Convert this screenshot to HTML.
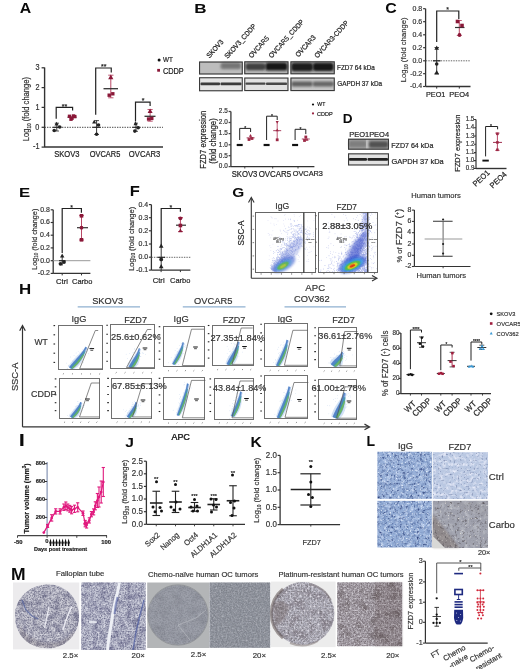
<!DOCTYPE html>
<html><head><meta charset="utf-8"><title>Figure</title>
<style>html,body{margin:0;padding:0;background:#fff;width:520px;height:669px;overflow:hidden}
svg{display:block;font-family:'Liberation Sans', Arial, sans-serif;filter:blur(0.3px)}</style></head>
<body><svg width="520" height="669" viewBox="0 0 520 669">
<defs><filter id="bl03" x="-50%" y="-50%" width="200%" height="200%"><feGaussianBlur stdDeviation="0.3"/></filter><filter id="bl05" x="-50%" y="-50%" width="200%" height="200%"><feGaussianBlur stdDeviation="0.5"/></filter><filter id="bl1" x="-50%" y="-50%" width="200%" height="200%"><feGaussianBlur stdDeviation="1"/></filter><clipPath id="cg1"><rect x="255.1" y="212.1" width="60.9" height="61.1"/></clipPath><clipPath id="cg2"><rect x="317.9" y="211.7" width="60.6" height="61"/></clipPath><clipPath id="ch0"><rect x="58" y="325.2" width="44.3" height="44.8"/></clipPath><clipPath id="ch1"><rect x="110.8" y="324.8" width="43.5" height="44"/></clipPath><clipPath id="ch2"><rect x="163.2" y="326.3" width="41.7" height="40.5"/></clipPath><clipPath id="ch3"><rect x="212.3" y="325.1" width="41.1" height="40.6"/></clipPath><clipPath id="ch4"><rect x="264.8" y="323.8" width="42.4" height="42.8"/></clipPath><clipPath id="ch5"><rect x="318.8" y="327.4" width="38.1" height="39.8"/></clipPath><clipPath id="ch6"><rect x="59.25" y="378.5" width="40.25" height="39.75"/></clipPath><clipPath id="ch7"><rect x="111.75" y="378" width="40.25" height="40.25"/></clipPath><clipPath id="ch8"><rect x="163.2" y="377.9" width="41.7" height="41.2"/></clipPath><clipPath id="ch9"><rect x="214" y="378.5" width="39.4" height="40.6"/></clipPath><clipPath id="ch10"><rect x="264.8" y="375.6" width="43" height="43"/></clipPath><clipPath id="ch11"><rect x="318.8" y="379.8" width="38.1" height="39.7"/></clipPath><filter id="lMot" x="0" y="0" width="100%" height="100%" color-interpolation-filters="sRGB"><feTurbulence type="fractalNoise" baseFrequency="0.25" numOctaves="2" seed="3" result="t"/><feColorMatrix in="t" type="matrix" values="0 0 0 0 0.8 0 0 0 0 0.86 0 0 0 0 0.96 2.2 0 0 0 -1" result="c"/><feComposite in="c" in2="SourceGraphic" operator="in"/></filter><filter id="lDot" x="0" y="0" width="100%" height="100%" color-interpolation-filters="sRGB"><feTurbulence type="fractalNoise" baseFrequency="0.5" numOctaves="2" seed="5" result="t"/><feColorMatrix in="t" type="matrix" values="0 0 0 0 0.22 0 0 0 0 0.31 0 0 0 0 0.53 4.5 0 0 0 -2.9" result="c"/><feComposite in="c" in2="SourceGraphic" operator="in"/></filter><filter id="lDot2" x="0" y="0" width="100%" height="100%" color-interpolation-filters="sRGB"><feTurbulence type="fractalNoise" baseFrequency="0.3" numOctaves="2" seed="9" result="t"/><feColorMatrix in="t" type="matrix" values="0 0 0 0 0.37 0 0 0 0 0.47 0 0 0 0 0.67 2 0 0 0 -0.95" result="c"/><feComposite in="c" in2="SourceGraphic" operator="in"/></filter><filter id="lMotB" x="0" y="0" width="100%" height="100%" color-interpolation-filters="sRGB"><feTurbulence type="fractalNoise" baseFrequency="0.25" numOctaves="2" seed="33" result="t"/><feColorMatrix in="t" type="matrix" values="0 0 0 0 0.8 0 0 0 0 0.86 0 0 0 0 0.96 2.2 0 0 0 -1" result="c"/><feComposite in="c" in2="SourceGraphic" operator="in"/></filter><filter id="lDotB" x="0" y="0" width="100%" height="100%" color-interpolation-filters="sRGB"><feTurbulence type="fractalNoise" baseFrequency="0.5" numOctaves="2" seed="35" result="t"/><feColorMatrix in="t" type="matrix" values="0 0 0 0 0.22 0 0 0 0 0.31 0 0 0 0 0.53 4.5 0 0 0 -2.9" result="c"/><feComposite in="c" in2="SourceGraphic" operator="in"/></filter><filter id="lDot2B" x="0" y="0" width="100%" height="100%" color-interpolation-filters="sRGB"><feTurbulence type="fractalNoise" baseFrequency="0.3" numOctaves="2" seed="39" result="t"/><feColorMatrix in="t" type="matrix" values="0 0 0 0 0.37 0 0 0 0 0.47 0 0 0 0 0.67 2 0 0 0 -0.95" result="c"/><feComposite in="c" in2="SourceGraphic" operator="in"/></filter><filter id="lWsp" x="0" y="0" width="100%" height="100%" color-interpolation-filters="sRGB"><feTurbulence type="fractalNoise" baseFrequency="0.6" numOctaves="2" seed="61" result="t"/><feColorMatrix in="t" type="matrix" values="0 0 0 0 0.92 0 0 0 0 0.95 0 0 0 0 0.99 3.2 0 0 0 -1.85" result="c"/><feComposite in="c" in2="SourceGraphic" operator="in"/></filter><filter id="lNav" x="0" y="0" width="100%" height="100%" color-interpolation-filters="sRGB"><feTurbulence type="fractalNoise" baseFrequency="0.35" numOctaves="2" seed="63" result="t"/><feColorMatrix in="t" type="matrix" values="0 0 0 0 0.16 0 0 0 0 0.24 0 0 0 0 0.47 3.4 0 0 0 -2.05" result="c"/><feComposite in="c" in2="SourceGraphic" operator="in"/></filter><filter id="lWspB" x="0" y="0" width="100%" height="100%" color-interpolation-filters="sRGB"><feTurbulence type="fractalNoise" baseFrequency="0.6" numOctaves="2" seed="65" result="t"/><feColorMatrix in="t" type="matrix" values="0 0 0 0 0.92 0 0 0 0 0.95 0 0 0 0 0.99 3.2 0 0 0 -1.85" result="c"/><feComposite in="c" in2="SourceGraphic" operator="in"/></filter><filter id="lNavB" x="0" y="0" width="100%" height="100%" color-interpolation-filters="sRGB"><feTurbulence type="fractalNoise" baseFrequency="0.35" numOctaves="2" seed="67" result="t"/><feColorMatrix in="t" type="matrix" values="0 0 0 0 0.16 0 0 0 0 0.24 0 0 0 0 0.47 3.4 0 0 0 -2.05" result="c"/><feComposite in="c" in2="SourceGraphic" operator="in"/></filter><filter id="lMot2" x="0" y="0" width="100%" height="100%" color-interpolation-filters="sRGB"><feTurbulence type="fractalNoise" baseFrequency="0.3" numOctaves="2" seed="11" result="t"/><feColorMatrix in="t" type="matrix" values="0 0 0 0 0.92 0 0 0 0 0.93 0 0 0 0 0.98 2.2 0 0 0 -0.95" result="c"/><feComposite in="c" in2="SourceGraphic" operator="in"/></filter><filter id="lDot3" x="0" y="0" width="100%" height="100%" color-interpolation-filters="sRGB"><feTurbulence type="fractalNoise" baseFrequency="0.5" numOctaves="2" seed="13" result="t"/><feColorMatrix in="t" type="matrix" values="0 0 0 0 0.41 0 0 0 0 0.47 0 0 0 0 0.63 3.2 0 0 0 -1.9" result="c"/><feComposite in="c" in2="SourceGraphic" operator="in"/></filter><filter id="lBrM" x="0" y="0" width="100%" height="100%" color-interpolation-filters="sRGB"><feTurbulence type="fractalNoise" baseFrequency="0.2" numOctaves="2" seed="17" result="t"/><feColorMatrix in="t" type="matrix" values="0 0 0 0 0.76 0 0 0 0 0.77 0 0 0 0 0.8 2 0 0 0 -0.9" result="c"/><feComposite in="c" in2="SourceGraphic" operator="in"/></filter><filter id="lBrD" x="0" y="0" width="100%" height="100%" color-interpolation-filters="sRGB"><feTurbulence type="fractalNoise" baseFrequency="0.4" numOctaves="2" seed="19" result="t"/><feColorMatrix in="t" type="matrix" values="0 0 0 0 0.31 0 0 0 0 0.29 0 0 0 0 0.31 2.8 0 0 0 -1.6" result="c"/><feComposite in="c" in2="SourceGraphic" operator="in"/></filter><filter id="lBrW" x="0" y="0" width="100%" height="100%" color-interpolation-filters="sRGB"><feTurbulence type="fractalNoise" baseFrequency="0.6" numOctaves="1" seed="23" result="t"/><feColorMatrix in="t" type="matrix" values="0 0 0 0 0.93 0 0 0 0 0.92 0 0 0 0 0.89 4 0 0 0 -2.6" result="c"/><feComposite in="c" in2="SourceGraphic" operator="in"/></filter><filter id="tx1" x="0" y="0" width="100%" height="100%" color-interpolation-filters="sRGB"><feTurbulence type="fractalNoise" baseFrequency="0.15" numOctaves="3" seed="3" result="t"/><feColorMatrix in="t" type="matrix" values="0 0 0 0 0.39 0 0 0 0 0.39 0 0 0 0 0.51 1.5 0 0 0 -0.6" result="c"/><feComposite in="c" in2="SourceGraphic" operator="in"/></filter><filter id="tx2" x="0" y="0" width="100%" height="100%" color-interpolation-filters="sRGB"><feTurbulence type="fractalNoise" baseFrequency="0.7" numOctaves="3" seed="5" result="t"/><feColorMatrix in="t" type="matrix" values="0 0 0 0 0.31 0 0 0 0 0.31 0 0 0 0 0.43 1.5 0 0 0 -0.55" result="c"/><feComposite in="c" in2="SourceGraphic" operator="in"/></filter><filter id="tx3" x="0" y="0" width="100%" height="100%" color-interpolation-filters="sRGB"><feTurbulence type="fractalNoise" baseFrequency="0.5" numOctaves="2" seed="7" result="t"/><feColorMatrix in="t" type="matrix" values="0 0 0 0 0.94 0 0 0 0 0.94 0 0 0 0 0.97 2.5 0 0 0 -1.4" result="c"/><feComposite in="c" in2="SourceGraphic" operator="in"/></filter><filter id="tx4" x="0" y="0" width="100%" height="100%" color-interpolation-filters="sRGB"><feTurbulence type="fractalNoise" baseFrequency="0.15" numOctaves="3" seed="13" result="t"/><feColorMatrix in="t" type="matrix" values="0 0 0 0 0.39 0 0 0 0 0.39 0 0 0 0 0.53 1.5 0 0 0 -0.6" result="c"/><feComposite in="c" in2="SourceGraphic" operator="in"/></filter><filter id="tx5" x="0" y="0" width="100%" height="100%" color-interpolation-filters="sRGB"><feTurbulence type="fractalNoise" baseFrequency="0.7" numOctaves="3" seed="15" result="t"/><feColorMatrix in="t" type="matrix" values="0 0 0 0 0.31 0 0 0 0 0.31 0 0 0 0 0.45 1.5 0 0 0 -0.55" result="c"/><feComposite in="c" in2="SourceGraphic" operator="in"/></filter><filter id="tx6" x="0" y="0" width="100%" height="100%" color-interpolation-filters="sRGB"><feTurbulence type="fractalNoise" baseFrequency="0.5" numOctaves="2" seed="17" result="t"/><feColorMatrix in="t" type="matrix" values="0 0 0 0 0.94 0 0 0 0 0.94 0 0 0 0 0.97 2.5 0 0 0 -1.4" result="c"/><feComposite in="c" in2="SourceGraphic" operator="in"/></filter><filter id="tx7" x="0" y="0" width="100%" height="100%" color-interpolation-filters="sRGB"><feTurbulence type="fractalNoise" baseFrequency="0.12" numOctaves="2" seed="23" result="t"/><feColorMatrix in="t" type="matrix" values="0 0 0 0 0.49 0 0 0 0 0.5 0 0 0 0 0.54 1.2 0 0 0 -0.5" result="c"/><feComposite in="c" in2="SourceGraphic" operator="in"/></filter><filter id="tx8" x="0" y="0" width="100%" height="100%" color-interpolation-filters="sRGB"><feTurbulence type="fractalNoise" baseFrequency="0.7" numOctaves="3" seed="25" result="t"/><feColorMatrix in="t" type="matrix" values="0 0 0 0 0.43 0 0 0 0 0.44 0 0 0 0 0.48 1 0 0 0 -0.38" result="c"/><feComposite in="c" in2="SourceGraphic" operator="in"/></filter><filter id="tx9" x="0" y="0" width="100%" height="100%" color-interpolation-filters="sRGB"><feTurbulence type="fractalNoise" baseFrequency="0.5" numOctaves="3" seed="33" result="t"/><feColorMatrix in="t" type="matrix" values="0 0 0 0 0.73 0 0 0 0 0.74 0 0 0 0 0.77 1.6 0 0 0 -0.6" result="c"/><feComposite in="c" in2="SourceGraphic" operator="in"/></filter><filter id="tx10" x="0" y="0" width="100%" height="100%" color-interpolation-filters="sRGB"><feTurbulence type="fractalNoise" baseFrequency="0.8" numOctaves="2" seed="35" result="t"/><feColorMatrix in="t" type="matrix" values="0 0 0 0 0.39 0 0 0 0 0.4 0 0 0 0 0.43 1.1 0 0 0 -0.4" result="c"/><feComposite in="c" in2="SourceGraphic" operator="in"/></filter><filter id="tx11" x="0" y="0" width="100%" height="100%" color-interpolation-filters="sRGB"><feTurbulence type="fractalNoise" baseFrequency="0.1" numOctaves="2" seed="43" result="t"/><feColorMatrix in="t" type="matrix" values="0 0 0 0 0.43 0 0 0 0 0.39 0 0 0 0 0.43 1.6 0 0 0 -0.75" result="c"/><feComposite in="c" in2="SourceGraphic" operator="in"/></filter><filter id="tx12" x="0" y="0" width="100%" height="100%" color-interpolation-filters="sRGB"><feTurbulence type="fractalNoise" baseFrequency="0.7" numOctaves="3" seed="45" result="t"/><feColorMatrix in="t" type="matrix" values="0 0 0 0 0.37 0 0 0 0 0.35 0 0 0 0 0.37 1.4 0 0 0 -0.52" result="c"/><feComposite in="c" in2="SourceGraphic" operator="in"/></filter><filter id="tx13" x="0" y="0" width="100%" height="100%" color-interpolation-filters="sRGB"><feTurbulence type="fractalNoise" baseFrequency="0.5" numOctaves="2" seed="47" result="t"/><feColorMatrix in="t" type="matrix" values="0 0 0 0 0.92 0 0 0 0 0.91 0 0 0 0 0.94 2.4 0 0 0 -1.15" result="c"/><feComposite in="c" in2="SourceGraphic" operator="in"/></filter><filter id="tx14" x="0" y="0" width="100%" height="100%" color-interpolation-filters="sRGB"><feTurbulence type="fractalNoise" baseFrequency="0.1" numOctaves="2" seed="53" result="t"/><feColorMatrix in="t" type="matrix" values="0 0 0 0 0.39 0 0 0 0 0.35 0 0 0 0 0.36 1.8 0 0 0 -0.85" result="c"/><feComposite in="c" in2="SourceGraphic" operator="in"/></filter><filter id="tx15" x="0" y="0" width="100%" height="100%" color-interpolation-filters="sRGB"><feTurbulence type="fractalNoise" baseFrequency="0.7" numOctaves="3" seed="55" result="t"/><feColorMatrix in="t" type="matrix" values="0 0 0 0 0.33 0 0 0 0 0.29 0 0 0 0 0.31 1.4 0 0 0 -0.5" result="c"/><feComposite in="c" in2="SourceGraphic" operator="in"/></filter><filter id="tx16" x="0" y="0" width="100%" height="100%" color-interpolation-filters="sRGB"><feTurbulence type="fractalNoise" baseFrequency="0.5" numOctaves="2" seed="57" result="t"/><feColorMatrix in="t" type="matrix" values="0 0 0 0 0.9 0 0 0 0 0.89 0 0 0 0 0.91 2.4 0 0 0 -1.2" result="c"/><feComposite in="c" in2="SourceGraphic" operator="in"/></filter></defs>
<text transform="translate(19.63 13.45) scale(1.14 1)" font-size="13.91" font-weight="bold" fill="#0a0a0a">A</text>
<line x1="44.6" y1="67.5" x2="44.6" y2="147.3" stroke="#333" stroke-width="1.4"/>
<line x1="41.6" y1="67.8" x2="44.6" y2="67.8" stroke="#333" stroke-width="1.26"/>
<text transform="translate(35.38 70.1) scale(0.87 1)" font-size="8.39" fill="#333" stroke="#333" stroke-width="0.21">3</text>
<line x1="41.6" y1="87.6" x2="44.6" y2="87.6" stroke="#333" stroke-width="1.26"/>
<text transform="translate(35.38 89.94) scale(0.87 1)" font-size="8.39" fill="#333" stroke="#333" stroke-width="0.21">2</text>
<line x1="41.6" y1="107.4" x2="44.6" y2="107.4" stroke="#333" stroke-width="1.26"/>
<text transform="translate(35.38 109.7) scale(0.87 1)" font-size="8.39" fill="#333" stroke="#333" stroke-width="0.21">1</text>
<line x1="41.6" y1="127.3" x2="44.6" y2="127.3" stroke="#333" stroke-width="1.26"/>
<text transform="translate(35.3 129.6) scale(0.87 1)" font-size="8.39" fill="#333" stroke="#333" stroke-width="0.21">0</text>
<line x1="41.6" y1="147.1" x2="44.6" y2="147.1" stroke="#333" stroke-width="1.26"/>
<text transform="translate(32.97 149.4) scale(0.87 1)" font-size="8.39" fill="#333" stroke="#333" stroke-width="0.21">-1</text>
<line x1="44.5" y1="146.9" x2="163" y2="146.9" stroke="#333" stroke-width="1.5"/>
<line x1="44.5" y1="127.3" x2="163" y2="127.3" stroke="#333" stroke-width="0.9" stroke-dasharray="1.4,1.1"/>
<text transform="translate(29.33 141.26) rotate(-90) scale(0.87 1)" font-size="8.73" fill="#333" stroke="#333" stroke-width="0.21">Log<tspan font-size="5.42" dy="1.84">10</tspan><tspan dy="-1.84"> (fold change)</tspan></text>
<text transform="translate(54.17 157.21) scale(0.87 1)" font-size="8.73" fill="#222" stroke="#222" stroke-width="0.21">SKOV3</text>
<text transform="translate(89.68 157.15) scale(0.87 1)" font-size="8.56" fill="#222" stroke="#222" stroke-width="0.21">OVCAR5</text>
<text transform="translate(128.87 157.23) scale(0.87 1)" font-size="8.78" fill="#222" stroke="#222" stroke-width="0.21">OVCAR3</text>
<polyline points="56.2,118.8 56.2,107.3 72.6,107.3 72.6,110.4" stroke="#222" stroke-width="1.2" fill="none"/>
<text transform="translate(61.87 108.95) scale(0.87 1)" font-size="8.05" fill="#222" stroke="#222" stroke-width="0.21">**</text>
<line x1="56.8" y1="123.2" x2="56.8" y2="131" stroke="#222" stroke-width="0.9"/>
<line x1="53" y1="127.3" x2="61.5" y2="127.3" stroke="#222" stroke-width="1.1"/>
<line x1="54.8" y1="123.2" x2="59" y2="123.2" stroke="#222" stroke-width="0.8"/>
<line x1="54.8" y1="131" x2="59" y2="131" stroke="#222" stroke-width="0.8"/>
<polygon points="54.5,125.48 58.7,125.48 56.6,121.7" fill="#222"/>
<circle cx="59.7" cy="127" r="1.8" fill="#222"/>
<circle cx="54.2" cy="130.5" r="1.8" fill="#222"/>
<line x1="67.5" y1="117.2" x2="76.5" y2="117.2" stroke="#333" stroke-width="1.1"/>
<rect x="67.8" y="114.6" width="3.4" height="3.4" fill="#8a1838"/>
<rect x="70.3" y="116.5" width="3.4" height="3.4" fill="#8a1838"/>
<rect x="73.1" y="114.9" width="3.4" height="3.4" fill="#8a1838"/>
<rect x="69.3" y="117.5" width="3.4" height="3.4" fill="#8a1838"/>
<rect x="71.8" y="114.3" width="3.4" height="3.4" fill="#8a1838"/>
<polyline points="95.7,114.7 95.7,68 111.25,68 111.25,72.5" stroke="#222" stroke-width="1.2" fill="none"/>
<text transform="translate(100.97 68.95) scale(0.87 1)" font-size="8.05" fill="#222" stroke="#222" stroke-width="0.21">**</text>
<line x1="96.6" y1="120.4" x2="96.6" y2="134.5" stroke="#222" stroke-width="0.9"/>
<line x1="92.5" y1="127.3" x2="100.5" y2="127.3" stroke="#222" stroke-width="1.1"/>
<line x1="94.3" y1="120.6" x2="99" y2="120.6" stroke="#222" stroke-width="0.8"/>
<line x1="94.3" y1="134.5" x2="99" y2="134.5" stroke="#222" stroke-width="0.8"/>
<polygon points="92.1,123.58 96.3,123.58 94.2,119.8" fill="#222"/>
<circle cx="98.5" cy="125" r="1.8" fill="#222"/>
<circle cx="96.6" cy="134.2" r="1.8" fill="#222"/>
<line x1="110.8" y1="75" x2="110.8" y2="97.8" stroke="#b84866" stroke-width="1"/>
<line x1="103.5" y1="88.7" x2="118" y2="88.7" stroke="#333" stroke-width="1.3"/>
<line x1="108.2" y1="75.2" x2="113.5" y2="75.2" stroke="#b84866" stroke-width="0.9"/>
<line x1="108.2" y1="97.8" x2="113.5" y2="97.8" stroke="#b84866" stroke-width="0.9"/>
<polygon points="108.2,79.28 113.4,79.28 110.8,74.6" fill="#8a1838"/>
<rect x="107.5" y="93.5" width="3.4" height="3.4" fill="#8a1838"/>
<rect x="111.1" y="92.1" width="3.4" height="3.4" fill="#8a1838"/>
<polyline points="135.5,121.6 135.5,102.1 150.1,102.1 150.1,106" stroke="#222" stroke-width="1.2" fill="none"/>
<text transform="translate(141.73 103.35) scale(0.87 1)" font-size="8.05" fill="#222" stroke="#222" stroke-width="0.21">*</text>
<line x1="136" y1="123" x2="136" y2="131.5" stroke="#222" stroke-width="0.9"/>
<line x1="132.5" y1="127.3" x2="139.5" y2="127.3" stroke="#222" stroke-width="1.1"/>
<line x1="134" y1="123.2" x2="138" y2="123.2" stroke="#222" stroke-width="0.8"/>
<line x1="134" y1="131.3" x2="138" y2="131.3" stroke="#222" stroke-width="0.8"/>
<polygon points="133.5,125.28 137.7,125.28 135.6,121.5" fill="#222"/>
<circle cx="138.2" cy="127.8" r="1.8" fill="#222"/>
<circle cx="134.8" cy="131.1" r="1.8" fill="#222"/>
<line x1="150.1" y1="109.5" x2="150.1" y2="121.2" stroke="#b84866" stroke-width="1"/>
<line x1="144.5" y1="116.3" x2="155.5" y2="116.3" stroke="#333" stroke-width="1.3"/>
<line x1="147.5" y1="109.5" x2="152.7" y2="109.5" stroke="#b84866" stroke-width="0.9"/>
<line x1="147.5" y1="121.2" x2="152.7" y2="121.2" stroke="#b84866" stroke-width="0.9"/>
<polygon points="147.6,113 152.6,113 150.1,108.5" fill="#8a1838"/>
<rect x="146.9" y="117.3" width="3.4" height="3.4" fill="#8a1838"/>
<rect x="150.1" y="116.7" width="3.4" height="3.4" fill="#8a1838"/>
<circle cx="159.1" cy="60.1" r="1.5" fill="#111"/>
<text transform="translate(163.05 62.42) scale(0.87 1)" font-size="7.29" fill="#222" stroke="#222" stroke-width="0.21">WT</text>
<rect x="157.2" y="68.9" width="2.8" height="2.8" fill="#8a1838"/>
<text transform="translate(162.88 73.62) scale(0.87 1)" font-size="8.48" fill="#222" stroke="#222" stroke-width="0.21">CDDP</text>
<text transform="translate(385.27 12.81) scale(1.13 1)" font-size="14.08" font-weight="bold" fill="#0a0a0a">C</text>
<line x1="425.6" y1="8.7" x2="425.6" y2="86.5" stroke="#333" stroke-width="1.3"/>
<line x1="423.1" y1="8.7" x2="425.6" y2="8.7" stroke="#333" stroke-width="1.17"/>
<text transform="translate(412.52 10.52)" font-size="7" fill="#333" stroke="#333" stroke-width="0.18">0.8</text>
<line x1="423.1" y1="21.7" x2="425.6" y2="21.7" stroke="#333" stroke-width="1.17"/>
<text transform="translate(412.52 23.51)" font-size="7" fill="#333" stroke="#333" stroke-width="0.18">0.6</text>
<line x1="423.1" y1="34.8" x2="425.6" y2="34.8" stroke="#333" stroke-width="1.17"/>
<text transform="translate(412.38 36.61)" font-size="7" fill="#333" stroke="#333" stroke-width="0.18">0.4</text>
<line x1="423.1" y1="47.7" x2="425.6" y2="47.7" stroke="#333" stroke-width="1.17"/>
<text transform="translate(412.52 49.52)" font-size="7" fill="#333" stroke="#333" stroke-width="0.18">0.2</text>
<line x1="423.1" y1="60.8" x2="425.6" y2="60.8" stroke="#333" stroke-width="1.17"/>
<text transform="translate(412.45 62.61)" font-size="7" fill="#333" stroke="#333" stroke-width="0.18">0.0</text>
<line x1="423.1" y1="73.7" x2="425.6" y2="73.7" stroke="#333" stroke-width="1.17"/>
<text transform="translate(410.14 75.52)" font-size="7" fill="#333" stroke="#333" stroke-width="0.18">-0.2</text>
<line x1="423.1" y1="86.5" x2="425.6" y2="86.5" stroke="#333" stroke-width="1.17"/>
<text transform="translate(410 88.32)" font-size="7" fill="#333" stroke="#333" stroke-width="0.18">-0.4</text>
<line x1="425.8" y1="86.5" x2="470.5" y2="86.5" stroke="#333" stroke-width="1.4"/>
<line x1="436.7" y1="86.5" x2="436.7" y2="88.6" stroke="#333" stroke-width="1"/>
<line x1="459.3" y1="86.5" x2="459.3" y2="88.6" stroke="#333" stroke-width="1"/>
<line x1="425.8" y1="60.8" x2="470.5" y2="60.8" stroke="#555" stroke-width="0.9" stroke-dasharray="1.4,1.1"/>
<text transform="translate(406.16 82.36) rotate(-90)" font-size="7.67" fill="#333" stroke="#333" stroke-width="0.18">Log<tspan font-size="4.76" dy="1.6">10</tspan><tspan dy="-1.6"> (fold change)</tspan></text>
<text transform="translate(425.97 96.71)" font-size="7.28" fill="#222" stroke="#222" stroke-width="0.18">PEO1</text>
<text transform="translate(449.35 96.77)" font-size="7.46" fill="#222" stroke="#222" stroke-width="0.18">PEO4</text>
<polyline points="436.7,42 436.7,11 458.8,11 458.8,19" stroke="#222" stroke-width="1.2" fill="none"/>
<text transform="translate(446.33 11.91)" font-size="7" fill="#222" stroke="#222" stroke-width="0.18">*</text>
<line x1="436.7" y1="47.5" x2="436.7" y2="74" stroke="#222" stroke-width="0.9"/>
<line x1="433" y1="60.8" x2="440.5" y2="60.8" stroke="#222" stroke-width="1.2"/>
<line x1="434.5" y1="47.5" x2="439" y2="47.5" stroke="#222" stroke-width="0.8"/>
<line x1="434.5" y1="74" x2="439" y2="74" stroke="#222" stroke-width="0.8"/>
<polygon points="434.4,49.64 439,49.64 436.7,45.5" fill="#222"/>
<circle cx="436.7" cy="64" r="1.8" fill="#222"/>
<polygon points="434.4,74.14 439,74.14 436.7,70" fill="#222"/>
<line x1="459.3" y1="20.5" x2="459.3" y2="35.5" stroke="#b84866" stroke-width="1"/>
<line x1="455" y1="27.5" x2="464.5" y2="27.5" stroke="#333" stroke-width="1.2"/>
<line x1="456.8" y1="20.5" x2="461.8" y2="20.5" stroke="#b84866" stroke-width="0.9"/>
<line x1="456.8" y1="35.5" x2="461.8" y2="35.5" stroke="#b84866" stroke-width="0.9"/>
<rect x="455.7" y="19.7" width="3.6" height="3.6" fill="#8a1838"/>
<rect x="460.2" y="23.7" width="3.6" height="3.6" fill="#8a1838"/>
<circle cx="459.5" cy="35" r="1.9" fill="#8a1838"/>
<text transform="translate(19.12 196.85) scale(1.27 1)" font-size="13.19" font-weight="bold" fill="#0a0a0a">E</text>
<line x1="53.2" y1="209.8" x2="53.2" y2="273.4" stroke="#333" stroke-width="1.3"/>
<line x1="50.7" y1="209.8" x2="53.2" y2="209.8" stroke="#333" stroke-width="1.17"/>
<text transform="translate(40.22 211.74) scale(0.95 1)" font-size="7.35" fill="#333" stroke="#333" stroke-width="0.19">0.8</text>
<line x1="50.7" y1="222.5" x2="53.2" y2="222.5" stroke="#333" stroke-width="1.17"/>
<text transform="translate(40.22 224.44) scale(0.95 1)" font-size="7.35" fill="#333" stroke="#333" stroke-width="0.19">0.6</text>
<line x1="50.7" y1="235.2" x2="53.2" y2="235.2" stroke="#333" stroke-width="1.17"/>
<text transform="translate(40.08 237.14) scale(0.95 1)" font-size="7.35" fill="#333" stroke="#333" stroke-width="0.19">0.4</text>
<line x1="50.7" y1="247.9" x2="53.2" y2="247.9" stroke="#333" stroke-width="1.17"/>
<text transform="translate(40.22 249.84) scale(0.95 1)" font-size="7.35" fill="#333" stroke="#333" stroke-width="0.19">0.2</text>
<line x1="50.7" y1="260.7" x2="53.2" y2="260.7" stroke="#333" stroke-width="1.17"/>
<text transform="translate(40.15 262.64) scale(0.95 1)" font-size="7.35" fill="#333" stroke="#333" stroke-width="0.19">0.0</text>
<line x1="50.7" y1="273.4" x2="53.2" y2="273.4" stroke="#333" stroke-width="1.17"/>
<text transform="translate(37.84 275.34) scale(0.95 1)" font-size="7.35" fill="#333" stroke="#333" stroke-width="0.19">-0.2</text>
<line x1="53.2" y1="273.4" x2="90.4" y2="273.4" stroke="#333" stroke-width="1.4"/>
<line x1="62.2" y1="273.4" x2="62.2" y2="275.4" stroke="#333" stroke-width="1"/>
<line x1="81.5" y1="273.4" x2="81.5" y2="275.4" stroke="#333" stroke-width="1"/>
<line x1="53.2" y1="260.7" x2="90.4" y2="260.7" stroke="#999" stroke-width="1"/>
<text transform="translate(36.54 269.83) rotate(-90) scale(0.95 1)" font-size="7.6" fill="#333" stroke="#333" stroke-width="0.19">Log<tspan font-size="4.71" dy="1.68">10</tspan><tspan dy="-1.68"> (fold change)</tspan></text>
<text transform="translate(55.97 284.27) scale(0.95 1)" font-size="8.09" fill="#222" stroke="#222" stroke-width="0.19">Ctrl</text>
<text transform="translate(72.03 284.2) scale(0.95 1)" font-size="7.88" fill="#222" stroke="#222" stroke-width="0.19">Carbo</text>
<polyline points="62.2,253 62.2,208.5 81.4,208.5 81.4,212.7" stroke="#222" stroke-width="1.2" fill="none"/>
<text transform="translate(70.14 210.09) scale(0.95 1)" font-size="7.35" fill="#222" stroke="#222" stroke-width="0.19">*</text>
<line x1="62.2" y1="255.5" x2="62.2" y2="265.5" stroke="#222" stroke-width="0.9"/>
<line x1="59" y1="260.7" x2="65.5" y2="260.7" stroke="#222" stroke-width="1.1"/>
<polygon points="60,257.56 64.4,257.56 62.2,253.6" fill="#222"/>
<circle cx="64" cy="262.1" r="1.9" fill="#222"/>
<circle cx="60.5" cy="263.8" r="1.9" fill="#222"/>
<line x1="81.5" y1="215.6" x2="81.5" y2="240" stroke="#b84866" stroke-width="1"/>
<line x1="77" y1="227.7" x2="88" y2="227.7" stroke="#333" stroke-width="1.2"/>
<line x1="79" y1="215.6" x2="84" y2="215.6" stroke="#b84866" stroke-width="0.9"/>
<line x1="79" y1="240" x2="84" y2="240" stroke="#b84866" stroke-width="0.9"/>
<rect x="79.7" y="214" width="3.6" height="3.6" fill="#8a1838"/>
<circle cx="81.5" cy="227.7" r="1.9" fill="#8a1838"/>
<rect x="79.7" y="238" width="3.6" height="3.6" fill="#8a1838"/>
<text transform="translate(129.75 196.25) scale(1.14 1)" font-size="14.49" font-weight="bold" fill="#0a0a0a">F</text>
<line x1="151.4" y1="204.6" x2="151.4" y2="270.1" stroke="#333" stroke-width="1.3"/>
<line x1="148.9" y1="204.6" x2="151.4" y2="204.6" stroke="#333" stroke-width="1.17"/>
<text transform="translate(138.38 206.54) scale(0.95 1)" font-size="7.35" fill="#333" stroke="#333" stroke-width="0.19">0.4</text>
<line x1="148.9" y1="217.7" x2="151.4" y2="217.7" stroke="#333" stroke-width="1.17"/>
<text transform="translate(138.52 219.64) scale(0.95 1)" font-size="7.35" fill="#333" stroke="#333" stroke-width="0.19">0.3</text>
<line x1="148.9" y1="230.8" x2="151.4" y2="230.8" stroke="#333" stroke-width="1.17"/>
<text transform="translate(138.52 232.74) scale(0.95 1)" font-size="7.35" fill="#333" stroke="#333" stroke-width="0.19">0.2</text>
<line x1="148.9" y1="244" x2="151.4" y2="244" stroke="#333" stroke-width="1.17"/>
<text transform="translate(138.52 245.94) scale(0.95 1)" font-size="7.35" fill="#333" stroke="#333" stroke-width="0.19">0.1</text>
<line x1="148.9" y1="257.2" x2="151.4" y2="257.2" stroke="#333" stroke-width="1.17"/>
<text transform="translate(138.45 259.14) scale(0.95 1)" font-size="7.35" fill="#333" stroke="#333" stroke-width="0.19">0.0</text>
<line x1="148.9" y1="270.1" x2="151.4" y2="270.1" stroke="#333" stroke-width="1.17"/>
<text transform="translate(136.14 272.04) scale(0.95 1)" font-size="7.35" fill="#333" stroke="#333" stroke-width="0.19">-0.1</text>
<line x1="151.4" y1="270.1" x2="190.4" y2="270.1" stroke="#333" stroke-width="1.4"/>
<line x1="161.1" y1="270.1" x2="161.1" y2="272.1" stroke="#333" stroke-width="1"/>
<line x1="180.4" y1="270.1" x2="180.4" y2="272.1" stroke="#333" stroke-width="1"/>
<line x1="151.4" y1="257.3" x2="190.4" y2="257.3" stroke="#555" stroke-width="0.9" stroke-dasharray="1.4,1.1"/>
<text transform="translate(133.73 270.86) rotate(-90) scale(0.95 1)" font-size="7.97" fill="#333" stroke="#333" stroke-width="0.19">Log<tspan font-size="4.95" dy="1.68">10</tspan><tspan dy="-1.68"> (fold change)</tspan></text>
<text transform="translate(152.67 282.87) scale(0.95 1)" font-size="8.09" fill="#222" stroke="#222" stroke-width="0.19">Ctrl</text>
<text transform="translate(170.03 282.8) scale(0.95 1)" font-size="7.88" fill="#222" stroke="#222" stroke-width="0.19">Carbo</text>
<polyline points="161.2,245 161.2,208.5 180.4,208.5 180.4,211.7" stroke="#222" stroke-width="1.2" fill="none"/>
<text transform="translate(169.44 210.09) scale(0.95 1)" font-size="7.35" fill="#222" stroke="#222" stroke-width="0.19">*</text>
<line x1="161.2" y1="245.5" x2="161.2" y2="270" stroke="#222" stroke-width="0.9"/>
<line x1="157.5" y1="257.3" x2="165" y2="257.3" stroke="#222" stroke-width="1.1"/>
<polygon points="158.9,247.64 163.5,247.64 161.2,243.5" fill="#222"/>
<circle cx="161.2" cy="259.4" r="1.9" fill="#222"/>
<polygon points="158.9,268.14 163.5,268.14 161.2,264" fill="#222"/>
<line x1="180.4" y1="217.5" x2="180.4" y2="231.5" stroke="#b84866" stroke-width="1"/>
<line x1="176" y1="225.2" x2="186" y2="225.2" stroke="#333" stroke-width="1.2"/>
<line x1="178" y1="217.5" x2="183" y2="217.5" stroke="#b84866" stroke-width="0.9"/>
<line x1="178" y1="231.5" x2="183" y2="231.5" stroke="#b84866" stroke-width="0.9"/>
<circle cx="180.4" cy="218.3" r="1.9" fill="#8a1838"/>
<rect x="178.6" y="223.7" width="3.6" height="3.6" fill="#8a1838"/>
<polygon points="178.3,232.18 182.5,232.18 180.4,228.4" fill="#8a1838"/>
<text transform="translate(194.21 13.05) scale(1.28 1)" font-size="13.33" font-weight="bold" fill="#0a0a0a">B</text>
<rect x="199" y="61.5" width="43.8" height="13" fill="#bdbdbd"/>
<rect x="220.5" y="62.8" width="20.5" height="6.5" rx="2.17" fill="#7a7a7a" opacity="0.85" filter="url(#bl1)"/>
<rect x="222" y="63.5" width="18" height="4" rx="1.33" fill="#6a6a6a" opacity="0.6" filter="url(#bl1)"/>
<rect x="199.55" y="62.05" width="42.7" height="11.9" fill="none" stroke="#3a3a3a" stroke-width="1.1"/>
<rect x="244.2" y="61.3" width="44.3" height="13" fill="#b8b8b8"/>
<rect x="245.5" y="63.2" width="20" height="7" rx="2.33" fill="#3a3a3a" opacity="0.95" filter="url(#bl1)"/>
<rect x="265.5" y="62.6" width="22" height="8" rx="2.67" fill="#151515" opacity="1" filter="url(#bl1)"/>
<rect x="244.75" y="61.85" width="43.2" height="11.9" fill="none" stroke="#3a3a3a" stroke-width="1.1"/>
<rect x="290.4" y="61.3" width="44.4" height="13" fill="#b0b0b0"/>
<rect x="291.3" y="62.8" width="21.5" height="8.5" rx="2.83" fill="#1a1a1a" opacity="1" filter="url(#bl1)"/>
<rect x="312.7" y="62.8" width="21" height="8.2" rx="2.73" fill="#161616" opacity="1" filter="url(#bl1)"/>
<rect x="290.95" y="61.85" width="43.3" height="11.9" fill="none" stroke="#3a3a3a" stroke-width="1.1"/>
<rect x="199" y="77.2" width="43.8" height="14.1" fill="#e4e4e4"/>
<rect x="200.5" y="82.6" width="19.5" height="2.6" rx="0.87" fill="#3a3a3a" opacity="1" filter="url(#bl05)"/>
<rect x="220.5" y="82.6" width="21" height="2.6" rx="0.87" fill="#3a3a3a" opacity="1" filter="url(#bl05)"/>
<rect x="199.55" y="77.75" width="42.7" height="13" fill="none" stroke="#3a3a3a" stroke-width="1.1"/>
<rect x="244.2" y="77.5" width="44.3" height="13.6" fill="#e2e2e2"/>
<rect x="245.5" y="82.4" width="20" height="2.4" rx="0.8" fill="#404040" opacity="0.95" filter="url(#bl05)"/>
<rect x="266" y="82.6" width="21" height="2.4" rx="0.8" fill="#404040" opacity="0.95" filter="url(#bl05)"/>
<rect x="244.75" y="78.05" width="43.2" height="12.5" fill="none" stroke="#3a3a3a" stroke-width="1.1"/>
<rect x="290.4" y="77.5" width="44.4" height="13.6" fill="#c6c6c6"/>
<rect x="291.5" y="81.4" width="21" height="5" rx="1.67" fill="#5a5a5a" opacity="0.95" filter="url(#bl1)"/>
<rect x="312.8" y="81.4" width="21" height="5" rx="1.67" fill="#606060" opacity="0.95" filter="url(#bl1)"/>
<rect x="290.95" y="78.05" width="43.3" height="12.5" fill="none" stroke="#3a3a3a" stroke-width="1.1"/>
<text transform="translate(337.04 70.48) scale(0.91 1)" font-size="6.99" fill="#222" stroke="#222" stroke-width="0.2">FZD7 64 kDa</text>
<text transform="translate(337.23 86.2) scale(0.91 1)" font-size="7.05" fill="#222" stroke="#222" stroke-width="0.2">GAPDH 37 kDa</text>
<text transform="translate(209.4 58.4) rotate(-48) scale(0.91 1)" font-size="7.15" fill="#222" stroke="#222" stroke-width="0.2">SKOV3</text>
<text transform="translate(227.4 59.1) rotate(-48) scale(0.91 1)" font-size="7.15" fill="#222" stroke="#222" stroke-width="0.2">SKOV3_CDDP</text>
<text transform="translate(251.7 58.4) rotate(-48) scale(0.91 1)" font-size="7.15" fill="#222" stroke="#222" stroke-width="0.2">OVCAR5</text>
<text transform="translate(271.8 58.4) rotate(-48) scale(0.91 1)" font-size="7.15" fill="#222" stroke="#222" stroke-width="0.2">OVCAR5_CDDP</text>
<text transform="translate(298.4 57.6) rotate(-48) scale(0.91 1)" font-size="7.15" fill="#222" stroke="#222" stroke-width="0.2">OVCAR3</text>
<text transform="translate(317.4 58.4) rotate(-48) scale(0.91 1)" font-size="7.15" fill="#222" stroke="#222" stroke-width="0.2">OVCAR3-CDDP</text>
<line x1="230.9" y1="111.5" x2="230.9" y2="166.6" stroke="#444" stroke-width="1.4"/>
<line x1="228.6" y1="111.5" x2="230.9" y2="111.5" stroke="#444" stroke-width="1.26"/>
<text transform="translate(218.86 113.33) scale(0.91 1)" font-size="7.04" fill="#333" stroke="#333" stroke-width="0.2">2.5</text>
<line x1="228.6" y1="122.5" x2="230.9" y2="122.5" stroke="#444" stroke-width="1.26"/>
<text transform="translate(218.86 124.33) scale(0.91 1)" font-size="7.04" fill="#333" stroke="#333" stroke-width="0.2">2.0</text>
<line x1="228.6" y1="133.6" x2="230.9" y2="133.6" stroke="#444" stroke-width="1.26"/>
<text transform="translate(218.86 135.39) scale(0.91 1)" font-size="7.04" fill="#333" stroke="#333" stroke-width="0.2">1.5</text>
<line x1="228.6" y1="144.8" x2="230.9" y2="144.8" stroke="#444" stroke-width="1.26"/>
<text transform="translate(218.86 146.63) scale(0.91 1)" font-size="7.04" fill="#333" stroke="#333" stroke-width="0.2">1.0</text>
<line x1="228.6" y1="155.7" x2="230.9" y2="155.7" stroke="#444" stroke-width="1.26"/>
<text transform="translate(218.86 157.53) scale(0.91 1)" font-size="7.04" fill="#333" stroke="#333" stroke-width="0.2">0.5</text>
<line x1="228.6" y1="166.6" x2="230.9" y2="166.6" stroke="#444" stroke-width="1.26"/>
<text transform="translate(218.86 168.43) scale(0.91 1)" font-size="7.04" fill="#333" stroke="#333" stroke-width="0.2">0.0</text>
<line x1="230.9" y1="166.6" x2="314.4" y2="166.6" stroke="#333" stroke-width="1.4"/>
<line x1="244.8" y1="166.5" x2="244.8" y2="168.5" stroke="#333" stroke-width="0.9"/>
<line x1="272.7" y1="166.5" x2="272.7" y2="168.5" stroke="#333" stroke-width="0.9"/>
<line x1="298" y1="166.5" x2="298" y2="168.5" stroke="#333" stroke-width="0.9"/>
<text transform="translate(205.73 168.66) rotate(-90) scale(0.91 1)" font-size="8.36" fill="#222" stroke="#222" stroke-width="0.2">FZD7 expression</text>
<text transform="translate(215.99 163.72) rotate(-90) scale(0.91 1)" font-size="8.58" fill="#222" stroke="#222" stroke-width="0.2">(fold change)</text>
<text transform="translate(231.67 176.62) scale(0.91 1)" font-size="8.45" fill="#222" stroke="#222" stroke-width="0.2">SKOV3</text>
<text transform="translate(258.65 176.7) scale(0.91 1)" font-size="8.71" fill="#222" stroke="#222" stroke-width="0.2">OVCAR5</text>
<text transform="translate(292.68 176.49) scale(0.91 1)" font-size="8.1" fill="#222" stroke="#222" stroke-width="0.2">OVCAR3</text>
<line x1="236.7" y1="145" x2="242.7" y2="145" stroke="#111" stroke-width="2.2"/>
<polyline points="239.7,140 239.7,128.4 250.6,128.4 250.6,132" stroke="#222" stroke-width="1" fill="none"/>
<text transform="translate(244.17 130.03) scale(0.91 1)" font-size="5.5" fill="#222" stroke="#222" stroke-width="0.2">*</text>
<line x1="250.6" y1="135.5" x2="250.6" y2="139.5" stroke="#b84866" stroke-width="0.9"/>
<line x1="246.6" y1="137.83" x2="254.6" y2="137.83" stroke="#a03050" stroke-width="0.9"/>
<polygon points="248.9,136.78 252.1,136.78 250.5,133.9" fill="#9c2845"/>
<rect x="247.6" y="138.1" width="2.8" height="2.8" fill="#9c2845"/>
<rect x="250.6" y="137.1" width="2.8" height="2.8" fill="#9c2845"/>
<line x1="263.6" y1="145" x2="269.6" y2="145" stroke="#111" stroke-width="2.2"/>
<polyline points="266.6,140 266.6,116.2 277.2,116.2 277.2,120" stroke="#222" stroke-width="1" fill="none"/>
<text transform="translate(270.92 117.83) scale(0.91 1)" font-size="5.5" fill="#222" stroke="#222" stroke-width="0.2">*</text>
<line x1="277.2" y1="122.2" x2="277.2" y2="139.8" stroke="#b84866" stroke-width="0.9"/>
<line x1="273.2" y1="130.67" x2="281.2" y2="130.67" stroke="#a03050" stroke-width="0.9"/>
<polygon points="275.6,120.92 278.8,120.92 277.2,123.8" fill="#9c2845"/>
<polygon points="275.6,131.28 278.8,131.28 277.2,128.4" fill="#9c2845"/>
<rect x="275.8" y="138.4" width="2.8" height="2.8" fill="#9c2845"/>
<line x1="292.1" y1="145" x2="298.1" y2="145" stroke="#111" stroke-width="2.2"/>
<polyline points="295.1,140 295.1,129.3 305.8,129.3 305.8,134.1" stroke="#222" stroke-width="1" fill="none"/>
<text transform="translate(299.48 130.93) scale(0.91 1)" font-size="5.5" fill="#222" stroke="#222" stroke-width="0.2">*</text>
<line x1="305.8" y1="137" x2="305.8" y2="140.5" stroke="#b84866" stroke-width="0.9"/>
<line x1="301.8" y1="139" x2="309.8" y2="139" stroke="#a03050" stroke-width="0.9"/>
<rect x="304.4" y="135.6" width="2.8" height="2.8" fill="#9c2845"/>
<rect x="303.1" y="139.1" width="2.8" height="2.8" fill="#9c2845"/>
<polygon points="305.4,140.78 308.6,140.78 307,137.9" fill="#9c2845"/>
<circle cx="313" cy="104.5" r="1.1" fill="#111"/>
<text transform="translate(317.35 106.43) scale(0.91 1)" font-size="5.61" fill="#222" stroke="#222" stroke-width="0.2">WT</text>
<circle cx="313" cy="113.4" r="1.1" fill="#9c2845"/>
<text transform="translate(317.07 115.51) scale(0.91 1)" font-size="6.1" fill="#222" stroke="#222" stroke-width="0.2">CDDP</text>
<text transform="translate(342.65 123.45) scale(1.09 1)" font-size="12.46" font-weight="bold" fill="#0a0a0a">D</text>
<text transform="translate(349.15 137.12) scale(0.95 1)" font-size="7.89" fill="#222" stroke="#222" stroke-width="0.19">PEO1PEO4</text>
<rect x="348" y="138.7" width="41" height="11" fill="#a4a4a4"/>
<rect x="349" y="140.8" width="17.5" height="6.5" rx="2.17" fill="#7a7a7a" opacity="0.9" filter="url(#bl1)"/>
<rect x="366" y="139" width="2.5" height="10.5" fill="#bcbcbc" filter="url(#bl05)"/>
<rect x="369" y="141.2" width="19" height="6.5" rx="2.17" fill="#4a4a4a" opacity="0.9" filter="url(#bl1)"/>
<rect x="348.55" y="139.25" width="39.9" height="9.9" fill="none" stroke="#3a3a3a" stroke-width="1.1"/>
<rect x="348" y="153.3" width="41" height="12.2" fill="#e2e2e2"/>
<rect x="349" y="158" width="18" height="2.8" rx="0.93" fill="#222" opacity="1" filter="url(#bl05)"/>
<rect x="367.5" y="158" width="20.5" height="2.8" rx="0.93" fill="#222" opacity="1" filter="url(#bl05)"/>
<rect x="348.55" y="153.85" width="39.9" height="11.1" fill="none" stroke="#3a3a3a" stroke-width="1.1"/>
<text transform="translate(391.28 148.25) scale(0.95 1)" font-size="7.46" fill="#222" stroke="#222" stroke-width="0.19">FZD7 64 kDa</text>
<text transform="translate(391.48 164.2) scale(0.95 1)" font-size="7.87" fill="#222" stroke="#222" stroke-width="0.19">GAPDH 37 kDa</text>
<line x1="476" y1="119.5" x2="476" y2="168.5" stroke="#333" stroke-width="1.2"/>
<line x1="474" y1="119.5" x2="476" y2="119.5" stroke="#333" stroke-width="1.08"/>
<text transform="translate(465.73 121.11) scale(0.95 1)" font-size="6.51" fill="#333" stroke="#333" stroke-width="0.19">1.5</text>
<line x1="474" y1="127.8" x2="476" y2="127.8" stroke="#333" stroke-width="1.08"/>
<text transform="translate(465.67 129.45) scale(0.95 1)" font-size="6.51" fill="#333" stroke="#333" stroke-width="0.19">1.4</text>
<line x1="474" y1="136" x2="476" y2="136" stroke="#333" stroke-width="1.08"/>
<text transform="translate(465.79 137.65) scale(0.95 1)" font-size="6.51" fill="#333" stroke="#333" stroke-width="0.19">1.3</text>
<line x1="474" y1="144.3" x2="476" y2="144.3" stroke="#333" stroke-width="1.08"/>
<text transform="translate(465.79 145.98) scale(0.95 1)" font-size="6.51" fill="#333" stroke="#333" stroke-width="0.19">1.2</text>
<line x1="474" y1="152.6" x2="476" y2="152.6" stroke="#333" stroke-width="1.08"/>
<text transform="translate(465.79 154.25) scale(0.95 1)" font-size="6.51" fill="#333" stroke="#333" stroke-width="0.19">1.1</text>
<line x1="474" y1="160.6" x2="476" y2="160.6" stroke="#333" stroke-width="1.08"/>
<text transform="translate(465.73 162.25) scale(0.95 1)" font-size="6.51" fill="#333" stroke="#333" stroke-width="0.19">1.0</text>
<line x1="474" y1="168.5" x2="476" y2="168.5" stroke="#333" stroke-width="1.08"/>
<text transform="translate(465.79 170.15) scale(0.95 1)" font-size="6.51" fill="#333" stroke="#333" stroke-width="0.19">0.9</text>
<line x1="476" y1="168.5" x2="506.5" y2="168.5" stroke="#333" stroke-width="1.4"/>
<text transform="translate(459.63 171.86) rotate(-90) scale(0.95 1)" font-size="7.94" fill="#222" stroke="#222" stroke-width="0.19">FZD7 expression</text>
<line x1="482.4" y1="160.6" x2="488.8" y2="160.6" stroke="#111" stroke-width="1.9"/>
<polyline points="485.6,156.4 485.6,126.5 497.6,126.5 497.6,129.3" stroke="#222" stroke-width="1" fill="none"/>
<text transform="translate(489.92 128.2) scale(0.95 1)" font-size="5.25" fill="#222" stroke="#222" stroke-width="0.19">*</text>
<line x1="497.4" y1="133.1" x2="497.4" y2="150.4" stroke="#b84866" stroke-width="1"/>
<line x1="493" y1="142.4" x2="502" y2="142.4" stroke="#a03050" stroke-width="1"/>
<line x1="495.2" y1="133.1" x2="499.6" y2="133.1" stroke="#b84866" stroke-width="0.9"/>
<line x1="495.2" y1="150.4" x2="499.6" y2="150.4" stroke="#b84866" stroke-width="0.9"/>
<rect x="496.1" y="132.5" width="2.6" height="2.6" fill="#9c2845"/>
<rect x="496.1" y="141.1" width="2.6" height="2.6" fill="#9c2845"/>
<rect x="496.1" y="148.5" width="2.6" height="2.6" fill="#9c2845"/>
<text transform="translate(475.75 187.09) rotate(-43) scale(0.95 1)" font-size="7.88" fill="#222" stroke="#222" stroke-width="0.19">PEO1</text>
<text transform="translate(492.79 188.64) rotate(-43) scale(0.95 1)" font-size="7.88" fill="#222" stroke="#222" stroke-width="0.19">PEO4</text>
<text transform="translate(232.18 196.82) scale(1.23 1)" font-size="12.54" font-weight="bold" fill="#0a0a0a">G</text>
<line x1="251.3" y1="278.3" x2="251.3" y2="198.5" stroke="#333" stroke-width="1.1"/>
<polyline points="248.5,202.5 251.3,197.5 254.1,202.5" stroke="#333" stroke-width="1.1" fill="none"/>
<line x1="251.3" y1="278.3" x2="376" y2="278.3" stroke="#333" stroke-width="1.1"/>
<polyline points="372,275.5 377,278.3 372,281.1" stroke="#333" stroke-width="1.1" fill="none"/>
<text transform="translate(244.41 245.46) rotate(-90)" font-size="8.13" fill="#222" stroke="#222" stroke-width="0.18">SSC-A</text>
<text transform="translate(275.37 208.88)" font-size="8.68" fill="#333" stroke="#333" stroke-width="0.18">IgG</text>
<text transform="translate(336.39 209.84)" font-size="8.23" fill="#333" stroke="#333" stroke-width="0.18">FZD7</text>
<text transform="translate(305.35 291.01)" font-size="9.6" fill="#333" stroke="#333" stroke-width="0.18">APC</text>
<text transform="translate(294.09 301.7)" font-size="9.28" fill="#333" stroke="#333" stroke-width="0.18">COV362</text>
<rect x="255.1" y="212.1" width="60.9" height="61.1" fill="#fff"/>
<g fill="#a0a6e2" opacity="0.55" clip-path="url(#cg1)"><circle cx="283.54" cy="220.39" r="0.42"/><circle cx="299.24" cy="216.55" r="0.42"/><circle cx="293.72" cy="230.92" r="0.42"/><circle cx="270.78" cy="237.86" r="0.42"/><circle cx="269.8" cy="234.25" r="0.42"/><circle cx="271.35" cy="217.44" r="0.42"/><circle cx="288.38" cy="253.52" r="0.42"/><circle cx="273.94" cy="223.94" r="0.42"/><circle cx="298.12" cy="259.44" r="0.42"/><circle cx="295.7" cy="232.44" r="0.42"/><circle cx="314.86" cy="215.28" r="0.42"/><circle cx="309.21" cy="227.19" r="0.42"/><circle cx="274.92" cy="218.77" r="0.42"/><circle cx="282.81" cy="252.99" r="0.42"/><circle cx="276.67" cy="241.5" r="0.42"/><circle cx="298.67" cy="231.25" r="0.42"/><circle cx="294.29" cy="216.08" r="0.42"/><circle cx="270.86" cy="223.09" r="0.42"/><circle cx="300.66" cy="233.95" r="0.42"/><circle cx="283.08" cy="241.69" r="0.42"/><circle cx="289.75" cy="227.69" r="0.42"/><circle cx="306.13" cy="247.25" r="0.42"/><circle cx="279.72" cy="241.15" r="0.42"/><circle cx="293.21" cy="255.88" r="0.42"/><circle cx="303.01" cy="227.11" r="0.42"/><circle cx="315.05" cy="218.79" r="0.42"/><circle cx="288.07" cy="250.1" r="0.42"/><circle cx="275.3" cy="236.96" r="0.42"/><circle cx="269.88" cy="245.74" r="0.42"/><circle cx="304.7" cy="241.08" r="0.42"/><circle cx="310.02" cy="228.37" r="0.42"/><circle cx="301.37" cy="242.12" r="0.42"/><circle cx="295.83" cy="235.35" r="0.42"/><circle cx="308.32" cy="259.29" r="0.42"/><circle cx="290.76" cy="245.54" r="0.42"/><circle cx="270.91" cy="247.37" r="0.42"/><circle cx="299.06" cy="261.66" r="0.42"/><circle cx="307.45" cy="226.95" r="0.42"/><circle cx="286.52" cy="245.76" r="0.42"/><circle cx="269.08" cy="235.62" r="0.42"/><circle cx="276.07" cy="218.74" r="0.42"/><circle cx="270.83" cy="250.64" r="0.42"/><circle cx="274.21" cy="225.13" r="0.42"/><circle cx="286.77" cy="255.7" r="0.42"/><circle cx="271.87" cy="235.01" r="0.42"/><circle cx="294.37" cy="256.29" r="0.42"/><circle cx="307.33" cy="255.34" r="0.42"/><circle cx="281.36" cy="233.35" r="0.42"/><circle cx="285.22" cy="256.33" r="0.42"/><circle cx="313.97" cy="220.4" r="0.42"/><circle cx="276.46" cy="224.37" r="0.42"/><circle cx="279.2" cy="236.76" r="0.42"/><circle cx="296.28" cy="225.87" r="0.42"/><circle cx="268.2" cy="233.53" r="0.42"/><circle cx="285.72" cy="240.75" r="0.42"/><circle cx="313.75" cy="246.83" r="0.42"/><circle cx="292.74" cy="243.26" r="0.42"/><circle cx="300.46" cy="215.65" r="0.42"/><circle cx="311.18" cy="251.22" r="0.42"/><circle cx="309.98" cy="252.1" r="0.42"/><circle cx="286.83" cy="232.55" r="0.42"/><circle cx="272.97" cy="244.08" r="0.42"/><circle cx="270.99" cy="216.3" r="0.42"/><circle cx="278.02" cy="220.95" r="0.42"/><circle cx="284.32" cy="215.58" r="0.42"/><circle cx="268.01" cy="220.41" r="0.42"/><circle cx="272.87" cy="230.82" r="0.42"/><circle cx="269.22" cy="255.84" r="0.42"/><circle cx="297.48" cy="220.28" r="0.42"/><circle cx="280.11" cy="230.02" r="0.42"/><circle cx="285.48" cy="219.02" r="0.42"/><circle cx="308.75" cy="261.66" r="0.42"/><circle cx="290.37" cy="236.71" r="0.42"/><circle cx="272.12" cy="218.01" r="0.42"/><circle cx="284.45" cy="225.97" r="0.42"/><circle cx="307.79" cy="220.91" r="0.42"/><circle cx="269.11" cy="259.6" r="0.42"/><circle cx="293.36" cy="220.18" r="0.42"/><circle cx="294.07" cy="214.33" r="0.42"/><circle cx="293.35" cy="260.95" r="0.42"/><circle cx="309.44" cy="247.11" r="0.42"/><circle cx="280.53" cy="230.97" r="0.42"/><circle cx="276.02" cy="250.82" r="0.42"/><circle cx="293.56" cy="251.17" r="0.42"/><circle cx="283.82" cy="223.93" r="0.42"/><circle cx="306.95" cy="261.26" r="0.42"/><circle cx="308.93" cy="252.5" r="0.42"/><circle cx="307.28" cy="249.25" r="0.42"/><circle cx="278.88" cy="238.36" r="0.42"/><circle cx="285.07" cy="214.42" r="0.42"/></g>
<g fill="#4a62cc" opacity="0.45" clip-path="url(#cg1)"><circle cx="273.06" cy="269.52" r="0.45"/><circle cx="295.26" cy="245.53" r="0.45"/><circle cx="288.46" cy="219.12" r="0.45"/><circle cx="308.4" cy="230.08" r="0.45"/><circle cx="299.26" cy="226.68" r="0.45"/><circle cx="278.24" cy="264.78" r="0.45"/><circle cx="277.19" cy="265.61" r="0.45"/><circle cx="307.67" cy="237.16" r="0.45"/><circle cx="289.74" cy="229.85" r="0.45"/><circle cx="296.88" cy="238.12" r="0.45"/><circle cx="272.4" cy="267.25" r="0.45"/><circle cx="285.95" cy="232.02" r="0.45"/><circle cx="291.04" cy="238.1" r="0.45"/><circle cx="295.95" cy="238.34" r="0.45"/><circle cx="282.07" cy="261.46" r="0.45"/><circle cx="274.86" cy="252.58" r="0.45"/><circle cx="286.28" cy="260.09" r="0.45"/><circle cx="274.91" cy="265.34" r="0.45"/><circle cx="276.93" cy="268.67" r="0.45"/><circle cx="305.31" cy="243.36" r="0.45"/><circle cx="277.47" cy="268.2" r="0.45"/><circle cx="280.08" cy="237.8" r="0.45"/><circle cx="279.24" cy="258.44" r="0.45"/><circle cx="272.89" cy="269.72" r="0.45"/><circle cx="298.26" cy="224.61" r="0.45"/><circle cx="295.31" cy="225.81" r="0.45"/><circle cx="286.88" cy="258.39" r="0.45"/><circle cx="274.21" cy="262.83" r="0.45"/><circle cx="277.4" cy="262.88" r="0.45"/><circle cx="290.81" cy="250.47" r="0.45"/><circle cx="277.03" cy="262.21" r="0.45"/><circle cx="301.81" cy="232.3" r="0.45"/><circle cx="277.35" cy="256.93" r="0.45"/><circle cx="302.06" cy="232.96" r="0.45"/><circle cx="285.6" cy="258.37" r="0.45"/><circle cx="284.18" cy="249.84" r="0.45"/><circle cx="289.63" cy="254.17" r="0.45"/><circle cx="276.36" cy="265.71" r="0.45"/><circle cx="273.26" cy="270.14" r="0.45"/><circle cx="282.44" cy="252.68" r="0.45"/><circle cx="289.22" cy="238.82" r="0.45"/><circle cx="284.71" cy="251.15" r="0.45"/><circle cx="287.38" cy="250.36" r="0.45"/><circle cx="285.49" cy="248.71" r="0.45"/><circle cx="277.13" cy="262.87" r="0.45"/><circle cx="291.12" cy="256.3" r="0.45"/><circle cx="287.74" cy="250.15" r="0.45"/><circle cx="276.7" cy="250.77" r="0.45"/><circle cx="284.25" cy="244.04" r="0.45"/><circle cx="291.7" cy="243.07" r="0.45"/><circle cx="280.21" cy="252.57" r="0.45"/><circle cx="300.14" cy="228.45" r="0.45"/><circle cx="299.77" cy="248.11" r="0.45"/><circle cx="274.47" cy="260.44" r="0.45"/><circle cx="293.71" cy="254.42" r="0.45"/><circle cx="274.03" cy="266.24" r="0.45"/><circle cx="274.23" cy="267.05" r="0.45"/><circle cx="277.81" cy="263.76" r="0.45"/><circle cx="272.69" cy="267.88" r="0.45"/><circle cx="290.93" cy="225.93" r="0.45"/><circle cx="274.96" cy="266.1" r="0.45"/><circle cx="272.86" cy="265.18" r="0.45"/><circle cx="303.11" cy="235.5" r="0.45"/><circle cx="301.15" cy="228.19" r="0.45"/><circle cx="273.55" cy="251.53" r="0.45"/><circle cx="298.5" cy="236.54" r="0.45"/><circle cx="273.76" cy="264.95" r="0.45"/><circle cx="281.45" cy="260.64" r="0.45"/><circle cx="275.19" cy="264.28" r="0.45"/><circle cx="275.05" cy="271.09" r="0.45"/><circle cx="286.32" cy="249.73" r="0.45"/><circle cx="280.15" cy="260.21" r="0.45"/><circle cx="287.93" cy="245.72" r="0.45"/><circle cx="303.2" cy="226.76" r="0.45"/><circle cx="297.83" cy="239.69" r="0.45"/><circle cx="278" cy="262.53" r="0.45"/><circle cx="273.59" cy="269.57" r="0.45"/><circle cx="273.71" cy="266.35" r="0.45"/><circle cx="287.24" cy="259.39" r="0.45"/><circle cx="275.93" cy="261.49" r="0.45"/><circle cx="277.29" cy="267.93" r="0.45"/><circle cx="289.33" cy="240.84" r="0.45"/><circle cx="276.3" cy="269.76" r="0.45"/><circle cx="284.35" cy="257.21" r="0.45"/><circle cx="275.77" cy="270.02" r="0.45"/><circle cx="293.25" cy="235.46" r="0.45"/><circle cx="274.43" cy="268.68" r="0.45"/><circle cx="296.78" cy="232.84" r="0.45"/><circle cx="281.6" cy="253.43" r="0.45"/><circle cx="307.39" cy="234.71" r="0.45"/><circle cx="280.05" cy="263.82" r="0.45"/><circle cx="279.28" cy="264.89" r="0.45"/><circle cx="274.83" cy="267.96" r="0.45"/><circle cx="277.09" cy="265.28" r="0.45"/><circle cx="278.08" cy="259.94" r="0.45"/><circle cx="282.41" cy="264.19" r="0.45"/><circle cx="286.51" cy="253.66" r="0.45"/><circle cx="274.22" cy="270.55" r="0.45"/><circle cx="281.15" cy="265.53" r="0.45"/><circle cx="287.43" cy="250.71" r="0.45"/><circle cx="272.06" cy="262.44" r="0.45"/><circle cx="275.07" cy="268.25" r="0.45"/><circle cx="291.08" cy="232.56" r="0.45"/><circle cx="299.87" cy="237.31" r="0.45"/><circle cx="277.59" cy="254.64" r="0.45"/><circle cx="302.86" cy="226.76" r="0.45"/><circle cx="282.24" cy="260.97" r="0.45"/><circle cx="284.24" cy="242.28" r="0.45"/><circle cx="281.6" cy="256.65" r="0.45"/><circle cx="275.41" cy="267.51" r="0.45"/><circle cx="273.8" cy="268.73" r="0.45"/><circle cx="274.36" cy="265.28" r="0.45"/><circle cx="275.71" cy="269.54" r="0.45"/><circle cx="283.75" cy="239.31" r="0.45"/><circle cx="278.7" cy="262.1" r="0.45"/><circle cx="286.43" cy="256.37" r="0.45"/><circle cx="274.3" cy="265.5" r="0.45"/><circle cx="304.03" cy="229.37" r="0.45"/><circle cx="298.36" cy="224.52" r="0.45"/><circle cx="301.21" cy="227.09" r="0.45"/><circle cx="279.3" cy="260.92" r="0.45"/><circle cx="281.54" cy="258.08" r="0.45"/><circle cx="282.21" cy="252.45" r="0.45"/><circle cx="285.28" cy="252.49" r="0.45"/><circle cx="272.97" cy="269.93" r="0.45"/><circle cx="283.19" cy="258.08" r="0.45"/><circle cx="274.56" cy="270.18" r="0.45"/><circle cx="277.57" cy="264.02" r="0.45"/><circle cx="281.82" cy="244.35" r="0.45"/><circle cx="289.32" cy="244.13" r="0.45"/><circle cx="296.05" cy="244.25" r="0.45"/><circle cx="278.17" cy="259.16" r="0.45"/><circle cx="309.4" cy="231.06" r="0.45"/><circle cx="295.46" cy="249.44" r="0.45"/><circle cx="274.91" cy="270.36" r="0.45"/><circle cx="282.17" cy="241.5" r="0.45"/><circle cx="294.4" cy="241.7" r="0.45"/><circle cx="284.2" cy="250.42" r="0.45"/><circle cx="288.38" cy="254.65" r="0.45"/><circle cx="288.72" cy="230.32" r="0.45"/><circle cx="292.5" cy="251.8" r="0.45"/><circle cx="287.7" cy="240.27" r="0.45"/><circle cx="278.31" cy="264.67" r="0.45"/><circle cx="281.1" cy="259.08" r="0.45"/><circle cx="275.48" cy="268.59" r="0.45"/><circle cx="285.09" cy="243.47" r="0.45"/><circle cx="287.5" cy="245.25" r="0.45"/><circle cx="271.67" cy="269.05" r="0.45"/><circle cx="295.78" cy="237.53" r="0.45"/><circle cx="282.17" cy="248.22" r="0.45"/><circle cx="297.01" cy="249.29" r="0.45"/><circle cx="279.2" cy="264.09" r="0.45"/><circle cx="273.7" cy="268.52" r="0.45"/><circle cx="279.7" cy="266.91" r="0.45"/><circle cx="299.11" cy="244.47" r="0.45"/><circle cx="280.99" cy="257.65" r="0.45"/><circle cx="282.26" cy="252.19" r="0.45"/><circle cx="282.93" cy="242.79" r="0.45"/><circle cx="292.14" cy="247.19" r="0.45"/><circle cx="278.43" cy="263.47" r="0.45"/><circle cx="291.7" cy="239.1" r="0.45"/><circle cx="274.66" cy="270.97" r="0.45"/><circle cx="273.46" cy="268.83" r="0.45"/><circle cx="298.46" cy="247.75" r="0.45"/><circle cx="289.93" cy="243.17" r="0.45"/><circle cx="287.66" cy="256.87" r="0.45"/><circle cx="288.95" cy="257.65" r="0.45"/><circle cx="279.19" cy="266.86" r="0.45"/><circle cx="304.18" cy="228.05" r="0.45"/><circle cx="283.61" cy="254.47" r="0.45"/><circle cx="302.34" cy="240.22" r="0.45"/><circle cx="277.79" cy="262.21" r="0.45"/><circle cx="278.01" cy="265.51" r="0.45"/><circle cx="287.04" cy="248.24" r="0.45"/><circle cx="271.18" cy="264.08" r="0.45"/><circle cx="274.42" cy="266.71" r="0.45"/><circle cx="285.76" cy="228.79" r="0.45"/><circle cx="291.76" cy="242.28" r="0.45"/><circle cx="279.15" cy="265.17" r="0.45"/><circle cx="272.3" cy="269.07" r="0.45"/><circle cx="271.61" cy="269.01" r="0.45"/><circle cx="279.29" cy="261.35" r="0.45"/><circle cx="274.4" cy="266.33" r="0.45"/><circle cx="301.41" cy="237.9" r="0.45"/><circle cx="273.02" cy="270" r="0.45"/><circle cx="271.76" cy="265.41" r="0.45"/><circle cx="298" cy="228.28" r="0.45"/><circle cx="274.1" cy="258.48" r="0.45"/><circle cx="273.57" cy="253.19" r="0.45"/><circle cx="296.92" cy="254.47" r="0.45"/><circle cx="278.95" cy="257.61" r="0.45"/><circle cx="274" cy="269.59" r="0.45"/><circle cx="275.05" cy="268.42" r="0.45"/><circle cx="297.07" cy="226.85" r="0.45"/><circle cx="277.51" cy="263.08" r="0.45"/><circle cx="278.47" cy="266.83" r="0.45"/><circle cx="286.5" cy="262.01" r="0.45"/><circle cx="293.46" cy="234.76" r="0.45"/><circle cx="297.93" cy="252.07" r="0.45"/><circle cx="282.38" cy="247.37" r="0.45"/><circle cx="300.01" cy="246.69" r="0.45"/><circle cx="285.09" cy="256.03" r="0.45"/><circle cx="291.69" cy="238.34" r="0.45"/><circle cx="272.64" cy="268.64" r="0.45"/><circle cx="305.68" cy="233.53" r="0.45"/><circle cx="282.37" cy="260.99" r="0.45"/><circle cx="278.61" cy="261.13" r="0.45"/><circle cx="272.24" cy="258.87" r="0.45"/><circle cx="288.85" cy="243.93" r="0.45"/><circle cx="285.17" cy="259.77" r="0.45"/><circle cx="276.4" cy="266.49" r="0.45"/><circle cx="303.51" cy="233.82" r="0.45"/><circle cx="286.41" cy="253.8" r="0.45"/><circle cx="284.82" cy="255.91" r="0.45"/><circle cx="274.96" cy="268.79" r="0.45"/><circle cx="281.84" cy="260.73" r="0.45"/><circle cx="278.83" cy="263.5" r="0.45"/><circle cx="292.19" cy="252.64" r="0.45"/><circle cx="279.3" cy="254.55" r="0.45"/><circle cx="279.67" cy="254.74" r="0.45"/><circle cx="279.81" cy="259.57" r="0.45"/><circle cx="273.1" cy="268.53" r="0.45"/><circle cx="279.01" cy="270.15" r="0.45"/><circle cx="280.71" cy="249.44" r="0.45"/><circle cx="274.11" cy="262.51" r="0.45"/><circle cx="278.34" cy="262.46" r="0.45"/><circle cx="286.48" cy="257.32" r="0.45"/><circle cx="309.36" cy="233.71" r="0.45"/><circle cx="271.01" cy="268.26" r="0.45"/><circle cx="272.59" cy="269.08" r="0.45"/><circle cx="277.76" cy="249.48" r="0.45"/><circle cx="291.91" cy="251.17" r="0.45"/><circle cx="300.98" cy="230.29" r="0.45"/><circle cx="305.65" cy="242.03" r="0.45"/><circle cx="273.35" cy="260.28" r="0.45"/><circle cx="275.62" cy="268.52" r="0.45"/><circle cx="295.89" cy="246.77" r="0.45"/><circle cx="300.03" cy="228.37" r="0.45"/><circle cx="287.62" cy="234.58" r="0.45"/><circle cx="282.95" cy="254.13" r="0.45"/><circle cx="294.8" cy="238.1" r="0.45"/><circle cx="279.86" cy="265.6" r="0.45"/><circle cx="277.59" cy="260.08" r="0.45"/><circle cx="274.91" cy="267.24" r="0.45"/><circle cx="298.48" cy="247.27" r="0.45"/><circle cx="276.33" cy="268.88" r="0.45"/><circle cx="289.94" cy="250.13" r="0.45"/><circle cx="282.25" cy="258.16" r="0.45"/><circle cx="274.79" cy="271.09" r="0.45"/><circle cx="273.48" cy="257.39" r="0.45"/><circle cx="292.7" cy="247.44" r="0.45"/><circle cx="295.13" cy="229.94" r="0.45"/><circle cx="277.93" cy="263.5" r="0.45"/><circle cx="300.87" cy="227.3" r="0.45"/><circle cx="272.1" cy="269.01" r="0.45"/><circle cx="283.53" cy="251.73" r="0.45"/><circle cx="276" cy="261.61" r="0.45"/><circle cx="293.7" cy="246.4" r="0.45"/><circle cx="272.89" cy="269.24" r="0.45"/><circle cx="276.87" cy="257.55" r="0.45"/><circle cx="277.84" cy="265.98" r="0.45"/><circle cx="295.41" cy="237.32" r="0.45"/><circle cx="274.42" cy="263.27" r="0.45"/><circle cx="298.35" cy="224.76" r="0.45"/><circle cx="280.71" cy="266.28" r="0.45"/><circle cx="277.16" cy="264.33" r="0.45"/><circle cx="296.88" cy="225.31" r="0.45"/><circle cx="285.92" cy="253.55" r="0.45"/><circle cx="284.41" cy="257.79" r="0.45"/><circle cx="293.17" cy="246.19" r="0.45"/><circle cx="281.31" cy="257.17" r="0.45"/><circle cx="277.89" cy="265.27" r="0.45"/><circle cx="273.45" cy="269.11" r="0.45"/><circle cx="271.36" cy="267.4" r="0.45"/><circle cx="306.77" cy="237.96" r="0.45"/><circle cx="304.25" cy="248.56" r="0.45"/><circle cx="279.83" cy="260.12" r="0.45"/><circle cx="278.95" cy="267.37" r="0.45"/><circle cx="272.43" cy="268.99" r="0.45"/><circle cx="287.86" cy="242.61" r="0.45"/><circle cx="281.63" cy="261.21" r="0.45"/><circle cx="277.24" cy="266.98" r="0.45"/><circle cx="280.59" cy="259.3" r="0.45"/><circle cx="313.51" cy="236.43" r="0.45"/><circle cx="280.15" cy="267.11" r="0.45"/><circle cx="282.78" cy="260.49" r="0.45"/><circle cx="278.05" cy="252.41" r="0.45"/><circle cx="272.23" cy="268.35" r="0.45"/><circle cx="301.63" cy="231.37" r="0.45"/><circle cx="273.78" cy="263.45" r="0.45"/><circle cx="275.41" cy="271.07" r="0.45"/><circle cx="284.17" cy="258.02" r="0.45"/><circle cx="271.28" cy="267.95" r="0.45"/><circle cx="276.11" cy="271.43" r="0.45"/><circle cx="279.77" cy="264.22" r="0.45"/><circle cx="297.42" cy="242.71" r="0.45"/><circle cx="277.17" cy="261.59" r="0.45"/><circle cx="298.66" cy="226.03" r="0.45"/><circle cx="290.37" cy="240.29" r="0.45"/><circle cx="279.53" cy="260.67" r="0.45"/><circle cx="294.65" cy="240.14" r="0.45"/><circle cx="291.14" cy="224.41" r="0.45"/><circle cx="270.86" cy="268.1" r="0.45"/><circle cx="272.38" cy="260.39" r="0.45"/><circle cx="304.48" cy="230.36" r="0.45"/><circle cx="281.57" cy="257.79" r="0.45"/><circle cx="288.43" cy="255.44" r="0.45"/><circle cx="305.44" cy="233.25" r="0.45"/><circle cx="301.37" cy="246.13" r="0.45"/><circle cx="297.85" cy="236.9" r="0.45"/><circle cx="276.58" cy="257.97" r="0.45"/><circle cx="276.94" cy="258.71" r="0.45"/><circle cx="275.94" cy="269.9" r="0.45"/><circle cx="276.49" cy="265.1" r="0.45"/><circle cx="272.71" cy="268.18" r="0.45"/><circle cx="272.2" cy="268.77" r="0.45"/><circle cx="301.35" cy="225.91" r="0.45"/><circle cx="303.67" cy="235.83" r="0.45"/><circle cx="274.01" cy="268.38" r="0.45"/><circle cx="271.96" cy="266.51" r="0.45"/><circle cx="283.5" cy="255.2" r="0.45"/><circle cx="274.94" cy="262.13" r="0.45"/><circle cx="294.21" cy="246.23" r="0.45"/><circle cx="298" cy="243.06" r="0.45"/><circle cx="272.88" cy="266.14" r="0.45"/><circle cx="295.64" cy="233.88" r="0.45"/><circle cx="284.49" cy="260.65" r="0.45"/><circle cx="294.69" cy="241.57" r="0.45"/><circle cx="279.13" cy="264.41" r="0.45"/><circle cx="277.13" cy="267.64" r="0.45"/><circle cx="277.71" cy="258.84" r="0.45"/><circle cx="285.17" cy="259.66" r="0.45"/><circle cx="277.18" cy="263.82" r="0.45"/><circle cx="287.19" cy="230.74" r="0.45"/><circle cx="270.6" cy="265.34" r="0.45"/><circle cx="286.91" cy="255.67" r="0.45"/><circle cx="290.24" cy="223.97" r="0.45"/><circle cx="273.22" cy="269.3" r="0.45"/><circle cx="277.17" cy="265.95" r="0.45"/><circle cx="290.3" cy="218.95" r="0.45"/><circle cx="278.11" cy="256.31" r="0.45"/><circle cx="294.44" cy="230.94" r="0.45"/><circle cx="296.3" cy="239.5" r="0.45"/><circle cx="308.22" cy="233.64" r="0.45"/><circle cx="292.59" cy="249.21" r="0.45"/><circle cx="276.23" cy="263.88" r="0.45"/><circle cx="277.39" cy="265.38" r="0.45"/><circle cx="275.42" cy="261.35" r="0.45"/><circle cx="275.01" cy="263.77" r="0.45"/><circle cx="272.17" cy="269.27" r="0.45"/><circle cx="278.6" cy="267.15" r="0.45"/><circle cx="280.65" cy="261.69" r="0.45"/><circle cx="292.88" cy="254.67" r="0.45"/><circle cx="274.88" cy="269.72" r="0.45"/><circle cx="288.98" cy="251.84" r="0.45"/><circle cx="292.01" cy="247.38" r="0.45"/><circle cx="293.43" cy="244.05" r="0.45"/><circle cx="281.79" cy="256.46" r="0.45"/><circle cx="307.22" cy="232.31" r="0.45"/><circle cx="277.42" cy="259.46" r="0.45"/><circle cx="281.4" cy="255.76" r="0.45"/><circle cx="303.74" cy="237.49" r="0.45"/><circle cx="276.43" cy="265.06" r="0.45"/><circle cx="293.34" cy="241.43" r="0.45"/><circle cx="300.56" cy="232.16" r="0.45"/><circle cx="284" cy="257.07" r="0.45"/><circle cx="293.96" cy="229.21" r="0.45"/><circle cx="284.18" cy="254.73" r="0.45"/><circle cx="287.42" cy="250.66" r="0.45"/><circle cx="291.5" cy="246.91" r="0.45"/><circle cx="288.4" cy="246.17" r="0.45"/><circle cx="279.64" cy="257.45" r="0.45"/><circle cx="278.61" cy="261.96" r="0.45"/><circle cx="287.33" cy="252.76" r="0.45"/><circle cx="284.14" cy="252.69" r="0.45"/><circle cx="299.47" cy="239.48" r="0.45"/><circle cx="274.69" cy="267.15" r="0.45"/><circle cx="308.55" cy="234.09" r="0.45"/><circle cx="273.35" cy="268.99" r="0.45"/><circle cx="291.1" cy="223.56" r="0.45"/><circle cx="294.89" cy="250.77" r="0.45"/><circle cx="301.85" cy="239.5" r="0.45"/><circle cx="279.98" cy="266.23" r="0.45"/><circle cx="285.14" cy="259.1" r="0.45"/><circle cx="273.34" cy="263.64" r="0.45"/><circle cx="275.07" cy="263.06" r="0.45"/><circle cx="283.43" cy="259.26" r="0.45"/><circle cx="274.88" cy="267.43" r="0.45"/><circle cx="309.05" cy="238.36" r="0.45"/><circle cx="271.32" cy="267.96" r="0.45"/><circle cx="272.51" cy="268.87" r="0.45"/><circle cx="302.8" cy="239.02" r="0.45"/><circle cx="290.12" cy="252.62" r="0.45"/><circle cx="288.05" cy="245.56" r="0.45"/><circle cx="291.66" cy="251.33" r="0.45"/><circle cx="281.07" cy="254.92" r="0.45"/><circle cx="280.45" cy="253.67" r="0.45"/><circle cx="272.08" cy="268.96" r="0.45"/><circle cx="275.81" cy="262.67" r="0.45"/><circle cx="295.55" cy="240.13" r="0.45"/><circle cx="274.1" cy="264.33" r="0.45"/><circle cx="285.59" cy="254.87" r="0.45"/><circle cx="283.9" cy="256.55" r="0.45"/><circle cx="272.57" cy="267.11" r="0.45"/><circle cx="273.99" cy="269.81" r="0.45"/><circle cx="295.65" cy="250.08" r="0.45"/><circle cx="299.08" cy="241.42" r="0.45"/><circle cx="289.32" cy="254.8" r="0.45"/><circle cx="282.39" cy="258.9" r="0.45"/><circle cx="309.9" cy="234.35" r="0.45"/><circle cx="313.45" cy="232.84" r="0.45"/><circle cx="294.57" cy="241.96" r="0.45"/><circle cx="299.41" cy="224.45" r="0.45"/><circle cx="291.92" cy="257.94" r="0.45"/><circle cx="274.68" cy="265.42" r="0.45"/><circle cx="297.17" cy="239.24" r="0.45"/><circle cx="280.14" cy="259.03" r="0.45"/><circle cx="299.86" cy="243.68" r="0.45"/><circle cx="282.34" cy="264.99" r="0.45"/><circle cx="300.37" cy="239.22" r="0.45"/><circle cx="306.19" cy="234.47" r="0.45"/><circle cx="276.55" cy="264.58" r="0.45"/><circle cx="282.46" cy="262.53" r="0.45"/><circle cx="273.69" cy="269.72" r="0.45"/><circle cx="304.63" cy="231.98" r="0.45"/><circle cx="293.51" cy="245.32" r="0.45"/><circle cx="293.49" cy="236.99" r="0.45"/><circle cx="272.5" cy="266.13" r="0.45"/><circle cx="280.09" cy="258.45" r="0.45"/><circle cx="291.86" cy="228.6" r="0.45"/><circle cx="296.65" cy="231.08" r="0.45"/><circle cx="276.62" cy="269.39" r="0.45"/><circle cx="281.65" cy="257.36" r="0.45"/><circle cx="294.4" cy="236.58" r="0.45"/><circle cx="299.18" cy="256.89" r="0.45"/><circle cx="281.07" cy="259.09" r="0.45"/><circle cx="274.07" cy="264.44" r="0.45"/><circle cx="302.2" cy="246.29" r="0.45"/><circle cx="279.02" cy="263.89" r="0.45"/><circle cx="295.39" cy="249.7" r="0.45"/><circle cx="290.26" cy="244.31" r="0.45"/><circle cx="280.07" cy="261.27" r="0.45"/><circle cx="275.39" cy="266.63" r="0.45"/><circle cx="284.77" cy="244.13" r="0.45"/><circle cx="302.56" cy="234.05" r="0.45"/><circle cx="275.35" cy="267.37" r="0.45"/><circle cx="275.07" cy="271.04" r="0.45"/><circle cx="272.64" cy="269.73" r="0.45"/><circle cx="281.69" cy="259.7" r="0.45"/><circle cx="274.85" cy="262.59" r="0.45"/><circle cx="275.37" cy="263.98" r="0.45"/><circle cx="287.26" cy="245.25" r="0.45"/><circle cx="301.89" cy="230.07" r="0.45"/><circle cx="278.15" cy="263.84" r="0.45"/><circle cx="291.4" cy="247.03" r="0.45"/><circle cx="299.88" cy="234.25" r="0.45"/><circle cx="276.01" cy="261.24" r="0.45"/><circle cx="272.06" cy="269.19" r="0.45"/><circle cx="277.94" cy="257.55" r="0.45"/><circle cx="280.99" cy="239.31" r="0.45"/><circle cx="297.23" cy="243.67" r="0.45"/><circle cx="278.24" cy="263.64" r="0.45"/><circle cx="285.61" cy="250.84" r="0.45"/><circle cx="282.26" cy="257.02" r="0.45"/><circle cx="296.85" cy="239.79" r="0.45"/><circle cx="270.16" cy="267.87" r="0.45"/><circle cx="273.99" cy="265.99" r="0.45"/><circle cx="274.79" cy="263.82" r="0.45"/><circle cx="286.94" cy="243.71" r="0.45"/><circle cx="298.5" cy="238.11" r="0.45"/><circle cx="280.87" cy="262.54" r="0.45"/><circle cx="275.36" cy="270.52" r="0.45"/><circle cx="287.59" cy="238.47" r="0.45"/><circle cx="274.22" cy="270.77" r="0.45"/><circle cx="279.74" cy="251.39" r="0.45"/><circle cx="290.46" cy="238.37" r="0.45"/><circle cx="274.81" cy="268.11" r="0.45"/><circle cx="279.08" cy="265.08" r="0.45"/><circle cx="295.06" cy="240.9" r="0.45"/><circle cx="295.94" cy="245.8" r="0.45"/><circle cx="275.39" cy="260.71" r="0.45"/><circle cx="281.08" cy="246.15" r="0.45"/><circle cx="288.31" cy="253.28" r="0.45"/><circle cx="274.68" cy="260.26" r="0.45"/><circle cx="273.03" cy="261.72" r="0.45"/><circle cx="303.46" cy="235.98" r="0.45"/><circle cx="277.57" cy="263.83" r="0.45"/><circle cx="301.21" cy="245.59" r="0.45"/><circle cx="278.48" cy="259.33" r="0.45"/><circle cx="297.11" cy="231.6" r="0.45"/><circle cx="304" cy="234.01" r="0.45"/><circle cx="287.52" cy="244.93" r="0.45"/><circle cx="294.35" cy="221.21" r="0.45"/><circle cx="286.78" cy="255.94" r="0.45"/><circle cx="290.99" cy="229.3" r="0.45"/><circle cx="282.53" cy="255.18" r="0.45"/><circle cx="276.31" cy="258.97" r="0.45"/><circle cx="276.26" cy="264.2" r="0.45"/><circle cx="298.68" cy="230.08" r="0.45"/><circle cx="276.06" cy="267.3" r="0.45"/><circle cx="301.54" cy="230.5" r="0.45"/><circle cx="280.75" cy="259.81" r="0.45"/><circle cx="273.68" cy="269.57" r="0.45"/><circle cx="287.3" cy="240.05" r="0.45"/><circle cx="288.08" cy="237.13" r="0.45"/><circle cx="272.66" cy="268.11" r="0.45"/><circle cx="293.94" cy="234.63" r="0.45"/><circle cx="298.2" cy="237.4" r="0.45"/><circle cx="297.3" cy="232.77" r="0.45"/><circle cx="303.11" cy="232.82" r="0.45"/><circle cx="276.36" cy="264.58" r="0.45"/><circle cx="277.55" cy="269.73" r="0.45"/><circle cx="298.57" cy="238.27" r="0.45"/><circle cx="292.39" cy="248.01" r="0.45"/><circle cx="275.93" cy="259.88" r="0.45"/><circle cx="276.46" cy="269.47" r="0.45"/><circle cx="278.49" cy="266.08" r="0.45"/><circle cx="279.2" cy="260.28" r="0.45"/><circle cx="278.14" cy="263.12" r="0.45"/><circle cx="278.17" cy="261.7" r="0.45"/><circle cx="277.43" cy="258.97" r="0.45"/><circle cx="290.34" cy="219.77" r="0.45"/><circle cx="289.01" cy="246.88" r="0.45"/><circle cx="272.07" cy="268.76" r="0.45"/><circle cx="297.66" cy="240.81" r="0.45"/><circle cx="279.54" cy="258.86" r="0.45"/><circle cx="274.62" cy="262.83" r="0.45"/><circle cx="307" cy="239.91" r="0.45"/><circle cx="277.6" cy="267.17" r="0.45"/><circle cx="273.65" cy="270.44" r="0.45"/><circle cx="313.31" cy="234.35" r="0.45"/><circle cx="271.53" cy="268.95" r="0.45"/><circle cx="296.15" cy="237.86" r="0.45"/><circle cx="274.49" cy="264.36" r="0.45"/><circle cx="297.35" cy="235.8" r="0.45"/><circle cx="279.68" cy="263.96" r="0.45"/><circle cx="276.34" cy="264.11" r="0.45"/><circle cx="289.97" cy="241.35" r="0.45"/><circle cx="289.87" cy="246.1" r="0.45"/><circle cx="274.57" cy="268.89" r="0.45"/><circle cx="287.86" cy="232.95" r="0.45"/><circle cx="287.01" cy="244.78" r="0.45"/><circle cx="284.04" cy="258.98" r="0.45"/><circle cx="309.78" cy="239.45" r="0.45"/><circle cx="274.64" cy="270.67" r="0.45"/><circle cx="276.34" cy="264.55" r="0.45"/><circle cx="292.33" cy="257.59" r="0.45"/><circle cx="282.84" cy="259.12" r="0.45"/><circle cx="282.39" cy="253.5" r="0.45"/><circle cx="286.37" cy="251.37" r="0.45"/><circle cx="283.23" cy="240.81" r="0.45"/><circle cx="279.79" cy="258.93" r="0.45"/><circle cx="300.41" cy="236.97" r="0.45"/><circle cx="290.64" cy="244.69" r="0.45"/><circle cx="281.38" cy="254.28" r="0.45"/><circle cx="292.65" cy="237.34" r="0.45"/><circle cx="283.16" cy="253.96" r="0.45"/><circle cx="299.57" cy="232.88" r="0.45"/><circle cx="280.65" cy="262.31" r="0.45"/><circle cx="293.72" cy="243.65" r="0.45"/><circle cx="274.7" cy="265.85" r="0.45"/><circle cx="276.54" cy="262.52" r="0.45"/><circle cx="277.49" cy="267.54" r="0.45"/><circle cx="282.35" cy="261.92" r="0.45"/><circle cx="305.01" cy="249.4" r="0.45"/><circle cx="275.1" cy="268.46" r="0.45"/><circle cx="281.23" cy="257.7" r="0.45"/><circle cx="306.21" cy="228.94" r="0.45"/><circle cx="278.44" cy="252.51" r="0.45"/><circle cx="275.87" cy="264.73" r="0.45"/><circle cx="276" cy="264.3" r="0.45"/><circle cx="284.34" cy="259.58" r="0.45"/><circle cx="296.67" cy="238.68" r="0.45"/><circle cx="285.61" cy="238.83" r="0.45"/><circle cx="283.96" cy="254.42" r="0.45"/><circle cx="273.88" cy="265.93" r="0.45"/><circle cx="290.75" cy="238.63" r="0.45"/><circle cx="293.3" cy="226.62" r="0.45"/><circle cx="296.66" cy="242.04" r="0.45"/><circle cx="283.27" cy="256.74" r="0.45"/><circle cx="308.06" cy="239.14" r="0.45"/><circle cx="291.94" cy="236.8" r="0.45"/><circle cx="283.28" cy="238.29" r="0.45"/><circle cx="286.59" cy="243.47" r="0.45"/><circle cx="290.56" cy="247.2" r="0.45"/><circle cx="272.04" cy="266.51" r="0.45"/><circle cx="296.51" cy="244.78" r="0.45"/><circle cx="289.6" cy="246.44" r="0.45"/><circle cx="286.94" cy="257.01" r="0.45"/><circle cx="284.24" cy="243.36" r="0.45"/><circle cx="305.96" cy="233.43" r="0.45"/><circle cx="274.36" cy="264.34" r="0.45"/><circle cx="277.74" cy="255.02" r="0.45"/><circle cx="285.73" cy="253.83" r="0.45"/><circle cx="286.45" cy="250.58" r="0.45"/><circle cx="276.44" cy="266.82" r="0.45"/><circle cx="277.82" cy="246.35" r="0.45"/><circle cx="272.72" cy="266.85" r="0.45"/><circle cx="290.2" cy="240.12" r="0.45"/><circle cx="281.48" cy="249.36" r="0.45"/><circle cx="280.92" cy="248.31" r="0.45"/><circle cx="284.16" cy="258.05" r="0.45"/><circle cx="290.61" cy="242.96" r="0.45"/><circle cx="281.88" cy="257.63" r="0.45"/><circle cx="300.11" cy="224.69" r="0.45"/><circle cx="282.6" cy="260.43" r="0.45"/><circle cx="282.77" cy="257.78" r="0.45"/><circle cx="271.91" cy="269.06" r="0.45"/><circle cx="294.38" cy="244.48" r="0.45"/><circle cx="280.4" cy="259.13" r="0.45"/><circle cx="297.07" cy="242.94" r="0.45"/><circle cx="297.31" cy="226.64" r="0.45"/><circle cx="295.38" cy="236.94" r="0.45"/><circle cx="282.1" cy="257.81" r="0.45"/><circle cx="297.58" cy="240.47" r="0.45"/><circle cx="292.43" cy="234.25" r="0.45"/><circle cx="284.16" cy="247.66" r="0.45"/><circle cx="278.96" cy="265.33" r="0.45"/><circle cx="289.06" cy="245.38" r="0.45"/><circle cx="299.05" cy="238.05" r="0.45"/><circle cx="276.61" cy="259.95" r="0.45"/><circle cx="291.58" cy="253.76" r="0.45"/><circle cx="284.09" cy="261.5" r="0.45"/><circle cx="297.34" cy="234.23" r="0.45"/><circle cx="279.89" cy="264.49" r="0.45"/><circle cx="282.88" cy="256.15" r="0.45"/><circle cx="293.28" cy="241.88" r="0.45"/><circle cx="278.65" cy="262.1" r="0.45"/><circle cx="287.21" cy="255.55" r="0.45"/><circle cx="280.07" cy="254.06" r="0.45"/><circle cx="277.98" cy="256.83" r="0.45"/><circle cx="302.31" cy="231.04" r="0.45"/><circle cx="295.58" cy="234.91" r="0.45"/><circle cx="300.8" cy="231.97" r="0.45"/><circle cx="294.29" cy="233.74" r="0.45"/><circle cx="290.34" cy="246.68" r="0.45"/><circle cx="302.09" cy="228.9" r="0.45"/><circle cx="290.54" cy="245.1" r="0.45"/><circle cx="276" cy="267.35" r="0.45"/><circle cx="277.66" cy="264.03" r="0.45"/><circle cx="273.91" cy="265.46" r="0.45"/><circle cx="300.97" cy="232.23" r="0.45"/><circle cx="296.18" cy="230.03" r="0.45"/><circle cx="289.99" cy="248.29" r="0.45"/><circle cx="291.27" cy="226.42" r="0.45"/><circle cx="297.25" cy="239.32" r="0.45"/><circle cx="289.39" cy="241.47" r="0.45"/><circle cx="285.99" cy="251.16" r="0.45"/><circle cx="293.11" cy="228.64" r="0.45"/><circle cx="286.76" cy="249.96" r="0.45"/><circle cx="276.36" cy="267.75" r="0.45"/><circle cx="288.37" cy="255.42" r="0.45"/><circle cx="275.94" cy="267.23" r="0.45"/><circle cx="280.8" cy="250.34" r="0.45"/><circle cx="298.48" cy="234" r="0.45"/><circle cx="273.82" cy="270.49" r="0.45"/><circle cx="283.79" cy="247.37" r="0.45"/><circle cx="293.12" cy="246.15" r="0.45"/><circle cx="280.22" cy="254.79" r="0.45"/><circle cx="310.22" cy="233.73" r="0.45"/><circle cx="292.5" cy="247.94" r="0.45"/><circle cx="271.71" cy="268.58" r="0.45"/><circle cx="295.38" cy="226.04" r="0.45"/><circle cx="282.86" cy="262.13" r="0.45"/><circle cx="284.22" cy="253.14" r="0.45"/><circle cx="308.77" cy="238.15" r="0.45"/><circle cx="290.8" cy="247.59" r="0.45"/><circle cx="281.72" cy="260.85" r="0.45"/><circle cx="282.01" cy="252.32" r="0.45"/><circle cx="286.31" cy="251.75" r="0.45"/><circle cx="281.06" cy="254.3" r="0.45"/><circle cx="277.56" cy="252.73" r="0.45"/><circle cx="277.49" cy="260.64" r="0.45"/><circle cx="291.85" cy="232.36" r="0.45"/><circle cx="279.8" cy="263.43" r="0.45"/><circle cx="290.2" cy="255.76" r="0.45"/><circle cx="294.47" cy="237.09" r="0.45"/><circle cx="279.12" cy="259.53" r="0.45"/><circle cx="291.01" cy="250.61" r="0.45"/><circle cx="290.04" cy="246.35" r="0.45"/><circle cx="291.7" cy="240.73" r="0.45"/><circle cx="297.57" cy="231.46" r="0.45"/><circle cx="278.91" cy="261.18" r="0.45"/><circle cx="274.1" cy="270.69" r="0.45"/><circle cx="297.12" cy="253.17" r="0.45"/><circle cx="292.87" cy="246.54" r="0.45"/><circle cx="280.54" cy="241.55" r="0.45"/><circle cx="284.84" cy="244.13" r="0.45"/><circle cx="284.16" cy="245.17" r="0.45"/><circle cx="292.97" cy="244.85" r="0.45"/><circle cx="288.26" cy="257.74" r="0.45"/><circle cx="296.99" cy="241.19" r="0.45"/><circle cx="273.87" cy="269.83" r="0.45"/><circle cx="301.17" cy="243.11" r="0.45"/><circle cx="279.09" cy="257.19" r="0.45"/><circle cx="298.36" cy="237.26" r="0.45"/><circle cx="275.33" cy="261.11" r="0.45"/><circle cx="277.37" cy="260.03" r="0.45"/><circle cx="284.16" cy="256.73" r="0.45"/><circle cx="291.3" cy="246.69" r="0.45"/><circle cx="286.93" cy="249.18" r="0.45"/><circle cx="275.19" cy="270.68" r="0.45"/><circle cx="292.34" cy="252.33" r="0.45"/><circle cx="299.7" cy="230.12" r="0.45"/><circle cx="281.76" cy="257.88" r="0.45"/><circle cx="298.26" cy="255.19" r="0.45"/><circle cx="280.95" cy="251.52" r="0.45"/><circle cx="285.67" cy="258.95" r="0.45"/><circle cx="278.48" cy="265.71" r="0.45"/><circle cx="275.6" cy="266.66" r="0.45"/><circle cx="291.6" cy="243.69" r="0.45"/><circle cx="275.47" cy="267.9" r="0.45"/><circle cx="298.17" cy="233.22" r="0.45"/><circle cx="277.5" cy="268.98" r="0.45"/><circle cx="277.94" cy="263.76" r="0.45"/><circle cx="293.98" cy="241.44" r="0.45"/><circle cx="296.41" cy="239.87" r="0.45"/><circle cx="297.21" cy="245.23" r="0.45"/><circle cx="272.23" cy="267.16" r="0.45"/><circle cx="288.42" cy="245.7" r="0.45"/><circle cx="294.74" cy="225.53" r="0.45"/><circle cx="281.13" cy="265.32" r="0.45"/><circle cx="272.62" cy="269.58" r="0.45"/><circle cx="271.71" cy="268.89" r="0.45"/><circle cx="271.85" cy="267.06" r="0.45"/><circle cx="279.22" cy="260.78" r="0.45"/><circle cx="295.02" cy="231.78" r="0.45"/><circle cx="287.6" cy="255.36" r="0.45"/><circle cx="289" cy="250.06" r="0.45"/><circle cx="282.45" cy="255.02" r="0.45"/><circle cx="293.27" cy="235.83" r="0.45"/><circle cx="278.65" cy="257.24" r="0.45"/><circle cx="279.34" cy="254.24" r="0.45"/><circle cx="283.04" cy="258.86" r="0.45"/><circle cx="283.55" cy="230.18" r="0.45"/><circle cx="287.06" cy="249.32" r="0.45"/><circle cx="305.06" cy="229.02" r="0.45"/><circle cx="294.17" cy="243.95" r="0.45"/><circle cx="285.64" cy="245.49" r="0.45"/><circle cx="307.25" cy="230.22" r="0.45"/><circle cx="276.57" cy="259.1" r="0.45"/><circle cx="285.05" cy="257.48" r="0.45"/><circle cx="288.83" cy="241.71" r="0.45"/><circle cx="294.24" cy="251.7" r="0.45"/><circle cx="276.19" cy="260.29" r="0.45"/><circle cx="272.9" cy="269.92" r="0.45"/><circle cx="292.07" cy="251.32" r="0.45"/><circle cx="297.73" cy="237.37" r="0.45"/><circle cx="296.21" cy="234.9" r="0.45"/><circle cx="300.95" cy="239.93" r="0.45"/><circle cx="276.29" cy="260.89" r="0.45"/><circle cx="300.85" cy="236.6" r="0.45"/><circle cx="292.07" cy="225.29" r="0.45"/><circle cx="283.18" cy="261.36" r="0.45"/><circle cx="299.14" cy="239.86" r="0.45"/><circle cx="276.55" cy="264.98" r="0.45"/><circle cx="272.7" cy="260.6" r="0.45"/><circle cx="286.87" cy="246.25" r="0.45"/><circle cx="274.78" cy="263.45" r="0.45"/><circle cx="277.92" cy="263.07" r="0.45"/><circle cx="278.36" cy="250.81" r="0.45"/><circle cx="275.04" cy="268.96" r="0.45"/><circle cx="274.1" cy="261.62" r="0.45"/><circle cx="294.1" cy="253.23" r="0.45"/><circle cx="281.57" cy="248.74" r="0.45"/><circle cx="282.65" cy="252.62" r="0.45"/><circle cx="275.71" cy="264.81" r="0.45"/><circle cx="275.56" cy="265.28" r="0.45"/><circle cx="283.99" cy="247.38" r="0.45"/><circle cx="280.49" cy="256.03" r="0.45"/><circle cx="273.38" cy="269.28" r="0.45"/><circle cx="301.73" cy="224.69" r="0.45"/><circle cx="291.09" cy="247.23" r="0.45"/><circle cx="299.23" cy="240.74" r="0.45"/><circle cx="283.19" cy="261.48" r="0.45"/><circle cx="286.69" cy="252.44" r="0.45"/><circle cx="303.82" cy="226.72" r="0.45"/><circle cx="291.36" cy="228.83" r="0.45"/><circle cx="278.31" cy="262.96" r="0.45"/><circle cx="284.34" cy="231.16" r="0.45"/><circle cx="300.02" cy="242.9" r="0.45"/><circle cx="300.58" cy="239.1" r="0.45"/><circle cx="273.14" cy="269.31" r="0.45"/><circle cx="276.88" cy="265.18" r="0.45"/><circle cx="274.08" cy="269.57" r="0.45"/><circle cx="289.85" cy="251.92" r="0.45"/><circle cx="296.9" cy="225.73" r="0.45"/><circle cx="307.57" cy="236.27" r="0.45"/><circle cx="283.39" cy="258.35" r="0.45"/><circle cx="275.95" cy="268.3" r="0.45"/><circle cx="286.61" cy="249.17" r="0.45"/><circle cx="295.91" cy="249.95" r="0.45"/><circle cx="280.68" cy="256.76" r="0.45"/><circle cx="287.74" cy="258.02" r="0.45"/><circle cx="278.52" cy="265.25" r="0.45"/><circle cx="281.04" cy="259.58" r="0.45"/><circle cx="309.14" cy="237.96" r="0.45"/><circle cx="272.03" cy="268.28" r="0.45"/><circle cx="293.59" cy="236.94" r="0.45"/><circle cx="294.49" cy="220.74" r="0.45"/><circle cx="275.06" cy="270.09" r="0.45"/><circle cx="309.51" cy="235.08" r="0.45"/><circle cx="289.55" cy="242.81" r="0.45"/><circle cx="300.52" cy="244" r="0.45"/><circle cx="273.96" cy="267.53" r="0.45"/><circle cx="275.95" cy="268.12" r="0.45"/><circle cx="285.71" cy="254.4" r="0.45"/><circle cx="276.31" cy="267.54" r="0.45"/><circle cx="298.23" cy="248.72" r="0.45"/><circle cx="276.65" cy="265.32" r="0.45"/><circle cx="274.2" cy="270.09" r="0.45"/><circle cx="299.4" cy="228.59" r="0.45"/><circle cx="300.9" cy="235.33" r="0.45"/><circle cx="282.39" cy="254.41" r="0.45"/><circle cx="276.93" cy="269.9" r="0.45"/><circle cx="286.18" cy="244.18" r="0.45"/><circle cx="280.58" cy="252.83" r="0.45"/><circle cx="289.46" cy="257.23" r="0.45"/><circle cx="291.34" cy="247.74" r="0.45"/><circle cx="274.41" cy="269.61" r="0.45"/><circle cx="290.24" cy="240.43" r="0.45"/><circle cx="297.69" cy="232.79" r="0.45"/><circle cx="277.13" cy="261.89" r="0.45"/><circle cx="278.99" cy="262.9" r="0.45"/><circle cx="295.83" cy="234.12" r="0.45"/><circle cx="286.58" cy="254.33" r="0.45"/><circle cx="280.57" cy="261.29" r="0.45"/><circle cx="301.33" cy="226.04" r="0.45"/><circle cx="275.28" cy="270.2" r="0.45"/><circle cx="275.05" cy="263.41" r="0.45"/><circle cx="283.87" cy="253.4" r="0.45"/><circle cx="277.98" cy="265.91" r="0.45"/><circle cx="290.15" cy="265.08" r="0.45"/><circle cx="299.72" cy="229.57" r="0.45"/><circle cx="273.55" cy="267.56" r="0.45"/><circle cx="276.52" cy="271.04" r="0.45"/><circle cx="289.65" cy="239.02" r="0.45"/><circle cx="276.59" cy="272.22" r="0.45"/><circle cx="294.67" cy="236" r="0.45"/><circle cx="273.6" cy="270.4" r="0.45"/><circle cx="293.82" cy="233.34" r="0.45"/><circle cx="282.77" cy="255.47" r="0.45"/><circle cx="301.89" cy="232.19" r="0.45"/><circle cx="277.23" cy="268.4" r="0.45"/><circle cx="276.43" cy="265.9" r="0.45"/><circle cx="273.54" cy="263.1" r="0.45"/><circle cx="275.71" cy="269.73" r="0.45"/><circle cx="287.37" cy="254.57" r="0.45"/><circle cx="279.22" cy="262.91" r="0.45"/><circle cx="298.46" cy="246.54" r="0.45"/><circle cx="293.35" cy="234.72" r="0.45"/><circle cx="273.31" cy="268.56" r="0.45"/><circle cx="287.08" cy="236.76" r="0.45"/><circle cx="274.83" cy="269.95" r="0.45"/><circle cx="291.26" cy="233.36" r="0.45"/><circle cx="307.64" cy="240.16" r="0.45"/><circle cx="292.1" cy="257.99" r="0.45"/><circle cx="285.08" cy="254.29" r="0.45"/><circle cx="298.4" cy="233.18" r="0.45"/><circle cx="300.57" cy="238.04" r="0.45"/><circle cx="282.32" cy="259.52" r="0.45"/><circle cx="291.56" cy="250.36" r="0.45"/><circle cx="271.64" cy="269.02" r="0.45"/><circle cx="285.22" cy="251.69" r="0.45"/><circle cx="274.14" cy="267.02" r="0.45"/><circle cx="288.52" cy="226.93" r="0.45"/><circle cx="279.12" cy="260.12" r="0.45"/><circle cx="289.49" cy="236.94" r="0.45"/><circle cx="276.14" cy="270.65" r="0.45"/><circle cx="279.14" cy="248.96" r="0.45"/><circle cx="281.46" cy="249.27" r="0.45"/><circle cx="272.86" cy="269.55" r="0.45"/><circle cx="303.3" cy="228.37" r="0.45"/><circle cx="275.39" cy="268.62" r="0.45"/><circle cx="277.99" cy="263.36" r="0.45"/><circle cx="273.98" cy="267.89" r="0.45"/><circle cx="292.4" cy="243.07" r="0.45"/><circle cx="289.22" cy="248.43" r="0.45"/><circle cx="281.95" cy="245.11" r="0.45"/><circle cx="274.1" cy="267.72" r="0.45"/><circle cx="298.32" cy="233.33" r="0.45"/><circle cx="274.36" cy="267.07" r="0.45"/><circle cx="282.29" cy="251.21" r="0.45"/><circle cx="274.81" cy="267.42" r="0.45"/><circle cx="284.63" cy="258.68" r="0.45"/><circle cx="303.94" cy="237.9" r="0.45"/><circle cx="272.85" cy="264.98" r="0.45"/><circle cx="274.44" cy="265.28" r="0.45"/><circle cx="301.81" cy="239.35" r="0.45"/><circle cx="281.53" cy="255.58" r="0.45"/><circle cx="292.15" cy="231.57" r="0.45"/><circle cx="300.59" cy="228.78" r="0.45"/><circle cx="293.1" cy="237.37" r="0.45"/><circle cx="281.64" cy="261.01" r="0.45"/><circle cx="288.43" cy="259.34" r="0.45"/><circle cx="299.16" cy="230.24" r="0.45"/><circle cx="297.52" cy="237.3" r="0.45"/><circle cx="284.81" cy="251.29" r="0.45"/><circle cx="306.54" cy="231.43" r="0.45"/><circle cx="281.8" cy="255.66" r="0.45"/><circle cx="286.4" cy="244.01" r="0.45"/><circle cx="275.16" cy="269.71" r="0.45"/><circle cx="282.41" cy="255.37" r="0.45"/><circle cx="275.16" cy="266.92" r="0.45"/><circle cx="305.19" cy="229.47" r="0.45"/><circle cx="280.26" cy="239.74" r="0.45"/><circle cx="304.36" cy="242.48" r="0.45"/><circle cx="271.48" cy="268.27" r="0.45"/><circle cx="289.41" cy="245.41" r="0.45"/><circle cx="281.66" cy="264.61" r="0.45"/><circle cx="290.98" cy="253.77" r="0.45"/><circle cx="276.46" cy="262.29" r="0.45"/><circle cx="278.13" cy="246.49" r="0.45"/><circle cx="280.99" cy="263.36" r="0.45"/><circle cx="278.54" cy="260.64" r="0.45"/><circle cx="286.79" cy="247.13" r="0.45"/><circle cx="297.31" cy="225.24" r="0.45"/><circle cx="283.86" cy="254.14" r="0.45"/><circle cx="287.36" cy="251.88" r="0.45"/><circle cx="275.67" cy="267.62" r="0.45"/><circle cx="277.37" cy="260.51" r="0.45"/><circle cx="278.54" cy="264.11" r="0.45"/><circle cx="271.46" cy="266.49" r="0.45"/><circle cx="286.74" cy="245.94" r="0.45"/><circle cx="286.06" cy="248.39" r="0.45"/><circle cx="290.06" cy="240.57" r="0.45"/><circle cx="279.81" cy="251.73" r="0.45"/><circle cx="282.86" cy="253.28" r="0.45"/><circle cx="279.47" cy="260.98" r="0.45"/><circle cx="287.97" cy="253.8" r="0.45"/><circle cx="281.13" cy="257.7" r="0.45"/><circle cx="280.39" cy="259.09" r="0.45"/><circle cx="298.87" cy="234.35" r="0.45"/><circle cx="289.04" cy="256" r="0.45"/><circle cx="280.55" cy="263.21" r="0.45"/><circle cx="294.54" cy="238.74" r="0.45"/><circle cx="278.75" cy="268.52" r="0.45"/><circle cx="285.71" cy="257.18" r="0.45"/><circle cx="272.58" cy="268.18" r="0.45"/><circle cx="296.76" cy="243.2" r="0.45"/><circle cx="275.17" cy="268.2" r="0.45"/><circle cx="305.43" cy="248.91" r="0.45"/><circle cx="274.67" cy="265.9" r="0.45"/><circle cx="294.71" cy="246.48" r="0.45"/><circle cx="293.47" cy="250.1" r="0.45"/><circle cx="280.62" cy="248.38" r="0.45"/><circle cx="293.26" cy="240.53" r="0.45"/><circle cx="278.98" cy="250.19" r="0.45"/><circle cx="292.48" cy="236.29" r="0.45"/><circle cx="271.48" cy="264.92" r="0.45"/></g>
<ellipse cx="292" cy="251" rx="17" ry="5.5" transform="rotate(-52 292 251)" fill="#4a62cc" opacity="0.3" filter="url(#bl1)" clip-path="url(#cg1)"/>
<ellipse cx="284" cy="264.5" rx="13" ry="6" transform="rotate(-32 284 264.5)" fill="#3e5ed0" opacity="0.55" filter="url(#bl1)" clip-path="url(#cg1)"/>
<ellipse cx="283.5" cy="265.3" rx="9" ry="3.8" transform="rotate(-30 283.5 265.3)" fill="#3aa0d0" opacity="0.6" filter="url(#bl1)" clip-path="url(#cg1)"/>
<ellipse cx="283" cy="265.8" rx="6.5" ry="2.8" transform="rotate(-30 283 265.8)" fill="#62b84e" opacity="0.85" filter="url(#bl05)" clip-path="url(#cg1)"/>
<ellipse cx="283" cy="266" rx="3.5" ry="1.5" transform="rotate(-30 283 266)" fill="#b4c83a" opacity="0.85" filter="url(#bl05)" clip-path="url(#cg1)"/>
<rect x="255.5" y="212.5" width="60" height="60" fill="none" stroke="#666" stroke-width="1"/>
<line x1="303.8" y1="212.6" x2="303.8" y2="272.7" stroke="#3a3a3a" stroke-width="1.3"/>
<line x1="252.6" y1="216.1" x2="254.1" y2="216.1" stroke="#444" stroke-width="0.7"/>
<line x1="252.6" y1="229.38" x2="254.1" y2="229.38" stroke="#444" stroke-width="0.7"/>
<line x1="252.6" y1="242.65" x2="254.1" y2="242.65" stroke="#444" stroke-width="0.7"/>
<line x1="252.6" y1="255.92" x2="254.1" y2="255.92" stroke="#444" stroke-width="0.7"/>
<line x1="252.6" y1="269.2" x2="254.1" y2="269.2" stroke="#444" stroke-width="0.7"/>
<line x1="261.1" y1="273.2" x2="261.1" y2="274.7" stroke="#555" stroke-width="0.7"/>
<line x1="271.28" y1="273.2" x2="271.28" y2="274.7" stroke="#555" stroke-width="0.7"/>
<line x1="281.46" y1="273.2" x2="281.46" y2="274.7" stroke="#555" stroke-width="0.7"/>
<line x1="291.64" y1="273.2" x2="291.64" y2="274.7" stroke="#555" stroke-width="0.7"/>
<line x1="301.82" y1="273.2" x2="301.82" y2="274.7" stroke="#555" stroke-width="0.7"/>
<line x1="312" y1="273.2" x2="312" y2="274.7" stroke="#555" stroke-width="0.7"/>
<text transform="translate(278.45 240.1)" font-size="2.6" text-anchor="middle" fill="#666" stroke="#666" stroke-width="0.18">APC neg</text>
<text transform="translate(278.45 243.1)" font-size="2.6" text-anchor="middle" fill="#666" stroke="#666" stroke-width="0.18">99.1</text>
<text transform="translate(309.9 240.1)" font-size="2.2" text-anchor="middle" fill="#666" stroke="#666" stroke-width="0.18">APC pos</text>
<text transform="translate(309.9 243.1)" font-size="2.2" text-anchor="middle" fill="#666" stroke="#666" stroke-width="0.18">0.9</text>
<rect x="317.9" y="211.7" width="60.6" height="61" fill="#fff"/>
<g fill="#7d88d8" opacity="0.55" clip-path="url(#cg2)"><circle cx="371.28" cy="213.25" r="0.42"/><circle cx="365.82" cy="246.98" r="0.42"/><circle cx="376.06" cy="246.17" r="0.42"/><circle cx="357.58" cy="235.01" r="0.42"/><circle cx="349.81" cy="254.94" r="0.42"/><circle cx="346.32" cy="245.21" r="0.42"/><circle cx="351.98" cy="238.75" r="0.42"/><circle cx="375.86" cy="224.85" r="0.42"/><circle cx="348.18" cy="265.81" r="0.42"/><circle cx="328.47" cy="245.77" r="0.42"/><circle cx="373.86" cy="257.86" r="0.42"/><circle cx="352.9" cy="252.74" r="0.42"/><circle cx="344.6" cy="247.49" r="0.42"/><circle cx="375.29" cy="252.24" r="0.42"/><circle cx="353.31" cy="218.74" r="0.42"/><circle cx="371.75" cy="268.94" r="0.42"/><circle cx="377.8" cy="232.91" r="0.42"/><circle cx="353.57" cy="260.32" r="0.42"/><circle cx="372.18" cy="237.41" r="0.42"/><circle cx="352.25" cy="223.91" r="0.42"/><circle cx="358.77" cy="247.98" r="0.42"/><circle cx="377.67" cy="249.92" r="0.42"/><circle cx="341.95" cy="253.06" r="0.42"/><circle cx="360.74" cy="224.41" r="0.42"/><circle cx="347.38" cy="220.05" r="0.42"/><circle cx="365.49" cy="219.19" r="0.42"/><circle cx="357.88" cy="259.78" r="0.42"/><circle cx="326.65" cy="257.69" r="0.42"/><circle cx="363.2" cy="233.52" r="0.42"/><circle cx="356.28" cy="233.24" r="0.42"/><circle cx="356.3" cy="268.66" r="0.42"/><circle cx="358.25" cy="227.46" r="0.42"/><circle cx="374.4" cy="262.57" r="0.42"/><circle cx="351.77" cy="268.08" r="0.42"/><circle cx="346.27" cy="254.67" r="0.42"/><circle cx="342.08" cy="263.77" r="0.42"/><circle cx="367.22" cy="227.12" r="0.42"/><circle cx="335.02" cy="233.79" r="0.42"/><circle cx="376.52" cy="229.86" r="0.42"/><circle cx="346.05" cy="236.39" r="0.42"/><circle cx="332.41" cy="260.9" r="0.42"/><circle cx="338.74" cy="224.09" r="0.42"/><circle cx="367.86" cy="222.23" r="0.42"/><circle cx="344.35" cy="254.9" r="0.42"/><circle cx="375.84" cy="225.07" r="0.42"/><circle cx="375.45" cy="242.28" r="0.42"/><circle cx="337.82" cy="239.26" r="0.42"/><circle cx="356.55" cy="234.34" r="0.42"/><circle cx="340.06" cy="257.76" r="0.42"/><circle cx="360.19" cy="245.93" r="0.42"/><circle cx="346.28" cy="217.99" r="0.42"/><circle cx="370.25" cy="231.62" r="0.42"/><circle cx="344.8" cy="242.02" r="0.42"/><circle cx="329.43" cy="231.05" r="0.42"/><circle cx="332.56" cy="254.57" r="0.42"/><circle cx="371.9" cy="262.95" r="0.42"/><circle cx="332.87" cy="229.04" r="0.42"/><circle cx="361.34" cy="251.49" r="0.42"/><circle cx="338.92" cy="262.11" r="0.42"/><circle cx="358.7" cy="223.54" r="0.42"/><circle cx="373.46" cy="255.58" r="0.42"/><circle cx="363.05" cy="215.35" r="0.42"/><circle cx="334.42" cy="224.49" r="0.42"/><circle cx="345.8" cy="215.28" r="0.42"/><circle cx="355.65" cy="254.56" r="0.42"/><circle cx="348.62" cy="252.69" r="0.42"/><circle cx="357.58" cy="215.75" r="0.42"/><circle cx="331.78" cy="258.9" r="0.42"/><circle cx="373.55" cy="256.47" r="0.42"/><circle cx="330.48" cy="253.29" r="0.42"/><circle cx="364.87" cy="261.07" r="0.42"/><circle cx="330.68" cy="267.89" r="0.42"/><circle cx="374.37" cy="253.11" r="0.42"/><circle cx="332.64" cy="257.19" r="0.42"/><circle cx="362.54" cy="259.73" r="0.42"/><circle cx="354.28" cy="227.48" r="0.42"/><circle cx="344.61" cy="236.88" r="0.42"/><circle cx="360.86" cy="226.8" r="0.42"/><circle cx="333.38" cy="245.67" r="0.42"/><circle cx="368.4" cy="244.8" r="0.42"/><circle cx="369.22" cy="219.64" r="0.42"/><circle cx="341.05" cy="233.91" r="0.42"/><circle cx="329.14" cy="229.29" r="0.42"/><circle cx="362.48" cy="238.99" r="0.42"/><circle cx="342.87" cy="240.18" r="0.42"/><circle cx="334.74" cy="217.17" r="0.42"/><circle cx="377.59" cy="256.53" r="0.42"/><circle cx="355.31" cy="219.31" r="0.42"/><circle cx="339.07" cy="227.27" r="0.42"/><circle cx="369.98" cy="266.75" r="0.42"/><circle cx="364.6" cy="231.95" r="0.42"/><circle cx="368.92" cy="231.57" r="0.42"/><circle cx="345.16" cy="244.97" r="0.42"/><circle cx="369.23" cy="226.88" r="0.42"/><circle cx="368.63" cy="253.92" r="0.42"/><circle cx="373.07" cy="267.81" r="0.42"/><circle cx="351.71" cy="241.97" r="0.42"/><circle cx="341.58" cy="246.7" r="0.42"/><circle cx="361.78" cy="222.49" r="0.42"/><circle cx="376.43" cy="218.2" r="0.42"/><circle cx="328.08" cy="238.49" r="0.42"/><circle cx="370.48" cy="258.64" r="0.42"/><circle cx="352.76" cy="237.43" r="0.42"/><circle cx="373.01" cy="222.54" r="0.42"/><circle cx="344.1" cy="224.33" r="0.42"/><circle cx="373.25" cy="263.19" r="0.42"/><circle cx="376.67" cy="268.79" r="0.42"/><circle cx="358.23" cy="260.05" r="0.42"/><circle cx="361.18" cy="248.33" r="0.42"/><circle cx="355.7" cy="268.26" r="0.42"/><circle cx="359.66" cy="230.36" r="0.42"/><circle cx="372.03" cy="214.61" r="0.42"/><circle cx="335.82" cy="252.36" r="0.42"/><circle cx="330.43" cy="251.31" r="0.42"/><circle cx="355.37" cy="235.99" r="0.42"/><circle cx="331.84" cy="263.01" r="0.42"/><circle cx="330.94" cy="243.79" r="0.42"/><circle cx="351.44" cy="245.13" r="0.42"/><circle cx="356.6" cy="217.65" r="0.42"/><circle cx="331.31" cy="261.15" r="0.42"/><circle cx="328.99" cy="226.74" r="0.42"/><circle cx="326.79" cy="247.47" r="0.42"/><circle cx="341.6" cy="254.03" r="0.42"/><circle cx="372.21" cy="249.03" r="0.42"/><circle cx="371.35" cy="245.65" r="0.42"/><circle cx="373.71" cy="263.5" r="0.42"/><circle cx="334.74" cy="256.24" r="0.42"/><circle cx="375.3" cy="254.86" r="0.42"/><circle cx="328.26" cy="248.02" r="0.42"/><circle cx="354.54" cy="259.58" r="0.42"/><circle cx="374.12" cy="252.16" r="0.42"/><circle cx="339.24" cy="224.2" r="0.42"/><circle cx="369.58" cy="246.72" r="0.42"/><circle cx="331.91" cy="214.22" r="0.42"/><circle cx="367.64" cy="223.75" r="0.42"/><circle cx="375.34" cy="213.8" r="0.42"/><circle cx="371.4" cy="259.43" r="0.42"/><circle cx="361.33" cy="235.77" r="0.42"/><circle cx="334.23" cy="262.02" r="0.42"/><circle cx="371.4" cy="248.43" r="0.42"/><circle cx="329.95" cy="232.1" r="0.42"/><circle cx="372.49" cy="247.17" r="0.42"/><circle cx="328.27" cy="222.84" r="0.42"/><circle cx="350.32" cy="246.47" r="0.42"/><circle cx="343.36" cy="214.19" r="0.42"/><circle cx="377.29" cy="215.63" r="0.42"/><circle cx="333.58" cy="251.92" r="0.42"/><circle cx="340.21" cy="242" r="0.42"/><circle cx="377.59" cy="214.98" r="0.42"/><circle cx="371.39" cy="267.44" r="0.42"/><circle cx="344.22" cy="244.94" r="0.42"/><circle cx="329.14" cy="232.56" r="0.42"/><circle cx="377.4" cy="240.93" r="0.42"/><circle cx="345.1" cy="227.12" r="0.42"/><circle cx="344.16" cy="220.87" r="0.42"/><circle cx="371.29" cy="239.28" r="0.42"/><circle cx="349.17" cy="245.99" r="0.42"/><circle cx="334.78" cy="216.85" r="0.42"/><circle cx="374.75" cy="232.75" r="0.42"/><circle cx="373.9" cy="246.83" r="0.42"/><circle cx="377.35" cy="233.7" r="0.42"/><circle cx="340.35" cy="227.94" r="0.42"/><circle cx="337.35" cy="236.18" r="0.42"/><circle cx="371.53" cy="232.79" r="0.42"/><circle cx="371.52" cy="250.11" r="0.42"/><circle cx="373.99" cy="225.31" r="0.42"/><circle cx="347.08" cy="252.38" r="0.42"/><circle cx="328.99" cy="237.03" r="0.42"/><circle cx="358.57" cy="232.4" r="0.42"/><circle cx="357.09" cy="227.91" r="0.42"/></g>
<g fill="#4257cc" opacity="0.5" clip-path="url(#cg2)"><circle cx="345.13" cy="271.61" r="0.45"/><circle cx="365.31" cy="213.8" r="0.45"/><circle cx="366.76" cy="235.34" r="0.45"/><circle cx="350.69" cy="268.06" r="0.45"/><circle cx="358.87" cy="270.11" r="0.45"/><circle cx="356.31" cy="248.37" r="0.45"/><circle cx="361.77" cy="240.25" r="0.45"/><circle cx="368.97" cy="234.06" r="0.45"/><circle cx="365.78" cy="232.35" r="0.45"/><circle cx="362.06" cy="231.63" r="0.45"/><circle cx="331.47" cy="263.04" r="0.45"/><circle cx="347.57" cy="268.87" r="0.45"/><circle cx="365.35" cy="240.4" r="0.45"/><circle cx="369.01" cy="213.62" r="0.45"/><circle cx="358" cy="270.11" r="0.45"/><circle cx="343.93" cy="270.83" r="0.45"/><circle cx="352.13" cy="267.13" r="0.45"/><circle cx="356.74" cy="268.3" r="0.45"/><circle cx="367.41" cy="219.51" r="0.45"/><circle cx="370.28" cy="231.2" r="0.45"/><circle cx="360.35" cy="250.91" r="0.45"/><circle cx="364.05" cy="229.44" r="0.45"/><circle cx="365.13" cy="221.03" r="0.45"/><circle cx="355.11" cy="270.71" r="0.45"/><circle cx="364.06" cy="224.31" r="0.45"/><circle cx="339.96" cy="256.21" r="0.45"/><circle cx="367.45" cy="242.4" r="0.45"/><circle cx="357.61" cy="263.77" r="0.45"/><circle cx="364.42" cy="266.3" r="0.45"/><circle cx="357.18" cy="262.08" r="0.45"/><circle cx="359.64" cy="246.34" r="0.45"/><circle cx="368.9" cy="223.88" r="0.45"/><circle cx="367.83" cy="227.66" r="0.45"/><circle cx="362.09" cy="251.74" r="0.45"/><circle cx="360.86" cy="238.41" r="0.45"/><circle cx="362.51" cy="245.69" r="0.45"/><circle cx="365.68" cy="222.7" r="0.45"/><circle cx="366.92" cy="224.37" r="0.45"/><circle cx="367.62" cy="213.16" r="0.45"/><circle cx="365.04" cy="269.5" r="0.45"/><circle cx="366.48" cy="220.35" r="0.45"/><circle cx="355.69" cy="269.9" r="0.45"/><circle cx="348.06" cy="270.1" r="0.45"/><circle cx="353.14" cy="235.93" r="0.45"/><circle cx="366.41" cy="271.35" r="0.45"/><circle cx="360.45" cy="237.92" r="0.45"/><circle cx="360.91" cy="265.12" r="0.45"/><circle cx="351.05" cy="271.53" r="0.45"/><circle cx="365.81" cy="223.11" r="0.45"/><circle cx="357.89" cy="268.75" r="0.45"/><circle cx="362.71" cy="238.22" r="0.45"/><circle cx="360.8" cy="250.79" r="0.45"/><circle cx="358.43" cy="251.07" r="0.45"/><circle cx="333.92" cy="265.81" r="0.45"/><circle cx="367.74" cy="234.8" r="0.45"/><circle cx="363.5" cy="263.67" r="0.45"/><circle cx="357.36" cy="250.29" r="0.45"/><circle cx="347.17" cy="258.82" r="0.45"/><circle cx="358.4" cy="240.56" r="0.45"/><circle cx="354.29" cy="237.86" r="0.45"/><circle cx="363.99" cy="235.82" r="0.45"/><circle cx="355.38" cy="255.69" r="0.45"/><circle cx="361.78" cy="257.58" r="0.45"/><circle cx="364.68" cy="212.85" r="0.45"/><circle cx="369.04" cy="219.1" r="0.45"/><circle cx="367.79" cy="258.04" r="0.45"/><circle cx="348.5" cy="269.36" r="0.45"/><circle cx="364" cy="220.61" r="0.45"/><circle cx="355.41" cy="260.8" r="0.45"/><circle cx="366.88" cy="261.24" r="0.45"/><circle cx="362.52" cy="233.67" r="0.45"/><circle cx="361.3" cy="244.81" r="0.45"/><circle cx="366.02" cy="242.23" r="0.45"/><circle cx="362.69" cy="236.24" r="0.45"/><circle cx="363.43" cy="243.4" r="0.45"/><circle cx="362.02" cy="242.27" r="0.45"/><circle cx="368.47" cy="243.42" r="0.45"/><circle cx="363.68" cy="252.49" r="0.45"/><circle cx="367.06" cy="252.29" r="0.45"/><circle cx="364.16" cy="219.01" r="0.45"/><circle cx="363.86" cy="249.1" r="0.45"/><circle cx="358.05" cy="267.48" r="0.45"/><circle cx="357.9" cy="241.45" r="0.45"/><circle cx="364.71" cy="224.01" r="0.45"/><circle cx="366.13" cy="226.92" r="0.45"/><circle cx="367.98" cy="268.14" r="0.45"/><circle cx="360.73" cy="259.13" r="0.45"/><circle cx="358.32" cy="253.72" r="0.45"/><circle cx="365.49" cy="212.97" r="0.45"/><circle cx="360.06" cy="252.18" r="0.45"/><circle cx="359.41" cy="268.28" r="0.45"/><circle cx="367.9" cy="249.53" r="0.45"/><circle cx="365.72" cy="260" r="0.45"/><circle cx="362.17" cy="266.39" r="0.45"/><circle cx="363.87" cy="267.25" r="0.45"/><circle cx="368.39" cy="260.82" r="0.45"/><circle cx="342.13" cy="270.07" r="0.45"/><circle cx="342.53" cy="266.36" r="0.45"/><circle cx="366.12" cy="243.05" r="0.45"/><circle cx="356.48" cy="254.33" r="0.45"/><circle cx="350.54" cy="262.23" r="0.45"/><circle cx="365.98" cy="228.62" r="0.45"/><circle cx="362.07" cy="245.73" r="0.45"/><circle cx="365.87" cy="215.21" r="0.45"/><circle cx="366.64" cy="239.66" r="0.45"/><circle cx="363.96" cy="232.91" r="0.45"/><circle cx="351.91" cy="251.05" r="0.45"/><circle cx="349.28" cy="271.46" r="0.45"/><circle cx="360.21" cy="253.16" r="0.45"/><circle cx="357.51" cy="252.47" r="0.45"/><circle cx="347.51" cy="251.38" r="0.45"/><circle cx="365.87" cy="239.32" r="0.45"/><circle cx="355.99" cy="271.22" r="0.45"/><circle cx="366.6" cy="231.9" r="0.45"/><circle cx="342.09" cy="265.58" r="0.45"/><circle cx="342.9" cy="269.79" r="0.45"/><circle cx="355.24" cy="246.68" r="0.45"/><circle cx="365.55" cy="236.32" r="0.45"/><circle cx="360.93" cy="237.81" r="0.45"/><circle cx="363.54" cy="212.87" r="0.45"/><circle cx="358.1" cy="268.42" r="0.45"/><circle cx="352.33" cy="271.67" r="0.45"/><circle cx="363.78" cy="263.77" r="0.45"/><circle cx="363.16" cy="224.74" r="0.45"/><circle cx="357.96" cy="255.63" r="0.45"/><circle cx="363.17" cy="224.09" r="0.45"/><circle cx="366.37" cy="264.01" r="0.45"/><circle cx="360.89" cy="248.49" r="0.45"/><circle cx="358.1" cy="251.53" r="0.45"/><circle cx="367.08" cy="229.37" r="0.45"/><circle cx="360.22" cy="247.23" r="0.45"/><circle cx="357.78" cy="248.74" r="0.45"/><circle cx="365.87" cy="260.84" r="0.45"/><circle cx="358.83" cy="262.41" r="0.45"/><circle cx="349.34" cy="244.82" r="0.45"/><circle cx="364.31" cy="254.19" r="0.45"/><circle cx="364.79" cy="254.85" r="0.45"/><circle cx="364.13" cy="224.43" r="0.45"/><circle cx="347.63" cy="267.19" r="0.45"/><circle cx="361.03" cy="229.43" r="0.45"/><circle cx="367.01" cy="238.98" r="0.45"/><circle cx="364.55" cy="226.42" r="0.45"/><circle cx="361.89" cy="266.15" r="0.45"/><circle cx="362.57" cy="230.72" r="0.45"/><circle cx="369.38" cy="240.15" r="0.45"/><circle cx="366.59" cy="238.18" r="0.45"/><circle cx="356.54" cy="237.46" r="0.45"/><circle cx="366.95" cy="262.31" r="0.45"/><circle cx="359.55" cy="261.08" r="0.45"/><circle cx="367.19" cy="220.32" r="0.45"/><circle cx="349.49" cy="268.21" r="0.45"/><circle cx="355.48" cy="257.25" r="0.45"/><circle cx="367.43" cy="241.44" r="0.45"/><circle cx="339.38" cy="270.01" r="0.45"/><circle cx="364.41" cy="255.07" r="0.45"/><circle cx="363.06" cy="227.21" r="0.45"/><circle cx="364.57" cy="213.04" r="0.45"/><circle cx="354.81" cy="262.45" r="0.45"/><circle cx="363.06" cy="251.06" r="0.45"/><circle cx="356.71" cy="251.79" r="0.45"/><circle cx="363.39" cy="248.24" r="0.45"/><circle cx="342.97" cy="263.37" r="0.45"/><circle cx="363.69" cy="265.31" r="0.45"/><circle cx="359.8" cy="244.36" r="0.45"/><circle cx="366.75" cy="217.55" r="0.45"/><circle cx="357.72" cy="260.36" r="0.45"/><circle cx="365.31" cy="233.96" r="0.45"/><circle cx="351.05" cy="262.09" r="0.45"/><circle cx="336.59" cy="269.95" r="0.45"/><circle cx="365.45" cy="244.58" r="0.45"/><circle cx="356.48" cy="250" r="0.45"/><circle cx="352.46" cy="268.87" r="0.45"/><circle cx="362.8" cy="258.17" r="0.45"/><circle cx="352.82" cy="267.58" r="0.45"/><circle cx="363.58" cy="226.09" r="0.45"/><circle cx="339.2" cy="268.31" r="0.45"/><circle cx="345.44" cy="269.34" r="0.45"/><circle cx="357.19" cy="269.32" r="0.45"/><circle cx="358.2" cy="248.58" r="0.45"/><circle cx="358.75" cy="266.51" r="0.45"/><circle cx="367.65" cy="269.03" r="0.45"/><circle cx="365.96" cy="250.73" r="0.45"/><circle cx="363.39" cy="217.65" r="0.45"/><circle cx="364.29" cy="246.28" r="0.45"/><circle cx="365.94" cy="233.38" r="0.45"/><circle cx="350.65" cy="271.38" r="0.45"/><circle cx="362.36" cy="262.39" r="0.45"/><circle cx="367.92" cy="245.74" r="0.45"/><circle cx="366.68" cy="230.74" r="0.45"/><circle cx="329.01" cy="264.51" r="0.45"/><circle cx="345.15" cy="271.21" r="0.45"/><circle cx="365.24" cy="228.32" r="0.45"/><circle cx="365.96" cy="253.19" r="0.45"/><circle cx="366.02" cy="217.9" r="0.45"/><circle cx="368.49" cy="270.16" r="0.45"/><circle cx="364.86" cy="238.7" r="0.45"/><circle cx="364.36" cy="268.6" r="0.45"/><circle cx="319.01" cy="260.46" r="0.45"/><circle cx="362.45" cy="230.15" r="0.45"/><circle cx="359.83" cy="231.11" r="0.45"/><circle cx="365.79" cy="241.75" r="0.45"/><circle cx="366.62" cy="225.81" r="0.45"/><circle cx="366.04" cy="235.85" r="0.45"/><circle cx="364.01" cy="215.71" r="0.45"/><circle cx="345.44" cy="268.78" r="0.45"/><circle cx="365.06" cy="220.92" r="0.45"/><circle cx="362.92" cy="229.31" r="0.45"/><circle cx="363.42" cy="227.47" r="0.45"/><circle cx="349.55" cy="262.06" r="0.45"/><circle cx="364.9" cy="217.42" r="0.45"/><circle cx="369.68" cy="230.47" r="0.45"/><circle cx="363.08" cy="265.1" r="0.45"/><circle cx="332.89" cy="264.91" r="0.45"/><circle cx="364.74" cy="238.23" r="0.45"/><circle cx="363.85" cy="230.76" r="0.45"/><circle cx="365.27" cy="217.78" r="0.45"/><circle cx="345.7" cy="270.18" r="0.45"/><circle cx="344.33" cy="260.02" r="0.45"/><circle cx="362.36" cy="230.04" r="0.45"/><circle cx="342.43" cy="271.58" r="0.45"/><circle cx="355.98" cy="255.72" r="0.45"/><circle cx="365.63" cy="260.24" r="0.45"/><circle cx="364.61" cy="225.91" r="0.45"/><circle cx="365.62" cy="270.16" r="0.45"/><circle cx="354.37" cy="254.36" r="0.45"/><circle cx="365.06" cy="269.23" r="0.45"/><circle cx="367.1" cy="227.65" r="0.45"/><circle cx="367.09" cy="216.4" r="0.45"/><circle cx="360.99" cy="222.17" r="0.45"/><circle cx="335.65" cy="257.09" r="0.45"/><circle cx="360.78" cy="250.42" r="0.45"/><circle cx="366.28" cy="227.04" r="0.45"/><circle cx="349.5" cy="271.7" r="0.45"/><circle cx="363.48" cy="253.62" r="0.45"/><circle cx="354.46" cy="259.36" r="0.45"/><circle cx="364.13" cy="224.46" r="0.45"/><circle cx="363.42" cy="218.9" r="0.45"/><circle cx="352.45" cy="270.47" r="0.45"/><circle cx="366.66" cy="216.39" r="0.45"/><circle cx="361.96" cy="242.06" r="0.45"/><circle cx="360.18" cy="238.87" r="0.45"/><circle cx="362.9" cy="258.76" r="0.45"/><circle cx="364.14" cy="226.7" r="0.45"/><circle cx="364.81" cy="254.02" r="0.45"/><circle cx="367.18" cy="234.99" r="0.45"/><circle cx="346.86" cy="260.76" r="0.45"/><circle cx="366.32" cy="222.04" r="0.45"/><circle cx="359.46" cy="245.86" r="0.45"/><circle cx="364.04" cy="233.58" r="0.45"/><circle cx="367.35" cy="232.42" r="0.45"/><circle cx="349.79" cy="255.6" r="0.45"/><circle cx="364.59" cy="229.09" r="0.45"/><circle cx="364.85" cy="215.94" r="0.45"/><circle cx="358.41" cy="263.08" r="0.45"/><circle cx="365.45" cy="227.42" r="0.45"/><circle cx="331.55" cy="268.61" r="0.45"/><circle cx="366" cy="267.85" r="0.45"/><circle cx="356.35" cy="261.42" r="0.45"/><circle cx="334.32" cy="257.72" r="0.45"/><circle cx="355.5" cy="266.92" r="0.45"/><circle cx="360.98" cy="266.53" r="0.45"/><circle cx="367.55" cy="269.59" r="0.45"/><circle cx="357.35" cy="257.58" r="0.45"/><circle cx="351.63" cy="266.26" r="0.45"/><circle cx="361.68" cy="226.51" r="0.45"/><circle cx="355.15" cy="261.28" r="0.45"/><circle cx="351.41" cy="252.68" r="0.45"/><circle cx="367.84" cy="233.18" r="0.45"/><circle cx="365.15" cy="219.85" r="0.45"/><circle cx="368.76" cy="242.18" r="0.45"/><circle cx="354.94" cy="271.2" r="0.45"/><circle cx="357.21" cy="259.29" r="0.45"/><circle cx="350.12" cy="264.62" r="0.45"/><circle cx="364.06" cy="233.09" r="0.45"/><circle cx="365.4" cy="228.87" r="0.45"/><circle cx="356.98" cy="241.15" r="0.45"/><circle cx="365.33" cy="237.74" r="0.45"/><circle cx="366.3" cy="217.9" r="0.45"/><circle cx="362.38" cy="257.19" r="0.45"/><circle cx="352.11" cy="266.98" r="0.45"/><circle cx="354.8" cy="249.5" r="0.45"/><circle cx="364.44" cy="268.82" r="0.45"/><circle cx="343.33" cy="256.03" r="0.45"/><circle cx="360.77" cy="239.5" r="0.45"/><circle cx="367.24" cy="246.06" r="0.45"/><circle cx="365.54" cy="230.39" r="0.45"/><circle cx="365.88" cy="239.23" r="0.45"/><circle cx="362.49" cy="221.46" r="0.45"/><circle cx="360.64" cy="227.81" r="0.45"/><circle cx="357.88" cy="268.89" r="0.45"/><circle cx="367.47" cy="243.43" r="0.45"/><circle cx="363.7" cy="244.05" r="0.45"/><circle cx="366.84" cy="265.9" r="0.45"/><circle cx="355.28" cy="238.91" r="0.45"/><circle cx="365.43" cy="258.97" r="0.45"/><circle cx="367.45" cy="226.39" r="0.45"/><circle cx="364.29" cy="242.25" r="0.45"/><circle cx="345.81" cy="270.85" r="0.45"/><circle cx="360.38" cy="228.9" r="0.45"/><circle cx="365.14" cy="269.53" r="0.45"/><circle cx="360.08" cy="260" r="0.45"/><circle cx="363.71" cy="265.7" r="0.45"/><circle cx="364.45" cy="226.33" r="0.45"/><circle cx="366.43" cy="271.39" r="0.45"/><circle cx="364.38" cy="250.55" r="0.45"/><circle cx="364.31" cy="242.2" r="0.45"/><circle cx="350.59" cy="256.77" r="0.45"/><circle cx="328.77" cy="265.35" r="0.45"/><circle cx="363.53" cy="229.15" r="0.45"/><circle cx="365.9" cy="213.91" r="0.45"/><circle cx="342.45" cy="268.81" r="0.45"/><circle cx="362.51" cy="236.52" r="0.45"/><circle cx="356.89" cy="266.82" r="0.45"/><circle cx="364.3" cy="266.65" r="0.45"/><circle cx="363.33" cy="254.56" r="0.45"/><circle cx="366.95" cy="266.55" r="0.45"/><circle cx="357.06" cy="237.06" r="0.45"/><circle cx="363.24" cy="217.22" r="0.45"/><circle cx="364.17" cy="235.69" r="0.45"/><circle cx="346.3" cy="271.61" r="0.45"/><circle cx="368" cy="242.18" r="0.45"/><circle cx="329.06" cy="267.79" r="0.45"/><circle cx="359" cy="261.73" r="0.45"/><circle cx="346.46" cy="259.21" r="0.45"/><circle cx="363.49" cy="253.59" r="0.45"/><circle cx="362.81" cy="268.14" r="0.45"/><circle cx="363.17" cy="213.53" r="0.45"/><circle cx="364.42" cy="252.31" r="0.45"/><circle cx="347.25" cy="269.58" r="0.45"/><circle cx="367.71" cy="266.05" r="0.45"/><circle cx="363.04" cy="220.58" r="0.45"/><circle cx="365.02" cy="214.41" r="0.45"/><circle cx="355.93" cy="257.65" r="0.45"/><circle cx="355.39" cy="268.81" r="0.45"/><circle cx="366.77" cy="245.28" r="0.45"/><circle cx="365.23" cy="227.06" r="0.45"/><circle cx="348.87" cy="271.17" r="0.45"/><circle cx="357.55" cy="270.58" r="0.45"/><circle cx="363.32" cy="222.55" r="0.45"/><circle cx="368.63" cy="266.19" r="0.45"/><circle cx="354.66" cy="257.74" r="0.45"/><circle cx="362.71" cy="269.05" r="0.45"/><circle cx="357.26" cy="245.26" r="0.45"/><circle cx="351.06" cy="254.5" r="0.45"/><circle cx="349.27" cy="270.96" r="0.45"/><circle cx="365.51" cy="239.13" r="0.45"/><circle cx="363.32" cy="240.81" r="0.45"/><circle cx="346.74" cy="268.55" r="0.45"/><circle cx="367.13" cy="270.77" r="0.45"/><circle cx="346.77" cy="265.25" r="0.45"/><circle cx="361.69" cy="227.58" r="0.45"/><circle cx="326.83" cy="271.26" r="0.45"/><circle cx="366.27" cy="229.27" r="0.45"/><circle cx="357.03" cy="264.74" r="0.45"/><circle cx="358.03" cy="239.21" r="0.45"/><circle cx="368.07" cy="219.7" r="0.45"/><circle cx="366.54" cy="271.55" r="0.45"/><circle cx="366.4" cy="215.06" r="0.45"/><circle cx="366.09" cy="228.92" r="0.45"/><circle cx="356.36" cy="269.67" r="0.45"/><circle cx="362.29" cy="219.95" r="0.45"/><circle cx="361.49" cy="247.25" r="0.45"/><circle cx="354.63" cy="242.91" r="0.45"/><circle cx="346.32" cy="270.42" r="0.45"/><circle cx="366.12" cy="262.44" r="0.45"/><circle cx="357.92" cy="233.76" r="0.45"/><circle cx="365.61" cy="228.57" r="0.45"/><circle cx="366.69" cy="240.78" r="0.45"/><circle cx="344.99" cy="269.54" r="0.45"/><circle cx="350.25" cy="259.35" r="0.45"/><circle cx="366.1" cy="225.49" r="0.45"/><circle cx="362.08" cy="258.55" r="0.45"/><circle cx="327.59" cy="268.35" r="0.45"/><circle cx="365.59" cy="231.93" r="0.45"/><circle cx="357.44" cy="269.44" r="0.45"/><circle cx="357.99" cy="249.57" r="0.45"/><circle cx="354.69" cy="243.52" r="0.45"/><circle cx="361.42" cy="234.7" r="0.45"/><circle cx="367.01" cy="226.51" r="0.45"/><circle cx="362.36" cy="238.55" r="0.45"/><circle cx="366.88" cy="223.15" r="0.45"/><circle cx="364.2" cy="254.38" r="0.45"/><circle cx="360.82" cy="261.98" r="0.45"/><circle cx="320.95" cy="269.98" r="0.45"/><circle cx="355.64" cy="240.49" r="0.45"/><circle cx="361.16" cy="226.53" r="0.45"/><circle cx="368.71" cy="263.23" r="0.45"/><circle cx="365.26" cy="271.52" r="0.45"/><circle cx="367.16" cy="219.56" r="0.45"/><circle cx="359.59" cy="231.45" r="0.45"/><circle cx="354.46" cy="248.81" r="0.45"/><circle cx="357.04" cy="261.34" r="0.45"/><circle cx="361.77" cy="248.46" r="0.45"/><circle cx="359.14" cy="248.88" r="0.45"/><circle cx="364.39" cy="218.11" r="0.45"/><circle cx="364.68" cy="237.9" r="0.45"/><circle cx="361.76" cy="265.93" r="0.45"/><circle cx="367.49" cy="271.61" r="0.45"/><circle cx="367.64" cy="213.61" r="0.45"/><circle cx="361.75" cy="238.11" r="0.45"/><circle cx="368.39" cy="233.14" r="0.45"/><circle cx="362.08" cy="271.43" r="0.45"/><circle cx="345.43" cy="263.9" r="0.45"/><circle cx="359.79" cy="244.89" r="0.45"/><circle cx="367.15" cy="237.52" r="0.45"/><circle cx="350.21" cy="270.68" r="0.45"/><circle cx="352.93" cy="268.54" r="0.45"/><circle cx="365.94" cy="215.37" r="0.45"/><circle cx="367.01" cy="231.88" r="0.45"/><circle cx="349.66" cy="261.85" r="0.45"/><circle cx="366.26" cy="254.19" r="0.45"/><circle cx="366.79" cy="218.59" r="0.45"/><circle cx="360.36" cy="271.38" r="0.45"/><circle cx="364.12" cy="225.05" r="0.45"/><circle cx="357.74" cy="263.07" r="0.45"/><circle cx="366.72" cy="220.91" r="0.45"/><circle cx="364" cy="245.17" r="0.45"/><circle cx="328.69" cy="268.49" r="0.45"/><circle cx="356.5" cy="257.71" r="0.45"/><circle cx="365.02" cy="265.48" r="0.45"/><circle cx="363.57" cy="225.26" r="0.45"/><circle cx="365.6" cy="258.76" r="0.45"/><circle cx="368.6" cy="230.43" r="0.45"/><circle cx="362.33" cy="249.38" r="0.45"/><circle cx="367.7" cy="229.8" r="0.45"/><circle cx="367.75" cy="232.24" r="0.45"/><circle cx="356.7" cy="265.65" r="0.45"/><circle cx="353.22" cy="241.39" r="0.45"/><circle cx="347.27" cy="271.03" r="0.45"/><circle cx="350.9" cy="264.99" r="0.45"/><circle cx="340.71" cy="269.37" r="0.45"/><circle cx="353.12" cy="270.01" r="0.45"/><circle cx="366.57" cy="267.42" r="0.45"/><circle cx="352.61" cy="269.3" r="0.45"/><circle cx="353.85" cy="252.74" r="0.45"/><circle cx="364.21" cy="270.57" r="0.45"/><circle cx="349.31" cy="246.78" r="0.45"/><circle cx="362.99" cy="224.82" r="0.45"/><circle cx="367.84" cy="249.27" r="0.45"/><circle cx="367.66" cy="224.26" r="0.45"/><circle cx="351.7" cy="263.64" r="0.45"/><circle cx="362.61" cy="234.8" r="0.45"/><circle cx="363.34" cy="261.13" r="0.45"/><circle cx="341.56" cy="258.89" r="0.45"/><circle cx="366.98" cy="251.98" r="0.45"/><circle cx="365.89" cy="240.57" r="0.45"/><circle cx="365.19" cy="252.67" r="0.45"/><circle cx="345.76" cy="265.02" r="0.45"/><circle cx="361.25" cy="240.7" r="0.45"/><circle cx="364.85" cy="217.45" r="0.45"/><circle cx="360.16" cy="258.54" r="0.45"/><circle cx="337.72" cy="265.32" r="0.45"/><circle cx="366.8" cy="270.32" r="0.45"/><circle cx="363.22" cy="254.54" r="0.45"/><circle cx="355.29" cy="233.46" r="0.45"/><circle cx="366.46" cy="256.66" r="0.45"/><circle cx="368.57" cy="217.21" r="0.45"/><circle cx="355.8" cy="250.11" r="0.45"/><circle cx="365.85" cy="213.42" r="0.45"/><circle cx="367.56" cy="226.77" r="0.45"/><circle cx="366.21" cy="253.5" r="0.45"/><circle cx="357.2" cy="260.93" r="0.45"/><circle cx="361.12" cy="239.44" r="0.45"/><circle cx="367.34" cy="267.85" r="0.45"/><circle cx="368.38" cy="243.76" r="0.45"/><circle cx="365.69" cy="246.85" r="0.45"/><circle cx="340.35" cy="264.74" r="0.45"/><circle cx="354.85" cy="268.3" r="0.45"/><circle cx="364.98" cy="245.54" r="0.45"/><circle cx="358.39" cy="265.01" r="0.45"/><circle cx="348.61" cy="253.75" r="0.45"/><circle cx="354.01" cy="239.94" r="0.45"/><circle cx="352.42" cy="263.47" r="0.45"/><circle cx="359.72" cy="271.01" r="0.45"/><circle cx="364.63" cy="271.56" r="0.45"/><circle cx="364.99" cy="215.61" r="0.45"/><circle cx="355.37" cy="248.97" r="0.45"/><circle cx="363.9" cy="240.54" r="0.45"/><circle cx="354.72" cy="264.6" r="0.45"/><circle cx="356.75" cy="229.4" r="0.45"/><circle cx="337.05" cy="266.71" r="0.45"/><circle cx="363.46" cy="246.29" r="0.45"/><circle cx="367.39" cy="264.07" r="0.45"/><circle cx="365.37" cy="249.33" r="0.45"/><circle cx="362.21" cy="234.04" r="0.45"/><circle cx="367.05" cy="239.19" r="0.45"/><circle cx="358.24" cy="252.36" r="0.45"/><circle cx="362.45" cy="240.96" r="0.45"/><circle cx="368.24" cy="230.61" r="0.45"/><circle cx="368.06" cy="216.39" r="0.45"/><circle cx="365.65" cy="216.07" r="0.45"/><circle cx="363.69" cy="234.5" r="0.45"/><circle cx="365.68" cy="232.08" r="0.45"/><circle cx="367.38" cy="265.82" r="0.45"/><circle cx="352.94" cy="268.74" r="0.45"/><circle cx="328.04" cy="270.42" r="0.45"/><circle cx="360.53" cy="245.84" r="0.45"/><circle cx="362.6" cy="254.64" r="0.45"/><circle cx="361.86" cy="271.56" r="0.45"/><circle cx="344.99" cy="258.44" r="0.45"/><circle cx="362.82" cy="226.64" r="0.45"/><circle cx="363.39" cy="236.78" r="0.45"/><circle cx="367.18" cy="232.13" r="0.45"/><circle cx="359.86" cy="227.76" r="0.45"/><circle cx="365.28" cy="223.4" r="0.45"/><circle cx="337.49" cy="271.59" r="0.45"/><circle cx="366.2" cy="263.31" r="0.45"/><circle cx="366.9" cy="267.45" r="0.45"/><circle cx="366.98" cy="265.19" r="0.45"/><circle cx="366.53" cy="213.83" r="0.45"/><circle cx="365.98" cy="218.39" r="0.45"/><circle cx="355.18" cy="260.24" r="0.45"/><circle cx="358.22" cy="255.79" r="0.45"/><circle cx="358.31" cy="270.94" r="0.45"/><circle cx="346.24" cy="270.07" r="0.45"/><circle cx="359.17" cy="263.74" r="0.45"/><circle cx="358.6" cy="259.92" r="0.45"/><circle cx="366.59" cy="218.87" r="0.45"/><circle cx="360.37" cy="268.14" r="0.45"/><circle cx="368.27" cy="235.88" r="0.45"/><circle cx="363.63" cy="229.33" r="0.45"/><circle cx="357.5" cy="266.76" r="0.45"/><circle cx="367.79" cy="230.17" r="0.45"/><circle cx="363.76" cy="239.82" r="0.45"/><circle cx="360.29" cy="266.71" r="0.45"/><circle cx="368.09" cy="241.92" r="0.45"/><circle cx="348.05" cy="255.44" r="0.45"/><circle cx="364.54" cy="271.38" r="0.45"/><circle cx="351.51" cy="262.45" r="0.45"/><circle cx="362.63" cy="243.26" r="0.45"/><circle cx="360.82" cy="261.46" r="0.45"/><circle cx="365.14" cy="268.02" r="0.45"/><circle cx="362.47" cy="227.33" r="0.45"/><circle cx="367.06" cy="229.93" r="0.45"/><circle cx="360.61" cy="235.57" r="0.45"/><circle cx="347.12" cy="270.13" r="0.45"/><circle cx="334.17" cy="268.23" r="0.45"/><circle cx="366.23" cy="253.19" r="0.45"/><circle cx="357.65" cy="250.41" r="0.45"/><circle cx="357.13" cy="235.93" r="0.45"/><circle cx="351.91" cy="269.66" r="0.45"/><circle cx="369.02" cy="251.86" r="0.45"/><circle cx="361.08" cy="265.53" r="0.45"/><circle cx="365.62" cy="236.23" r="0.45"/><circle cx="341.94" cy="254.08" r="0.45"/><circle cx="361.44" cy="242.98" r="0.45"/><circle cx="367.46" cy="241.72" r="0.45"/><circle cx="366.21" cy="214.36" r="0.45"/><circle cx="359.88" cy="252.94" r="0.45"/><circle cx="365.3" cy="270.64" r="0.45"/><circle cx="357.95" cy="254.64" r="0.45"/><circle cx="361.69" cy="270" r="0.45"/><circle cx="365.95" cy="262.58" r="0.45"/><circle cx="358.09" cy="269.65" r="0.45"/><circle cx="363.9" cy="248.82" r="0.45"/><circle cx="364.56" cy="267.43" r="0.45"/><circle cx="360.7" cy="260.1" r="0.45"/><circle cx="366.86" cy="215.18" r="0.45"/><circle cx="356.75" cy="234.09" r="0.45"/><circle cx="352.57" cy="252.52" r="0.45"/><circle cx="344.79" cy="262.55" r="0.45"/><circle cx="365.58" cy="234.6" r="0.45"/><circle cx="365.58" cy="216.36" r="0.45"/><circle cx="368.28" cy="260.06" r="0.45"/><circle cx="361.16" cy="252.74" r="0.45"/><circle cx="367.24" cy="225.09" r="0.45"/><circle cx="366.28" cy="233.78" r="0.45"/><circle cx="354.72" cy="255.73" r="0.45"/><circle cx="352.69" cy="245.98" r="0.45"/><circle cx="349.57" cy="243.83" r="0.45"/><circle cx="350.51" cy="260.66" r="0.45"/><circle cx="358.46" cy="263.61" r="0.45"/><circle cx="363.15" cy="259.33" r="0.45"/><circle cx="352.9" cy="265.31" r="0.45"/><circle cx="356.6" cy="241.79" r="0.45"/><circle cx="341.53" cy="264.57" r="0.45"/><circle cx="365.02" cy="213.53" r="0.45"/><circle cx="369.13" cy="228.45" r="0.45"/><circle cx="363.22" cy="257.84" r="0.45"/><circle cx="360.21" cy="248.34" r="0.45"/><circle cx="350.68" cy="259.73" r="0.45"/><circle cx="364.91" cy="223.09" r="0.45"/><circle cx="362.49" cy="233.82" r="0.45"/><circle cx="350.33" cy="271.08" r="0.45"/><circle cx="358.64" cy="253.55" r="0.45"/><circle cx="364.68" cy="230.88" r="0.45"/><circle cx="368.03" cy="259.98" r="0.45"/><circle cx="342.91" cy="260.66" r="0.45"/><circle cx="362.25" cy="265.31" r="0.45"/><circle cx="366.85" cy="234.06" r="0.45"/><circle cx="354.57" cy="256.67" r="0.45"/><circle cx="344.87" cy="261.52" r="0.45"/><circle cx="351.75" cy="252.66" r="0.45"/><circle cx="353.12" cy="261.44" r="0.45"/><circle cx="337.49" cy="269.67" r="0.45"/><circle cx="357.24" cy="249.67" r="0.45"/><circle cx="365.71" cy="222.96" r="0.45"/><circle cx="347.65" cy="258.83" r="0.45"/><circle cx="359.52" cy="237.45" r="0.45"/><circle cx="350.04" cy="271.32" r="0.45"/><circle cx="365.4" cy="235.84" r="0.45"/><circle cx="358.08" cy="249.34" r="0.45"/><circle cx="365.58" cy="259.14" r="0.45"/><circle cx="368.21" cy="229.35" r="0.45"/><circle cx="366.09" cy="213.37" r="0.45"/><circle cx="363.51" cy="236.41" r="0.45"/><circle cx="357.87" cy="261.92" r="0.45"/><circle cx="348.17" cy="266.94" r="0.45"/><circle cx="359.2" cy="239.46" r="0.45"/><circle cx="363.23" cy="212.7" r="0.45"/><circle cx="348.67" cy="267.07" r="0.45"/><circle cx="363.41" cy="232.65" r="0.45"/><circle cx="367.6" cy="219.3" r="0.45"/><circle cx="347.99" cy="250.69" r="0.45"/><circle cx="361.93" cy="216.64" r="0.45"/><circle cx="360.83" cy="246.98" r="0.45"/><circle cx="363.08" cy="229.21" r="0.45"/><circle cx="366.1" cy="263.92" r="0.45"/><circle cx="363.22" cy="250.01" r="0.45"/><circle cx="353" cy="271.67" r="0.45"/><circle cx="368.09" cy="233.5" r="0.45"/><circle cx="362.76" cy="249.79" r="0.45"/><circle cx="367.91" cy="220.98" r="0.45"/><circle cx="365.56" cy="235.6" r="0.45"/><circle cx="368.15" cy="236.36" r="0.45"/><circle cx="362.54" cy="219.2" r="0.45"/><circle cx="363.92" cy="254.33" r="0.45"/><circle cx="365.83" cy="229.73" r="0.45"/><circle cx="338.95" cy="253.29" r="0.45"/><circle cx="365.51" cy="260.21" r="0.45"/><circle cx="359.53" cy="266.47" r="0.45"/><circle cx="366.64" cy="243.02" r="0.45"/><circle cx="358.74" cy="265.67" r="0.45"/><circle cx="358.32" cy="261.23" r="0.45"/><circle cx="341.46" cy="252.1" r="0.45"/><circle cx="355.61" cy="251.69" r="0.45"/><circle cx="359.36" cy="266.5" r="0.45"/><circle cx="344.56" cy="267.59" r="0.45"/><circle cx="366.42" cy="215.6" r="0.45"/><circle cx="357.9" cy="255.34" r="0.45"/><circle cx="354.72" cy="257.22" r="0.45"/><circle cx="350.34" cy="246.14" r="0.45"/><circle cx="363.98" cy="235.02" r="0.45"/><circle cx="365.95" cy="219.62" r="0.45"/><circle cx="346.42" cy="262.09" r="0.45"/><circle cx="364.35" cy="234.52" r="0.45"/><circle cx="351.71" cy="258.64" r="0.45"/><circle cx="363.1" cy="244.96" r="0.45"/><circle cx="364.8" cy="217.51" r="0.45"/><circle cx="342.27" cy="267.1" r="0.45"/><circle cx="363.9" cy="229.44" r="0.45"/><circle cx="357.17" cy="252.1" r="0.45"/><circle cx="366.58" cy="221.73" r="0.45"/><circle cx="364.59" cy="218.84" r="0.45"/><circle cx="353.96" cy="260.38" r="0.45"/><circle cx="368.36" cy="230.59" r="0.45"/><circle cx="350.95" cy="257.46" r="0.45"/><circle cx="367.17" cy="248.36" r="0.45"/><circle cx="365.79" cy="227.77" r="0.45"/><circle cx="365.59" cy="271.51" r="0.45"/><circle cx="366.34" cy="229.04" r="0.45"/><circle cx="366.83" cy="270.88" r="0.45"/><circle cx="354.05" cy="235.64" r="0.45"/><circle cx="363.68" cy="247.58" r="0.45"/><circle cx="366.26" cy="219.2" r="0.45"/><circle cx="363.3" cy="233.53" r="0.45"/><circle cx="344.87" cy="270.02" r="0.45"/><circle cx="365.15" cy="244.49" r="0.45"/><circle cx="364.91" cy="270.92" r="0.45"/><circle cx="365.06" cy="236.53" r="0.45"/><circle cx="359.09" cy="267.85" r="0.45"/><circle cx="361.01" cy="239.16" r="0.45"/><circle cx="366" cy="214.55" r="0.45"/><circle cx="366.13" cy="264.18" r="0.45"/><circle cx="366.43" cy="213.15" r="0.45"/><circle cx="359.36" cy="267.2" r="0.45"/><circle cx="361.75" cy="234.36" r="0.45"/><circle cx="360.84" cy="238.56" r="0.45"/><circle cx="362.51" cy="230.2" r="0.45"/><circle cx="364.58" cy="222.88" r="0.45"/><circle cx="343.05" cy="257" r="0.45"/><circle cx="365.86" cy="220.07" r="0.45"/><circle cx="349.41" cy="267.38" r="0.45"/><circle cx="354.85" cy="271.68" r="0.45"/><circle cx="349.46" cy="249.91" r="0.45"/><circle cx="358.36" cy="255.98" r="0.45"/><circle cx="357.11" cy="235.02" r="0.45"/><circle cx="363.9" cy="216.59" r="0.45"/><circle cx="360.04" cy="261.2" r="0.45"/><circle cx="364.15" cy="221.01" r="0.45"/><circle cx="361.3" cy="227.79" r="0.45"/><circle cx="366.03" cy="261.11" r="0.45"/><circle cx="360.84" cy="243.53" r="0.45"/><circle cx="366.37" cy="251.54" r="0.45"/><circle cx="338.83" cy="270.29" r="0.45"/><circle cx="364.36" cy="268.3" r="0.45"/><circle cx="364.32" cy="220.72" r="0.45"/><circle cx="364.87" cy="218.5" r="0.45"/><circle cx="366.61" cy="269.75" r="0.45"/><circle cx="363.31" cy="223.72" r="0.45"/><circle cx="363" cy="264.03" r="0.45"/><circle cx="338.66" cy="269.9" r="0.45"/><circle cx="359.26" cy="265.84" r="0.45"/><circle cx="338.3" cy="258.39" r="0.45"/><circle cx="365.74" cy="212.89" r="0.45"/><circle cx="365.93" cy="228.81" r="0.45"/><circle cx="362.53" cy="224.35" r="0.45"/><circle cx="355.34" cy="252.52" r="0.45"/><circle cx="364.66" cy="268.45" r="0.45"/><circle cx="363.62" cy="213.73" r="0.45"/><circle cx="355.43" cy="268.9" r="0.45"/><circle cx="365.59" cy="264.36" r="0.45"/><circle cx="350.45" cy="252.21" r="0.45"/><circle cx="364.56" cy="221.89" r="0.45"/><circle cx="362.08" cy="252.75" r="0.45"/><circle cx="359.11" cy="259.84" r="0.45"/><circle cx="363.43" cy="268.72" r="0.45"/><circle cx="352.29" cy="266.97" r="0.45"/><circle cx="349.33" cy="267.79" r="0.45"/><circle cx="370.14" cy="230.6" r="0.45"/><circle cx="348.02" cy="265.56" r="0.45"/><circle cx="365.41" cy="215.24" r="0.45"/><circle cx="360.02" cy="248.74" r="0.45"/><circle cx="338.35" cy="269.88" r="0.45"/><circle cx="366.47" cy="238.47" r="0.45"/><circle cx="352.01" cy="253.09" r="0.45"/><circle cx="366.93" cy="219.36" r="0.45"/><circle cx="363.26" cy="247.36" r="0.45"/><circle cx="347.65" cy="268.7" r="0.45"/><circle cx="355.5" cy="263.52" r="0.45"/><circle cx="364.59" cy="232.46" r="0.45"/><circle cx="364.54" cy="222.49" r="0.45"/><circle cx="366.92" cy="214.32" r="0.45"/><circle cx="366.39" cy="215.61" r="0.45"/><circle cx="358.04" cy="261.33" r="0.45"/><circle cx="363.82" cy="269.12" r="0.45"/><circle cx="353.83" cy="246.77" r="0.45"/><circle cx="348.88" cy="258.83" r="0.45"/><circle cx="356.94" cy="248.08" r="0.45"/><circle cx="357.87" cy="258.94" r="0.45"/><circle cx="370.5" cy="215.4" r="0.45"/><circle cx="344.2" cy="270.74" r="0.45"/><circle cx="359.23" cy="266.19" r="0.45"/><circle cx="363.14" cy="226.53" r="0.45"/><circle cx="363.53" cy="219.07" r="0.45"/><circle cx="365.62" cy="236.16" r="0.45"/><circle cx="357.04" cy="255.26" r="0.45"/><circle cx="358.29" cy="246.41" r="0.45"/><circle cx="361.82" cy="221.11" r="0.45"/><circle cx="364.75" cy="271.61" r="0.45"/><circle cx="362.05" cy="226.9" r="0.45"/><circle cx="353.01" cy="263.54" r="0.45"/><circle cx="353.06" cy="260.84" r="0.45"/><circle cx="357.68" cy="237.34" r="0.45"/><circle cx="366.03" cy="214.35" r="0.45"/><circle cx="359.71" cy="263.4" r="0.45"/><circle cx="345.04" cy="239.93" r="0.45"/><circle cx="364.08" cy="213.27" r="0.45"/><circle cx="362.74" cy="267.88" r="0.45"/><circle cx="358.57" cy="259.01" r="0.45"/><circle cx="362.64" cy="268.55" r="0.45"/><circle cx="365.25" cy="245.06" r="0.45"/><circle cx="354.91" cy="250.66" r="0.45"/><circle cx="365.37" cy="256.06" r="0.45"/><circle cx="355.87" cy="270.87" r="0.45"/><circle cx="369.25" cy="232.85" r="0.45"/><circle cx="353.19" cy="264.7" r="0.45"/><circle cx="358.01" cy="257.47" r="0.45"/><circle cx="350.72" cy="265.52" r="0.45"/><circle cx="341.38" cy="253.73" r="0.45"/><circle cx="366.61" cy="244" r="0.45"/><circle cx="364.08" cy="270.31" r="0.45"/><circle cx="362.46" cy="240.86" r="0.45"/><circle cx="360.12" cy="250.07" r="0.45"/><circle cx="363.28" cy="268.11" r="0.45"/><circle cx="365.48" cy="220.49" r="0.45"/><circle cx="359.28" cy="267.71" r="0.45"/><circle cx="365.69" cy="225.67" r="0.45"/><circle cx="359.42" cy="242.53" r="0.45"/><circle cx="350.25" cy="260.24" r="0.45"/><circle cx="363.9" cy="235.9" r="0.45"/><circle cx="359.06" cy="239.37" r="0.45"/><circle cx="366.18" cy="270.07" r="0.45"/><circle cx="359.34" cy="265.5" r="0.45"/><circle cx="341.71" cy="270.16" r="0.45"/><circle cx="367.16" cy="260.26" r="0.45"/><circle cx="348.53" cy="265.5" r="0.45"/><circle cx="365.33" cy="255.02" r="0.45"/><circle cx="345.99" cy="248.09" r="0.45"/><circle cx="346.57" cy="269.84" r="0.45"/><circle cx="356.86" cy="266.66" r="0.45"/><circle cx="367.65" cy="228.79" r="0.45"/><circle cx="365.38" cy="228.33" r="0.45"/><circle cx="357.32" cy="251.85" r="0.45"/><circle cx="350.87" cy="237.33" r="0.45"/><circle cx="358.15" cy="271.13" r="0.45"/><circle cx="365.26" cy="269.46" r="0.45"/><circle cx="365.06" cy="245.44" r="0.45"/><circle cx="362.26" cy="237.48" r="0.45"/><circle cx="351.21" cy="263.1" r="0.45"/><circle cx="343.03" cy="271.69" r="0.45"/><circle cx="365.71" cy="224.26" r="0.45"/><circle cx="366.59" cy="223.65" r="0.45"/><circle cx="366.88" cy="257.85" r="0.45"/><circle cx="346.39" cy="271.19" r="0.45"/><circle cx="367.97" cy="213.02" r="0.45"/><circle cx="362.26" cy="230.58" r="0.45"/><circle cx="361.87" cy="215.39" r="0.45"/><circle cx="365.28" cy="246.59" r="0.45"/><circle cx="363.02" cy="251.9" r="0.45"/><circle cx="360.88" cy="250.18" r="0.45"/><circle cx="349.54" cy="263.08" r="0.45"/><circle cx="362.82" cy="255.71" r="0.45"/><circle cx="366.83" cy="248.82" r="0.45"/><circle cx="364.65" cy="236.87" r="0.45"/><circle cx="350.11" cy="264.37" r="0.45"/><circle cx="365.33" cy="258.14" r="0.45"/><circle cx="363.36" cy="236.5" r="0.45"/><circle cx="367.36" cy="234.82" r="0.45"/><circle cx="364.13" cy="259.06" r="0.45"/><circle cx="366.32" cy="233.02" r="0.45"/><circle cx="360.8" cy="265.03" r="0.45"/><circle cx="359.33" cy="238.9" r="0.45"/><circle cx="354.55" cy="263.29" r="0.45"/><circle cx="344.94" cy="271.36" r="0.45"/><circle cx="355.03" cy="239.33" r="0.45"/><circle cx="364" cy="265.22" r="0.45"/><circle cx="365.7" cy="229.83" r="0.45"/><circle cx="366.96" cy="258.46" r="0.45"/><circle cx="356.9" cy="236.25" r="0.45"/><circle cx="364.77" cy="224.02" r="0.45"/><circle cx="358.32" cy="261.32" r="0.45"/><circle cx="362.63" cy="268" r="0.45"/><circle cx="366.18" cy="225.24" r="0.45"/><circle cx="366.09" cy="222.1" r="0.45"/><circle cx="366.21" cy="231.62" r="0.45"/><circle cx="365.29" cy="221.09" r="0.45"/><circle cx="367.69" cy="244.6" r="0.45"/><circle cx="366.23" cy="257.33" r="0.45"/><circle cx="365.58" cy="258.33" r="0.45"/><circle cx="363.92" cy="238.65" r="0.45"/><circle cx="354.2" cy="271.53" r="0.45"/><circle cx="360.77" cy="262.3" r="0.45"/><circle cx="368.7" cy="220.54" r="0.45"/><circle cx="366.74" cy="246" r="0.45"/><circle cx="354.35" cy="260.75" r="0.45"/><circle cx="362.99" cy="250.21" r="0.45"/><circle cx="356.17" cy="261.45" r="0.45"/><circle cx="363.62" cy="221.13" r="0.45"/><circle cx="359.45" cy="264.75" r="0.45"/><circle cx="366.03" cy="245.15" r="0.45"/><circle cx="365.32" cy="229.77" r="0.45"/><circle cx="354.05" cy="231.36" r="0.45"/><circle cx="358.34" cy="270.95" r="0.45"/><circle cx="362.63" cy="242.55" r="0.45"/><circle cx="356.1" cy="247.74" r="0.45"/><circle cx="367.62" cy="269.7" r="0.45"/><circle cx="362.35" cy="254.46" r="0.45"/><circle cx="367.4" cy="253.18" r="0.45"/><circle cx="353.49" cy="270.01" r="0.45"/><circle cx="357.6" cy="254.91" r="0.45"/><circle cx="349.8" cy="237" r="0.45"/><circle cx="347.54" cy="267.59" r="0.45"/><circle cx="361.03" cy="258.32" r="0.45"/><circle cx="366.56" cy="223.19" r="0.45"/><circle cx="361.12" cy="243.26" r="0.45"/><circle cx="350.35" cy="270.25" r="0.45"/><circle cx="354.06" cy="269.42" r="0.45"/><circle cx="356.61" cy="260.64" r="0.45"/><circle cx="338.67" cy="260.07" r="0.45"/><circle cx="361.38" cy="258.91" r="0.45"/><circle cx="362.51" cy="239.89" r="0.45"/><circle cx="367.21" cy="256.44" r="0.45"/><circle cx="361.05" cy="253.46" r="0.45"/><circle cx="363.81" cy="234.64" r="0.45"/><circle cx="364.45" cy="216.15" r="0.45"/><circle cx="360.76" cy="251.03" r="0.45"/><circle cx="350.03" cy="267.45" r="0.45"/><circle cx="361.83" cy="263.94" r="0.45"/><circle cx="364.25" cy="243.38" r="0.45"/><circle cx="359.95" cy="261.32" r="0.45"/><circle cx="362.74" cy="251.87" r="0.45"/><circle cx="358.22" cy="261.58" r="0.45"/><circle cx="364.04" cy="243.13" r="0.45"/><circle cx="339.81" cy="265.52" r="0.45"/><circle cx="366.19" cy="246.53" r="0.45"/><circle cx="345.93" cy="253.98" r="0.45"/><circle cx="360.79" cy="240.58" r="0.45"/><circle cx="320.34" cy="271.34" r="0.45"/><circle cx="368.6" cy="235.05" r="0.45"/><circle cx="356.56" cy="267.3" r="0.45"/><circle cx="351.02" cy="271.58" r="0.45"/><circle cx="364.34" cy="227.07" r="0.45"/><circle cx="367.86" cy="224.45" r="0.45"/><circle cx="355.23" cy="260.06" r="0.45"/><circle cx="345.04" cy="270.7" r="0.45"/><circle cx="360.39" cy="269.22" r="0.45"/><circle cx="337.46" cy="263.02" r="0.45"/><circle cx="363.91" cy="223.82" r="0.45"/><circle cx="368.24" cy="229.81" r="0.45"/><circle cx="366.31" cy="228.63" r="0.45"/><circle cx="346.29" cy="270.07" r="0.45"/><circle cx="364.1" cy="243.43" r="0.45"/><circle cx="357.33" cy="237.2" r="0.45"/><circle cx="360.94" cy="253.54" r="0.45"/><circle cx="364.32" cy="262.9" r="0.45"/><circle cx="361.02" cy="264.42" r="0.45"/><circle cx="362.23" cy="265.44" r="0.45"/><circle cx="351.74" cy="258.52" r="0.45"/><circle cx="364.82" cy="271.44" r="0.45"/><circle cx="366.78" cy="223.33" r="0.45"/><circle cx="363.51" cy="259.62" r="0.45"/><circle cx="360.24" cy="256.43" r="0.45"/><circle cx="364.64" cy="219.76" r="0.45"/><circle cx="366.96" cy="230.51" r="0.45"/><circle cx="364.69" cy="259.31" r="0.45"/><circle cx="355" cy="263.15" r="0.45"/><circle cx="359" cy="258.05" r="0.45"/><circle cx="346.35" cy="254.63" r="0.45"/><circle cx="356.57" cy="264.15" r="0.45"/><circle cx="364.06" cy="244.18" r="0.45"/><circle cx="367.34" cy="231.27" r="0.45"/><circle cx="361.84" cy="230.56" r="0.45"/><circle cx="351.31" cy="254.67" r="0.45"/><circle cx="354.32" cy="266.85" r="0.45"/><circle cx="363.89" cy="250.24" r="0.45"/><circle cx="366.51" cy="224.11" r="0.45"/><circle cx="357.47" cy="267.08" r="0.45"/><circle cx="355.68" cy="252.38" r="0.45"/><circle cx="366.32" cy="250.61" r="0.45"/><circle cx="367.6" cy="218.79" r="0.45"/><circle cx="361.34" cy="232.03" r="0.45"/><circle cx="363.8" cy="265.71" r="0.45"/><circle cx="368.04" cy="235.13" r="0.45"/><circle cx="362.75" cy="240.91" r="0.45"/><circle cx="348.49" cy="270.72" r="0.45"/><circle cx="340.16" cy="268.16" r="0.45"/><circle cx="346.11" cy="269.8" r="0.45"/><circle cx="367.93" cy="271.03" r="0.45"/><circle cx="352.71" cy="264.21" r="0.45"/><circle cx="363.37" cy="264.31" r="0.45"/><circle cx="360.56" cy="258.34" r="0.45"/><circle cx="367.27" cy="269.43" r="0.45"/><circle cx="351.69" cy="260.55" r="0.45"/><circle cx="364.27" cy="231.03" r="0.45"/><circle cx="365.43" cy="271.29" r="0.45"/><circle cx="366.44" cy="218.69" r="0.45"/><circle cx="346.19" cy="270.54" r="0.45"/><circle cx="349.73" cy="254.44" r="0.45"/><circle cx="365.23" cy="227.02" r="0.45"/><circle cx="356.8" cy="256.42" r="0.45"/><circle cx="359.77" cy="240" r="0.45"/><circle cx="368.69" cy="245.99" r="0.45"/><circle cx="365.25" cy="224.26" r="0.45"/><circle cx="366.97" cy="222.94" r="0.45"/><circle cx="355.79" cy="242.4" r="0.45"/><circle cx="361.85" cy="252.69" r="0.45"/><circle cx="366.15" cy="236.2" r="0.45"/><circle cx="360.06" cy="241.31" r="0.45"/><circle cx="352.31" cy="271.51" r="0.45"/><circle cx="365.77" cy="244.47" r="0.45"/><circle cx="366.8" cy="239.32" r="0.45"/><circle cx="341.46" cy="261.73" r="0.45"/><circle cx="366.26" cy="269.38" r="0.45"/><circle cx="363.87" cy="218.25" r="0.45"/><circle cx="362.89" cy="258.49" r="0.45"/><circle cx="363.23" cy="250.76" r="0.45"/><circle cx="362.42" cy="249.4" r="0.45"/><circle cx="359.25" cy="257.71" r="0.45"/><circle cx="367.66" cy="215.44" r="0.45"/><circle cx="363.74" cy="226.88" r="0.45"/><circle cx="364.29" cy="263.02" r="0.45"/><circle cx="361.45" cy="253.95" r="0.45"/><circle cx="365.78" cy="254.45" r="0.45"/><circle cx="349.24" cy="268.18" r="0.45"/><circle cx="365.52" cy="218.06" r="0.45"/><circle cx="365.59" cy="246.92" r="0.45"/><circle cx="358.43" cy="254.22" r="0.45"/><circle cx="366.32" cy="245.22" r="0.45"/><circle cx="366.44" cy="219.29" r="0.45"/><circle cx="361.97" cy="235.97" r="0.45"/><circle cx="364.42" cy="269.04" r="0.45"/><circle cx="366.76" cy="268.23" r="0.45"/><circle cx="361.36" cy="270.09" r="0.45"/><circle cx="358.49" cy="268.71" r="0.45"/><circle cx="368.1" cy="264.24" r="0.45"/><circle cx="366.54" cy="271.1" r="0.45"/><circle cx="365.66" cy="217.54" r="0.45"/><circle cx="366.77" cy="224.38" r="0.45"/><circle cx="357.87" cy="237.62" r="0.45"/><circle cx="357.78" cy="263.06" r="0.45"/><circle cx="365.96" cy="254.65" r="0.45"/><circle cx="365.92" cy="262.05" r="0.45"/><circle cx="359.42" cy="270.22" r="0.45"/><circle cx="354.08" cy="265.24" r="0.45"/><circle cx="364.45" cy="250.6" r="0.45"/><circle cx="359.17" cy="256.08" r="0.45"/><circle cx="360.1" cy="214.37" r="0.45"/><circle cx="369.5" cy="217.65" r="0.45"/><circle cx="363.56" cy="243.46" r="0.45"/><circle cx="362.67" cy="240.95" r="0.45"/><circle cx="359.51" cy="270.38" r="0.45"/><circle cx="359.39" cy="263.92" r="0.45"/><circle cx="365.83" cy="253.14" r="0.45"/><circle cx="362.03" cy="240.02" r="0.45"/><circle cx="366.35" cy="240.82" r="0.45"/><circle cx="351.08" cy="266.77" r="0.45"/><circle cx="355.64" cy="255.36" r="0.45"/><circle cx="363.29" cy="234.11" r="0.45"/><circle cx="361.69" cy="246.34" r="0.45"/><circle cx="363.04" cy="217.12" r="0.45"/><circle cx="364.05" cy="213.36" r="0.45"/><circle cx="364.45" cy="264.73" r="0.45"/><circle cx="362.83" cy="218.05" r="0.45"/><circle cx="362.12" cy="263.53" r="0.45"/><circle cx="351.54" cy="261.39" r="0.45"/><circle cx="362.97" cy="226.05" r="0.45"/><circle cx="356.45" cy="267.55" r="0.45"/><circle cx="364.04" cy="265.94" r="0.45"/><circle cx="364.13" cy="268.11" r="0.45"/><circle cx="366.23" cy="225.63" r="0.45"/><circle cx="367.08" cy="261.88" r="0.45"/><circle cx="351.01" cy="271.62" r="0.45"/><circle cx="354.82" cy="271.62" r="0.45"/><circle cx="354.1" cy="271.7" r="0.45"/><circle cx="360.52" cy="264.19" r="0.45"/><circle cx="360.61" cy="236.42" r="0.45"/><circle cx="361.06" cy="264.49" r="0.45"/><circle cx="339.8" cy="258.3" r="0.45"/><circle cx="365.18" cy="269.1" r="0.45"/><circle cx="362.4" cy="236.33" r="0.45"/><circle cx="364.77" cy="247.65" r="0.45"/><circle cx="367.74" cy="248.3" r="0.45"/><circle cx="360.34" cy="266.76" r="0.45"/><circle cx="361.92" cy="231.12" r="0.45"/><circle cx="364.77" cy="219.47" r="0.45"/><circle cx="354.72" cy="260.71" r="0.45"/><circle cx="355.02" cy="269.77" r="0.45"/><circle cx="363.82" cy="218.67" r="0.45"/><circle cx="365.75" cy="218.16" r="0.45"/><circle cx="365.85" cy="253.19" r="0.45"/><circle cx="342.18" cy="269.55" r="0.45"/><circle cx="351.76" cy="264.4" r="0.45"/><circle cx="354.99" cy="269.01" r="0.45"/><circle cx="321.22" cy="260.29" r="0.45"/><circle cx="361.46" cy="254.15" r="0.45"/><circle cx="357.01" cy="267.44" r="0.45"/><circle cx="364.24" cy="270.46" r="0.45"/><circle cx="346.05" cy="252.03" r="0.45"/><circle cx="353.21" cy="256" r="0.45"/><circle cx="367.96" cy="245.21" r="0.45"/><circle cx="356.44" cy="251.37" r="0.45"/><circle cx="362.71" cy="250.5" r="0.45"/><circle cx="367.98" cy="213.01" r="0.45"/><circle cx="362.43" cy="271.62" r="0.45"/><circle cx="356.2" cy="255.48" r="0.45"/><circle cx="364.59" cy="215.67" r="0.45"/><circle cx="359.06" cy="245.61" r="0.45"/><circle cx="363.07" cy="263.8" r="0.45"/><circle cx="360.61" cy="248.14" r="0.45"/><circle cx="352.38" cy="256.53" r="0.45"/><circle cx="365.4" cy="229.45" r="0.45"/><circle cx="348.15" cy="244.34" r="0.45"/><circle cx="358.19" cy="232.72" r="0.45"/><circle cx="367.58" cy="239.7" r="0.45"/><circle cx="364.61" cy="227.4" r="0.45"/><circle cx="362.87" cy="245.84" r="0.45"/><circle cx="363.42" cy="232.51" r="0.45"/><circle cx="355.74" cy="248.09" r="0.45"/><circle cx="358.24" cy="220.19" r="0.45"/><circle cx="344.84" cy="271.41" r="0.45"/><circle cx="359.39" cy="235.14" r="0.45"/><circle cx="357.41" cy="252.2" r="0.45"/><circle cx="366.47" cy="236.78" r="0.45"/><circle cx="363.63" cy="261" r="0.45"/><circle cx="361.43" cy="230.25" r="0.45"/><circle cx="368.35" cy="229.46" r="0.45"/><circle cx="360.55" cy="265.34" r="0.45"/><circle cx="363.96" cy="243.89" r="0.45"/><circle cx="363.55" cy="216.68" r="0.45"/><circle cx="351.94" cy="264.45" r="0.45"/><circle cx="363.98" cy="259.69" r="0.45"/><circle cx="361.49" cy="247.07" r="0.45"/><circle cx="366.04" cy="271.55" r="0.45"/><circle cx="367" cy="218.24" r="0.45"/><circle cx="338.87" cy="256.93" r="0.45"/><circle cx="362.96" cy="270.74" r="0.45"/><circle cx="360.22" cy="268.81" r="0.45"/><circle cx="357.71" cy="245.61" r="0.45"/><circle cx="357.37" cy="250.38" r="0.45"/><circle cx="368.31" cy="227.83" r="0.45"/><circle cx="367.53" cy="228.66" r="0.45"/><circle cx="366.33" cy="224.04" r="0.45"/><circle cx="364.8" cy="232.11" r="0.45"/><circle cx="364.01" cy="226.88" r="0.45"/><circle cx="364.11" cy="226.77" r="0.45"/><circle cx="360.27" cy="238.36" r="0.45"/><circle cx="367.3" cy="246.52" r="0.45"/><circle cx="356.84" cy="248.11" r="0.45"/><circle cx="369.13" cy="222.23" r="0.45"/><circle cx="360.5" cy="239.11" r="0.45"/><circle cx="367.23" cy="232.12" r="0.45"/><circle cx="363.88" cy="262.87" r="0.45"/><circle cx="366.94" cy="228.26" r="0.45"/><circle cx="361.08" cy="259.54" r="0.45"/><circle cx="366.83" cy="270.53" r="0.45"/><circle cx="363.48" cy="239.5" r="0.45"/><circle cx="361.63" cy="239.81" r="0.45"/><circle cx="357.36" cy="253.91" r="0.45"/><circle cx="359.63" cy="264.67" r="0.45"/><circle cx="360.11" cy="230.71" r="0.45"/><circle cx="357.1" cy="269.02" r="0.45"/><circle cx="365.96" cy="262.86" r="0.45"/><circle cx="364.11" cy="260.75" r="0.45"/><circle cx="360.4" cy="241.6" r="0.45"/><circle cx="364.34" cy="219.5" r="0.45"/><circle cx="362.3" cy="246.52" r="0.45"/><circle cx="353.76" cy="263.94" r="0.45"/><circle cx="365.67" cy="231.95" r="0.45"/><circle cx="365.57" cy="213.53" r="0.45"/><circle cx="363.96" cy="226.32" r="0.45"/><circle cx="346.95" cy="269.14" r="0.45"/><circle cx="365.43" cy="219.36" r="0.45"/><circle cx="366.18" cy="249.9" r="0.45"/><circle cx="345.47" cy="252.8" r="0.45"/><circle cx="361.33" cy="219.1" r="0.45"/><circle cx="344.64" cy="268.64" r="0.45"/><circle cx="360.94" cy="223.62" r="0.45"/><circle cx="345.63" cy="271.47" r="0.45"/><circle cx="362.43" cy="258.19" r="0.45"/><circle cx="362.5" cy="233.19" r="0.45"/><circle cx="357.32" cy="266.56" r="0.45"/><circle cx="354.64" cy="270.13" r="0.45"/><circle cx="353.47" cy="258.14" r="0.45"/><circle cx="362.93" cy="222.14" r="0.45"/><circle cx="363.84" cy="258.66" r="0.45"/><circle cx="357.37" cy="249.65" r="0.45"/><circle cx="366.36" cy="214.25" r="0.45"/><circle cx="356.33" cy="255.75" r="0.45"/><circle cx="358.56" cy="244.9" r="0.45"/><circle cx="361.48" cy="264.32" r="0.45"/><circle cx="352.45" cy="254.11" r="0.45"/><circle cx="358.6" cy="266.14" r="0.45"/><circle cx="359.18" cy="259.7" r="0.45"/><circle cx="362.98" cy="264.92" r="0.45"/><circle cx="364.65" cy="248.45" r="0.45"/><circle cx="351.94" cy="270.7" r="0.45"/><circle cx="345.31" cy="257.86" r="0.45"/><circle cx="351.12" cy="261.91" r="0.45"/><circle cx="367.51" cy="240.47" r="0.45"/><circle cx="350.77" cy="251.64" r="0.45"/><circle cx="367.25" cy="242.51" r="0.45"/><circle cx="364.24" cy="265.07" r="0.45"/><circle cx="361.85" cy="228.24" r="0.45"/><circle cx="359.52" cy="259.61" r="0.45"/><circle cx="361.3" cy="240.49" r="0.45"/><circle cx="342.57" cy="266.79" r="0.45"/><circle cx="364.2" cy="248.78" r="0.45"/><circle cx="366.52" cy="260.29" r="0.45"/><circle cx="332.6" cy="271.61" r="0.45"/><circle cx="365.74" cy="230.85" r="0.45"/><circle cx="362.72" cy="265.09" r="0.45"/><circle cx="363.43" cy="235.42" r="0.45"/><circle cx="353.98" cy="246.11" r="0.45"/><circle cx="365.64" cy="257.96" r="0.45"/><circle cx="363.88" cy="223.22" r="0.45"/><circle cx="365.07" cy="257.43" r="0.45"/><circle cx="361.61" cy="266.09" r="0.45"/><circle cx="366.12" cy="232.94" r="0.45"/><circle cx="367.74" cy="231.74" r="0.45"/><circle cx="367.69" cy="271.7" r="0.45"/><circle cx="362.99" cy="232.29" r="0.45"/><circle cx="364.94" cy="234.69" r="0.45"/><circle cx="353.6" cy="248.6" r="0.45"/><circle cx="362.85" cy="266.51" r="0.45"/><circle cx="352.09" cy="269.95" r="0.45"/><circle cx="362.61" cy="245.8" r="0.45"/><circle cx="366.74" cy="269.35" r="0.45"/><circle cx="368.71" cy="269.93" r="0.45"/><circle cx="338.68" cy="263.42" r="0.45"/><circle cx="365.63" cy="262.8" r="0.45"/><circle cx="369.74" cy="246.9" r="0.45"/><circle cx="365.53" cy="216.51" r="0.45"/><circle cx="363.89" cy="260.97" r="0.45"/><circle cx="362.4" cy="221.48" r="0.45"/><circle cx="336.68" cy="261.57" r="0.45"/><circle cx="366.29" cy="263.32" r="0.45"/><circle cx="361.88" cy="258.57" r="0.45"/><circle cx="351.87" cy="264.32" r="0.45"/><circle cx="342.3" cy="261.76" r="0.45"/><circle cx="362.63" cy="235.35" r="0.45"/><circle cx="362.25" cy="230.17" r="0.45"/><circle cx="349.81" cy="260.54" r="0.45"/><circle cx="354.06" cy="243.71" r="0.45"/><circle cx="363.28" cy="222.41" r="0.45"/><circle cx="337.63" cy="264.84" r="0.45"/><circle cx="347.28" cy="259.45" r="0.45"/><circle cx="354.29" cy="266.72" r="0.45"/><circle cx="367.96" cy="214.24" r="0.45"/><circle cx="366.68" cy="271.21" r="0.45"/><circle cx="356.77" cy="268.31" r="0.45"/><circle cx="363.36" cy="229.9" r="0.45"/><circle cx="366.44" cy="224.56" r="0.45"/><circle cx="356.7" cy="232.23" r="0.45"/><circle cx="341.22" cy="260.11" r="0.45"/><circle cx="338.53" cy="259.8" r="0.45"/><circle cx="328.89" cy="266.41" r="0.45"/><circle cx="347.93" cy="269.33" r="0.45"/><circle cx="365.23" cy="233.43" r="0.45"/><circle cx="365.55" cy="216.34" r="0.45"/><circle cx="365.57" cy="235.41" r="0.45"/><circle cx="367.13" cy="256.18" r="0.45"/><circle cx="365.55" cy="218.49" r="0.45"/><circle cx="362.98" cy="252.59" r="0.45"/><circle cx="356.88" cy="247.95" r="0.45"/><circle cx="348.66" cy="270.39" r="0.45"/><circle cx="338.12" cy="255.35" r="0.45"/><circle cx="365.3" cy="216.49" r="0.45"/><circle cx="366.57" cy="235.09" r="0.45"/><circle cx="364.86" cy="219.31" r="0.45"/><circle cx="367.63" cy="228.31" r="0.45"/><circle cx="367.75" cy="219.35" r="0.45"/><circle cx="338.63" cy="268.72" r="0.45"/><circle cx="348.35" cy="266.03" r="0.45"/><circle cx="364" cy="239.72" r="0.45"/><circle cx="366.52" cy="256.02" r="0.45"/><circle cx="329.01" cy="255.69" r="0.45"/><circle cx="333.75" cy="269.71" r="0.45"/><circle cx="359.68" cy="234.77" r="0.45"/><circle cx="361.6" cy="251.28" r="0.45"/><circle cx="365.16" cy="250.07" r="0.45"/><circle cx="365.76" cy="223.32" r="0.45"/><circle cx="345.75" cy="264.8" r="0.45"/><circle cx="358.35" cy="246.32" r="0.45"/><circle cx="360.37" cy="250.05" r="0.45"/><circle cx="360.68" cy="271.57" r="0.45"/><circle cx="363.56" cy="269.12" r="0.45"/><circle cx="362.35" cy="219.57" r="0.45"/><circle cx="364.16" cy="237.33" r="0.45"/><circle cx="365.39" cy="261.93" r="0.45"/><circle cx="353.11" cy="247.32" r="0.45"/><circle cx="351.59" cy="267.65" r="0.45"/><circle cx="365.29" cy="229.12" r="0.45"/><circle cx="348.09" cy="266.02" r="0.45"/><circle cx="360.3" cy="233.73" r="0.45"/><circle cx="345.41" cy="249.83" r="0.45"/><circle cx="360.78" cy="240.9" r="0.45"/><circle cx="365.34" cy="251.22" r="0.45"/><circle cx="351.55" cy="268.97" r="0.45"/><circle cx="356.58" cy="254.93" r="0.45"/><circle cx="356.94" cy="257.27" r="0.45"/><circle cx="367.28" cy="215.17" r="0.45"/><circle cx="363.31" cy="235.54" r="0.45"/><circle cx="363.96" cy="244.84" r="0.45"/><circle cx="334.19" cy="271.59" r="0.45"/><circle cx="354.79" cy="262.68" r="0.45"/><circle cx="338.54" cy="270.87" r="0.45"/><circle cx="368.61" cy="264.72" r="0.45"/><circle cx="363.44" cy="229.74" r="0.45"/><circle cx="355.7" cy="265.04" r="0.45"/><circle cx="365.09" cy="224.81" r="0.45"/><circle cx="365.69" cy="214" r="0.45"/><circle cx="341.95" cy="268.44" r="0.45"/><circle cx="355.97" cy="270.64" r="0.45"/><circle cx="345.83" cy="252.48" r="0.45"/><circle cx="359.88" cy="243.13" r="0.45"/><circle cx="370.18" cy="255.59" r="0.45"/><circle cx="365.18" cy="234.88" r="0.45"/><circle cx="356.03" cy="259.87" r="0.45"/><circle cx="363.91" cy="254.5" r="0.45"/><circle cx="363.25" cy="235.65" r="0.45"/><circle cx="367.45" cy="216.91" r="0.45"/><circle cx="347.22" cy="269.52" r="0.45"/><circle cx="366.69" cy="241.62" r="0.45"/><circle cx="357.13" cy="269.12" r="0.45"/><circle cx="342.69" cy="261.71" r="0.45"/><circle cx="368.7" cy="249.88" r="0.45"/><circle cx="365.03" cy="263.16" r="0.45"/><circle cx="337.22" cy="263.79" r="0.45"/><circle cx="364.87" cy="267.73" r="0.45"/><circle cx="360.46" cy="265.87" r="0.45"/><circle cx="363.55" cy="232.64" r="0.45"/><circle cx="360.77" cy="256.97" r="0.45"/><circle cx="358.99" cy="255.32" r="0.45"/><circle cx="363.97" cy="214.65" r="0.45"/><circle cx="367.19" cy="257.81" r="0.45"/><circle cx="365.93" cy="222.55" r="0.45"/><circle cx="359.76" cy="253.25" r="0.45"/><circle cx="355.84" cy="267.3" r="0.45"/><circle cx="352.55" cy="248.07" r="0.45"/><circle cx="359.5" cy="254.88" r="0.45"/><circle cx="357" cy="265.96" r="0.45"/><circle cx="368.39" cy="260.68" r="0.45"/><circle cx="354.05" cy="262.95" r="0.45"/><circle cx="362.11" cy="230.39" r="0.45"/><circle cx="366.11" cy="240.5" r="0.45"/><circle cx="367.9" cy="267.77" r="0.45"/><circle cx="363.22" cy="227.73" r="0.45"/><circle cx="340.98" cy="264.67" r="0.45"/><circle cx="330.8" cy="259.94" r="0.45"/><circle cx="362.54" cy="264.05" r="0.45"/><circle cx="360.17" cy="240.56" r="0.45"/><circle cx="360.05" cy="262.15" r="0.45"/><circle cx="361.22" cy="229.03" r="0.45"/><circle cx="367.39" cy="238.49" r="0.45"/><circle cx="362.06" cy="270.19" r="0.45"/><circle cx="365.1" cy="243.43" r="0.45"/><circle cx="359" cy="254.71" r="0.45"/><circle cx="348.99" cy="267.76" r="0.45"/><circle cx="360.8" cy="250.17" r="0.45"/><circle cx="362.17" cy="269.52" r="0.45"/><circle cx="354.97" cy="249.97" r="0.45"/><circle cx="361.65" cy="235.13" r="0.45"/><circle cx="365.54" cy="271.19" r="0.45"/><circle cx="356.65" cy="261.12" r="0.45"/><circle cx="365.54" cy="230.91" r="0.45"/><circle cx="366.33" cy="225.38" r="0.45"/><circle cx="364.5" cy="238.15" r="0.45"/><circle cx="358.41" cy="268.09" r="0.45"/><circle cx="359.42" cy="268.81" r="0.45"/><circle cx="351.68" cy="269.03" r="0.45"/><circle cx="354.97" cy="247.5" r="0.45"/><circle cx="349.58" cy="270.16" r="0.45"/><circle cx="361.52" cy="224.29" r="0.45"/><circle cx="363.03" cy="248.56" r="0.45"/><circle cx="367.77" cy="269.32" r="0.45"/><circle cx="367.18" cy="223.4" r="0.45"/><circle cx="356.49" cy="248.4" r="0.45"/><circle cx="362.52" cy="229.83" r="0.45"/><circle cx="354.26" cy="261.15" r="0.45"/><circle cx="364.27" cy="237.65" r="0.45"/><circle cx="356.87" cy="268.15" r="0.45"/><circle cx="366.44" cy="228.52" r="0.45"/><circle cx="364.43" cy="250.01" r="0.45"/><circle cx="361.53" cy="259.31" r="0.45"/><circle cx="365.7" cy="224.52" r="0.45"/><circle cx="365.81" cy="258.82" r="0.45"/><circle cx="367.36" cy="229.41" r="0.45"/><circle cx="362.84" cy="266.62" r="0.45"/><circle cx="362" cy="228.69" r="0.45"/><circle cx="357.97" cy="248.32" r="0.45"/><circle cx="359.81" cy="270.11" r="0.45"/><circle cx="354.24" cy="268.65" r="0.45"/><circle cx="361.45" cy="228.95" r="0.45"/><circle cx="353.92" cy="271.01" r="0.45"/><circle cx="365.38" cy="231.14" r="0.45"/><circle cx="365.41" cy="231.81" r="0.45"/><circle cx="366.25" cy="221.26" r="0.45"/><circle cx="365.67" cy="252.15" r="0.45"/><circle cx="364.9" cy="230.85" r="0.45"/><circle cx="357.73" cy="234.76" r="0.45"/><circle cx="351.29" cy="258.75" r="0.45"/><circle cx="347.4" cy="253.85" r="0.45"/><circle cx="366.32" cy="248.99" r="0.45"/><circle cx="365.39" cy="221.56" r="0.45"/><circle cx="366.46" cy="225.47" r="0.45"/><circle cx="363.91" cy="236.11" r="0.45"/><circle cx="366.82" cy="213.22" r="0.45"/><circle cx="347.76" cy="269.15" r="0.45"/><circle cx="367.72" cy="260.92" r="0.45"/><circle cx="336.87" cy="270.41" r="0.45"/><circle cx="360.45" cy="247.06" r="0.45"/><circle cx="357.39" cy="244.09" r="0.45"/><circle cx="364.65" cy="216.54" r="0.45"/><circle cx="356.23" cy="270.48" r="0.45"/><circle cx="323.37" cy="269.06" r="0.45"/><circle cx="364.69" cy="226.73" r="0.45"/><circle cx="354.84" cy="265.54" r="0.45"/><circle cx="351.89" cy="270.91" r="0.45"/><circle cx="358.47" cy="239.07" r="0.45"/><circle cx="363.53" cy="262.01" r="0.45"/><circle cx="361.24" cy="236.08" r="0.45"/><circle cx="351.58" cy="262.68" r="0.45"/><circle cx="363.54" cy="243.16" r="0.45"/><circle cx="362.24" cy="223.08" r="0.45"/><circle cx="364.52" cy="251.56" r="0.45"/><circle cx="364.8" cy="234.32" r="0.45"/><circle cx="357.81" cy="271.67" r="0.45"/><circle cx="356.78" cy="244.44" r="0.45"/><circle cx="356.46" cy="260.1" r="0.45"/><circle cx="353.25" cy="261.75" r="0.45"/><circle cx="365.71" cy="245" r="0.45"/><circle cx="361.16" cy="248.1" r="0.45"/><circle cx="366.3" cy="218.22" r="0.45"/><circle cx="361.7" cy="212.81" r="0.45"/><circle cx="330.73" cy="264.17" r="0.45"/><circle cx="353.55" cy="263.71" r="0.45"/><circle cx="346.9" cy="245.8" r="0.45"/><circle cx="369.48" cy="223.24" r="0.45"/><circle cx="329.81" cy="271.55" r="0.45"/><circle cx="354.85" cy="264.12" r="0.45"/><circle cx="359.83" cy="264.91" r="0.45"/><circle cx="361.16" cy="269.97" r="0.45"/><circle cx="366.02" cy="237.4" r="0.45"/><circle cx="334.62" cy="270.41" r="0.45"/><circle cx="356.14" cy="253.36" r="0.45"/><circle cx="365.28" cy="219.09" r="0.45"/><circle cx="351.11" cy="249.67" r="0.45"/><circle cx="362.62" cy="239.36" r="0.45"/><circle cx="363.3" cy="247.05" r="0.45"/><circle cx="363.53" cy="224.74" r="0.45"/><circle cx="357.57" cy="245.98" r="0.45"/><circle cx="363.82" cy="254.52" r="0.45"/><circle cx="366.96" cy="244.87" r="0.45"/><circle cx="364.67" cy="270.04" r="0.45"/><circle cx="354.32" cy="264.08" r="0.45"/><circle cx="367.46" cy="222.86" r="0.45"/><circle cx="362.84" cy="233.05" r="0.45"/><circle cx="355.28" cy="271.55" r="0.45"/><circle cx="361.59" cy="245.1" r="0.45"/><circle cx="363.97" cy="270.49" r="0.45"/><circle cx="324.97" cy="265.49" r="0.45"/><circle cx="362.26" cy="260.8" r="0.45"/><circle cx="346.78" cy="267.84" r="0.45"/><circle cx="364.16" cy="260.82" r="0.45"/><circle cx="352.74" cy="269.79" r="0.45"/><circle cx="365.23" cy="219.79" r="0.45"/><circle cx="365.51" cy="239.36" r="0.45"/><circle cx="365.67" cy="243.46" r="0.45"/><circle cx="360.03" cy="252.54" r="0.45"/><circle cx="363.44" cy="255.45" r="0.45"/><circle cx="340.96" cy="247.65" r="0.45"/><circle cx="365.15" cy="247.19" r="0.45"/><circle cx="366.18" cy="242.16" r="0.45"/><circle cx="361.12" cy="237.86" r="0.45"/><circle cx="364.88" cy="218.03" r="0.45"/><circle cx="367.68" cy="224.1" r="0.45"/><circle cx="366.23" cy="214.1" r="0.45"/><circle cx="365.31" cy="252.29" r="0.45"/><circle cx="367.37" cy="218.8" r="0.45"/><circle cx="348.76" cy="270.58" r="0.45"/><circle cx="341" cy="271.44" r="0.45"/><circle cx="355.97" cy="266.33" r="0.45"/><circle cx="366.81" cy="216.21" r="0.45"/><circle cx="368.23" cy="248.17" r="0.45"/><circle cx="368.51" cy="271.68" r="0.45"/><circle cx="366.65" cy="222.82" r="0.45"/><circle cx="345.43" cy="262.05" r="0.45"/><circle cx="363.06" cy="269.57" r="0.45"/><circle cx="358.73" cy="249.31" r="0.45"/><circle cx="362.06" cy="213.54" r="0.45"/><circle cx="365.93" cy="234.47" r="0.45"/><circle cx="352.31" cy="271.31" r="0.45"/><circle cx="366.06" cy="242.15" r="0.45"/><circle cx="366.94" cy="219.56" r="0.45"/><circle cx="364.84" cy="259.98" r="0.45"/><circle cx="362.97" cy="214.63" r="0.45"/><circle cx="359.81" cy="271.68" r="0.45"/><circle cx="361.86" cy="235.22" r="0.45"/><circle cx="367.1" cy="230.14" r="0.45"/><circle cx="346.91" cy="270.03" r="0.45"/><circle cx="367.93" cy="249.82" r="0.45"/><circle cx="367.07" cy="269.24" r="0.45"/><circle cx="365.37" cy="214.21" r="0.45"/><circle cx="354.66" cy="229.36" r="0.45"/><circle cx="355.08" cy="231.49" r="0.45"/><circle cx="366.59" cy="270.31" r="0.45"/><circle cx="347.4" cy="260.79" r="0.45"/><circle cx="358.86" cy="270.83" r="0.45"/><circle cx="364.28" cy="212.93" r="0.45"/><circle cx="365.44" cy="249.57" r="0.45"/><circle cx="364.96" cy="256.02" r="0.45"/><circle cx="367.53" cy="222.35" r="0.45"/><circle cx="361.93" cy="234.36" r="0.45"/><circle cx="364.15" cy="246.51" r="0.45"/><circle cx="364.49" cy="261.45" r="0.45"/><circle cx="364.9" cy="235.89" r="0.45"/><circle cx="359.91" cy="266.19" r="0.45"/><circle cx="367.6" cy="242.95" r="0.45"/><circle cx="367.32" cy="257.07" r="0.45"/><circle cx="360.22" cy="224.25" r="0.45"/><circle cx="367.12" cy="267.49" r="0.45"/><circle cx="361.48" cy="270.85" r="0.45"/><circle cx="354.64" cy="251.97" r="0.45"/><circle cx="355.13" cy="241.67" r="0.45"/><circle cx="330.06" cy="258.62" r="0.45"/><circle cx="366.39" cy="230.08" r="0.45"/><circle cx="362.29" cy="265.52" r="0.45"/><circle cx="365.42" cy="271.53" r="0.45"/><circle cx="360.29" cy="263.93" r="0.45"/><circle cx="367.51" cy="271.69" r="0.45"/><circle cx="356.54" cy="260.81" r="0.45"/><circle cx="340.87" cy="260.82" r="0.45"/><circle cx="367.09" cy="234.28" r="0.45"/><circle cx="352.4" cy="265.05" r="0.45"/><circle cx="350.44" cy="266.21" r="0.45"/><circle cx="344.68" cy="269.18" r="0.45"/><circle cx="358.56" cy="269.33" r="0.45"/><circle cx="359.81" cy="239.09" r="0.45"/><circle cx="365.44" cy="257.99" r="0.45"/><circle cx="360.19" cy="226.48" r="0.45"/><circle cx="365.4" cy="270.46" r="0.45"/><circle cx="361.38" cy="259.68" r="0.45"/><circle cx="364.52" cy="227.97" r="0.45"/><circle cx="368.86" cy="218.27" r="0.45"/><circle cx="367.99" cy="239.1" r="0.45"/><circle cx="363.44" cy="269.83" r="0.45"/><circle cx="364.8" cy="268.74" r="0.45"/><circle cx="352.63" cy="241.69" r="0.45"/><circle cx="367.33" cy="233.19" r="0.45"/></g>
<ellipse cx="358" cy="247" rx="5" ry="17" transform="rotate(28 358 247)" fill="#3a50c8" opacity="0.45" filter="url(#bl1)" clip-path="url(#cg2)"/>
<ellipse cx="354" cy="252" rx="15" ry="6" transform="rotate(-60 354 252)" fill="#3a50c8" opacity="0.35" filter="url(#bl1)" clip-path="url(#cg2)"/>
<ellipse cx="352.5" cy="264" rx="15" ry="7.5" transform="rotate(-25 352.5 264)" fill="#3452d0" opacity="0.65" filter="url(#bl1)" clip-path="url(#cg2)"/>
<ellipse cx="352.5" cy="265" rx="11.5" ry="5" transform="rotate(-25 352.5 265)" fill="#2ea4e0" opacity="0.8" filter="url(#bl1)" clip-path="url(#cg2)"/>
<ellipse cx="352.5" cy="265.5" rx="8.5" ry="3.6" transform="rotate(-25 352.5 265.5)" fill="#58c040" opacity="0.9" filter="url(#bl05)" clip-path="url(#cg2)"/>
<ellipse cx="352.5" cy="265.8" rx="5.5" ry="2.4" transform="rotate(-25 352.5 265.8)" fill="#e8d020" opacity="0.95" filter="url(#bl05)" clip-path="url(#cg2)"/>
<ellipse cx="352.3" cy="265.9" rx="3" ry="1.4" transform="rotate(-25 352.3 265.9)" fill="#e03018" opacity="0.95" filter="url(#bl05)" clip-path="url(#cg2)"/>
<rect x="318.5" y="212.5" width="59" height="60" fill="none" stroke="#666" stroke-width="1"/>
<line x1="367.7" y1="212.2" x2="367.7" y2="272.2" stroke="#3a3a3a" stroke-width="1.3"/>
<line x1="315.4" y1="215.7" x2="316.9" y2="215.7" stroke="#444" stroke-width="0.7"/>
<line x1="315.4" y1="228.95" x2="316.9" y2="228.95" stroke="#444" stroke-width="0.7"/>
<line x1="315.4" y1="242.2" x2="316.9" y2="242.2" stroke="#444" stroke-width="0.7"/>
<line x1="315.4" y1="255.45" x2="316.9" y2="255.45" stroke="#444" stroke-width="0.7"/>
<line x1="315.4" y1="268.7" x2="316.9" y2="268.7" stroke="#444" stroke-width="0.7"/>
<line x1="323.9" y1="272.7" x2="323.9" y2="274.2" stroke="#555" stroke-width="0.7"/>
<line x1="334.02" y1="272.7" x2="334.02" y2="274.2" stroke="#555" stroke-width="0.7"/>
<line x1="344.14" y1="272.7" x2="344.14" y2="274.2" stroke="#555" stroke-width="0.7"/>
<line x1="354.26" y1="272.7" x2="354.26" y2="274.2" stroke="#555" stroke-width="0.7"/>
<line x1="364.38" y1="272.7" x2="364.38" y2="274.2" stroke="#555" stroke-width="0.7"/>
<line x1="374.5" y1="272.7" x2="374.5" y2="274.2" stroke="#555" stroke-width="0.7"/>
<text transform="translate(341.8 239.7)" font-size="2.6" text-anchor="middle" fill="#666" stroke="#666" stroke-width="0.18">APC neg</text>
<text transform="translate(341.8 242.7)" font-size="2.6" text-anchor="middle" fill="#666" stroke="#666" stroke-width="0.18">99.1</text>
<text transform="translate(373.1 239.7)" font-size="2.2" text-anchor="middle" fill="#666" stroke="#666" stroke-width="0.18">APC pos</text>
<text transform="translate(373.1 242.7)" font-size="2.2" text-anchor="middle" fill="#666" stroke="#666" stroke-width="0.18">0.9</text>
<text transform="translate(322.18 228.65)" font-size="9.41" fill="#222" stroke="#222" stroke-width="0.18">2.88±3.05%</text>
<text transform="translate(411.35 197.97)" font-size="7.56" fill="#333" stroke="#333" stroke-width="0.18">Human tumors</text>
<line x1="414.4" y1="210.1" x2="414.4" y2="266.5" stroke="#333" stroke-width="1.2"/>
<line x1="411.9" y1="210.1" x2="414.4" y2="210.1" stroke="#333" stroke-width="1.08"/>
<text transform="translate(407.48 211.88)" font-size="6.9" fill="#333" stroke="#333" stroke-width="0.18">8</text>
<line x1="411.9" y1="221.4" x2="414.4" y2="221.4" stroke="#333" stroke-width="1.08"/>
<text transform="translate(407.48 223.18)" font-size="6.9" fill="#333" stroke="#333" stroke-width="0.18">6</text>
<line x1="411.9" y1="232.7" x2="414.4" y2="232.7" stroke="#333" stroke-width="1.08"/>
<text transform="translate(407.34 234.48)" font-size="6.9" fill="#333" stroke="#333" stroke-width="0.18">4</text>
<line x1="411.9" y1="244" x2="414.4" y2="244" stroke="#333" stroke-width="1.08"/>
<text transform="translate(407.48 245.81)" font-size="6.9" fill="#333" stroke="#333" stroke-width="0.18">2</text>
<line x1="411.9" y1="255.3" x2="414.4" y2="255.3" stroke="#333" stroke-width="1.08"/>
<text transform="translate(407.41 257.08)" font-size="6.9" fill="#333" stroke="#333" stroke-width="0.18">0</text>
<line x1="411.9" y1="266.5" x2="414.4" y2="266.5" stroke="#333" stroke-width="1.08"/>
<text transform="translate(405.2 268.31)" font-size="6.9" fill="#333" stroke="#333" stroke-width="0.18">-2</text>
<line x1="414.4" y1="266.5" x2="470.5" y2="266.5" stroke="#333" stroke-width="1.2"/>
<line x1="443.1" y1="266.3" x2="443.1" y2="268.3" stroke="#333" stroke-width="0.9"/>
<text transform="translate(401.5 262.5) rotate(-90)" font-size="7.6" fill="#333" stroke="#333" stroke-width="0.18">% of <tspan font-size="9.6">FZD7 (<tspan font-size="5.5" dy="-3">+</tspan><tspan dy="3">)</tspan></tspan></text>
<text transform="translate(416.55 278.47)" font-size="7.56" fill="#333" stroke="#333" stroke-width="0.18">Human tumors</text>
<line x1="443.1" y1="221.3" x2="443.1" y2="256.3" stroke="#555" stroke-width="0.9"/>
<line x1="433" y1="221.3" x2="452.6" y2="221.3" stroke="#555" stroke-width="1.2"/>
<line x1="433" y1="256.3" x2="452.6" y2="256.3" stroke="#555" stroke-width="1.2"/>
<line x1="424.6" y1="239" x2="462.3" y2="239" stroke="#999" stroke-width="1.2"/>
<circle cx="443.1" cy="219.5" r="1.1" fill="#222"/>
<circle cx="443.1" cy="244" r="1.1" fill="#222"/>
<circle cx="443.1" cy="253.5" r="1.1" fill="#222"/>
<text transform="translate(19.11 294.35) scale(1.11 1)" font-size="15.22" font-weight="bold" fill="#0a0a0a">H</text>
<line x1="22.5" y1="426.9" x2="22.5" y2="327" stroke="#333" stroke-width="1.2"/>
<polyline points="19.7,330.8 22.5,325.6 25.3,330.8" stroke="#333" stroke-width="1.2" fill="none"/>
<line x1="22.5" y1="426.9" x2="368.5" y2="426.9" stroke="#333" stroke-width="1.2"/>
<polyline points="364.5,424.1 369.6,426.9 364.5,429.7" stroke="#333" stroke-width="1.2" fill="none"/>
<text transform="translate(17.79 391.12) rotate(-90) scale(0.95 1)" font-size="9.84" fill="#333" stroke="#333" stroke-width="0.19">SSC-A</text>
<text transform="translate(171.55 440.21) scale(0.95 1)" font-size="9.3" fill="#333" stroke="#333" stroke-width="0.19">APC</text>
<text transform="translate(34.55 344.8) scale(0.95 1)" font-size="8.99" fill="#333" stroke="#333" stroke-width="0.19">WT</text>
<text transform="translate(31.1 397.05) scale(0.95 1)" font-size="9.43" fill="#333" stroke="#333" stroke-width="0.19">CDDP</text>
<text transform="translate(92.19 304.17) scale(0.95 1)" font-size="9.75" fill="#333" stroke="#333" stroke-width="0.19">SKOV3</text>
<text transform="translate(194.08 303.8) scale(0.95 1)" font-size="9.85" fill="#333" stroke="#333" stroke-width="0.19">OVCAR5</text>
<line x1="77.7" y1="306.9" x2="140" y2="306.9" stroke="#8fb0d0" stroke-width="1.1"/>
<line x1="182.8" y1="306.9" x2="245.5" y2="306.9" stroke="#8fb0d0" stroke-width="1.1"/>
<line x1="284.5" y1="306.9" x2="346" y2="306.9" stroke="#8fb0d0" stroke-width="1.1"/>
<text transform="translate(71.47 322.29) scale(0.95 1)" font-size="9.77" fill="#333" stroke="#333" stroke-width="0.19">IgG</text>
<text transform="translate(124.22 322.7) scale(0.95 1)" font-size="9.57" fill="#333" stroke="#333" stroke-width="0.19">FZD7</text>
<text transform="translate(173.59 322.32) scale(0.95 1)" font-size="9.87" fill="#333" stroke="#333" stroke-width="0.19">IgG</text>
<text transform="translate(222.69 322.7) scale(0.95 1)" font-size="9.55" fill="#333" stroke="#333" stroke-width="0.19">FZD7</text>
<text transform="translate(277.39 321.82) scale(0.95 1)" font-size="9.87" fill="#333" stroke="#333" stroke-width="0.19">IgG</text>
<text transform="translate(332.19 322.7) scale(0.95 1)" font-size="9.55" fill="#333" stroke="#333" stroke-width="0.19">FZD7</text>
<rect x="57.5" y="324.7" width="45.3" height="45.8" fill="#fff"/>
<g fill="#8aaee0" opacity="0.5" clip-path="url(#ch0)"><circle cx="73.3" cy="365.77" r="0.4"/><circle cx="68.05" cy="369.72" r="0.4"/><circle cx="82.8" cy="355.25" r="0.4"/><circle cx="79.28" cy="355.86" r="0.4"/><circle cx="68.28" cy="365.35" r="0.4"/><circle cx="72.1" cy="365.3" r="0.4"/><circle cx="77.24" cy="355.68" r="0.4"/><circle cx="83.15" cy="349.67" r="0.4"/><circle cx="83.89" cy="352.5" r="0.4"/><circle cx="78.19" cy="351.53" r="0.4"/><circle cx="88.42" cy="353.75" r="0.4"/><circle cx="83.47" cy="354.7" r="0.4"/><circle cx="78.15" cy="362.23" r="0.4"/><circle cx="73.17" cy="361.66" r="0.4"/><circle cx="76.03" cy="356.59" r="0.4"/><circle cx="91.72" cy="347.59" r="0.4"/><circle cx="73.02" cy="360.94" r="0.4"/><circle cx="82.88" cy="349.2" r="0.4"/><circle cx="67.28" cy="368.17" r="0.4"/><circle cx="78.16" cy="363.13" r="0.4"/><circle cx="73.16" cy="368.54" r="0.4"/><circle cx="72.38" cy="361.02" r="0.4"/><circle cx="77.1" cy="360.44" r="0.4"/><circle cx="81.85" cy="356.34" r="0.4"/><circle cx="74.04" cy="363.64" r="0.4"/><circle cx="78.48" cy="357.82" r="0.4"/><circle cx="73.41" cy="367.19" r="0.4"/><circle cx="71.03" cy="363.04" r="0.4"/><circle cx="70.66" cy="357" r="0.4"/><circle cx="76.11" cy="352.99" r="0.4"/><circle cx="83.2" cy="362.33" r="0.4"/><circle cx="78.08" cy="356.8" r="0.4"/><circle cx="79.4" cy="354.57" r="0.4"/><circle cx="77.54" cy="361.52" r="0.4"/><circle cx="76.58" cy="361.75" r="0.4"/><circle cx="66.43" cy="363.05" r="0.4"/><circle cx="73.67" cy="368.99" r="0.4"/><circle cx="67.2" cy="368.34" r="0.4"/><circle cx="82.3" cy="352.54" r="0.4"/><circle cx="81.31" cy="352.29" r="0.4"/><circle cx="80.7" cy="357.15" r="0.4"/><circle cx="76.68" cy="364.62" r="0.4"/><circle cx="74.44" cy="370.4" r="0.4"/><circle cx="80.8" cy="355.53" r="0.4"/><circle cx="76.78" cy="358.43" r="0.4"/><circle cx="78.96" cy="361.43" r="0.4"/><circle cx="74.04" cy="355.39" r="0.4"/><circle cx="84.96" cy="348.04" r="0.4"/><circle cx="85.58" cy="351.23" r="0.4"/><circle cx="68.74" cy="365.25" r="0.4"/><circle cx="76.24" cy="358.87" r="0.4"/><circle cx="79.48" cy="352.93" r="0.4"/><circle cx="90.13" cy="349.36" r="0.4"/><circle cx="88.96" cy="348.46" r="0.4"/><circle cx="77.49" cy="361.86" r="0.4"/><circle cx="87.28" cy="351.02" r="0.4"/><circle cx="88.49" cy="346.81" r="0.4"/><circle cx="68.69" cy="366.7" r="0.4"/><circle cx="84.02" cy="353.22" r="0.4"/><circle cx="90.37" cy="347.9" r="0.4"/></g>
<polygon points="72.84,370.09 74.51,369 76.1,367.85 77.6,366.63 78.97,365.31 80.22,363.9 81.33,362.38 82.32,360.77 83.19,359.07 83.96,357.29 84.65,355.46 85.29,353.58 85.9,351.68 86.8,350 87.69,348.31 85.31,346.49 84.34,348.11 83.35,349.73 82.04,351.09 80.69,352.43 79.33,353.75 77.96,355.07 76.59,356.39 75.24,357.72 73.93,359.09 72.66,360.48 71.45,361.92 70.29,363.41 69.2,364.94 68.16,366.51" fill="#c6daf2" opacity="0.75" filter="url(#bl05)" clip-path="url(#ch0)"/>
<polygon points="71.98,369.43 73.54,368.26 75.04,367.04 76.47,365.77 77.81,364.43 79.06,363.02 80.21,361.53 81.27,359.97 82.23,358.34 83.11,356.64 83.93,354.9 84.7,353.12 85.44,351.32 86.35,349.65 87.25,347.98 85.75,346.82 84.79,348.46 83.82,350.08 82.64,351.54 81.42,352.98 80.18,354.4 78.91,355.8 77.64,357.19 76.36,358.58 75.08,359.97 73.82,361.37 72.58,362.79 71.36,364.22 70.17,365.68 69.02,367.17" fill="#86aade" opacity="0.85" filter="url(#bl03)" clip-path="url(#ch0)"/>
<polygon points="71.15,368.8 72.64,367.57 74.1,366.32 75.49,365.02 76.82,363.67 78.07,362.26 79.24,360.79 80.33,359.25 81.34,357.66 82.28,356.01 83.16,354.32 84,352.59 84.81,350.84 85.73,349.18 86.64,347.51 85.59,346.71 84.65,348.35 83.69,349.98 82.57,351.49 81.42,352.98 80.24,354.45 79.04,355.9 77.81,357.32 76.57,358.74 75.31,360.14 74.05,361.54 72.79,362.95 71.54,364.36 70.31,365.78 69.09,367.22" fill="#4a7cc4" opacity="0.85" filter="url(#bl03)" clip-path="url(#ch0)"/>
<polygon points="72.18,368.92 73.38,367.88 74.56,366.81 75.7,365.73 76.81,364.61 77.88,363.46 78.9,362.28 79.87,361.06 80.8,359.8 81.67,358.5 82.51,357.18 83.3,355.82 84.06,354.43 84.79,353.03 85.5,351.6 84.71,351 83.82,352.29 82.92,353.56 81.99,354.81 81.04,356.05 80.06,357.27 79.07,358.47 78.06,359.66 77.03,360.84 75.99,362.01 74.93,363.17 73.88,364.33 72.82,365.48 71.77,366.64 70.72,367.81" fill="#3f9aa2" opacity="0.85" filter="url(#bl03)" clip-path="url(#ch0)"/>
<polygon points="72.72,368.67 73.68,367.8 74.62,366.91 75.55,366.01 76.46,365.1 77.35,364.17 78.21,363.22 79.04,362.24 79.85,361.25 80.62,360.23 81.37,359.2 82.09,358.14 82.78,357.06 83.45,355.96 84.1,354.84 83.32,354.24 82.58,355.29 81.82,356.32 81.05,357.34 80.26,358.34 79.45,359.34 78.63,360.32 77.79,361.29 76.95,362.25 76.09,363.2 75.22,364.15 74.35,365.09 73.47,366.03 72.59,366.96 71.71,367.9" fill="#72b85e" opacity="0.9" filter="url(#bl03)" clip-path="url(#ch0)"/>
<rect x="58.5" y="325.5" width="44" height="44" fill="none" stroke="#707070" stroke-width="1"/>
<polyline points="102.2,368.7 79.7,368.7 95.3,330.5 98.2,330.5" stroke="#555" stroke-width="0.7" fill="none"/>
<line x1="89.5" y1="348.6" x2="94.1" y2="348.6" stroke="#111" stroke-width="1"/>
<line x1="90.4" y1="350.3" x2="93.2" y2="350.3" stroke="#222" stroke-width="0.8"/>
<line x1="53.5" y1="325.6" x2="55.1" y2="325.6" stroke="#222" stroke-width="1.1"/>
<line x1="53.5" y1="334.8" x2="55.1" y2="334.8" stroke="#222" stroke-width="1.1"/>
<line x1="53.5" y1="344" x2="55.1" y2="344" stroke="#222" stroke-width="1.1"/>
<line x1="53.5" y1="353.2" x2="55.1" y2="353.2" stroke="#222" stroke-width="1.1"/>
<line x1="53.5" y1="362.4" x2="55.1" y2="362.4" stroke="#222" stroke-width="1.1"/>
<line x1="62.9" y1="374.3" x2="63.8" y2="373.5" stroke="#444" stroke-width="0.7"/>
<line x1="71.98" y1="374.3" x2="72.88" y2="373.5" stroke="#444" stroke-width="0.7"/>
<line x1="81.05" y1="374.3" x2="81.95" y2="373.5" stroke="#444" stroke-width="0.7"/>
<line x1="90.12" y1="374.3" x2="91.02" y2="373.5" stroke="#444" stroke-width="0.7"/>
<line x1="99.2" y1="374.3" x2="100.1" y2="373.5" stroke="#444" stroke-width="0.7"/>
<rect x="110.3" y="324.3" width="44.5" height="45" fill="#fff"/>
<g fill="#8aaee0" opacity="0.5" clip-path="url(#ch1)"><circle cx="131.4" cy="364.09" r="0.4"/><circle cx="140.3" cy="353.67" r="0.4"/><circle cx="134.04" cy="363.66" r="0.4"/><circle cx="124.05" cy="369.44" r="0.4"/><circle cx="133.61" cy="360.52" r="0.4"/><circle cx="133.76" cy="357.7" r="0.4"/><circle cx="132.95" cy="357.2" r="0.4"/><circle cx="137.58" cy="351.01" r="0.4"/><circle cx="134.08" cy="366.22" r="0.4"/><circle cx="145.45" cy="354.64" r="0.4"/><circle cx="142.94" cy="353.45" r="0.4"/><circle cx="126.21" cy="354.18" r="0.4"/><circle cx="137.87" cy="357.15" r="0.4"/><circle cx="127.94" cy="363.7" r="0.4"/><circle cx="138.97" cy="351.35" r="0.4"/><circle cx="139.34" cy="350.53" r="0.4"/><circle cx="143.31" cy="353.22" r="0.4"/><circle cx="134.41" cy="349.64" r="0.4"/><circle cx="126.77" cy="366.15" r="0.4"/><circle cx="135.96" cy="352.9" r="0.4"/><circle cx="131.76" cy="362.93" r="0.4"/><circle cx="131.46" cy="368.96" r="0.4"/><circle cx="129.97" cy="360.94" r="0.4"/><circle cx="136.23" cy="358.96" r="0.4"/><circle cx="135.92" cy="352.79" r="0.4"/><circle cx="140.85" cy="356.51" r="0.4"/><circle cx="129.5" cy="363.54" r="0.4"/><circle cx="134.74" cy="358.36" r="0.4"/><circle cx="133.37" cy="360.29" r="0.4"/><circle cx="133.3" cy="352.56" r="0.4"/><circle cx="133.03" cy="364.41" r="0.4"/><circle cx="136.45" cy="360.6" r="0.4"/><circle cx="133.5" cy="359.29" r="0.4"/><circle cx="145.03" cy="349.28" r="0.4"/><circle cx="137.27" cy="364.14" r="0.4"/><circle cx="134" cy="365.19" r="0.4"/><circle cx="128.68" cy="362.31" r="0.4"/><circle cx="127.92" cy="367.1" r="0.4"/><circle cx="135.43" cy="354.3" r="0.4"/><circle cx="132.48" cy="364.09" r="0.4"/><circle cx="129.32" cy="353.71" r="0.4"/><circle cx="139.09" cy="356.16" r="0.4"/><circle cx="134.55" cy="359.84" r="0.4"/><circle cx="138.98" cy="349.82" r="0.4"/><circle cx="135.37" cy="363.39" r="0.4"/><circle cx="127.32" cy="358.65" r="0.4"/><circle cx="138.34" cy="353.4" r="0.4"/><circle cx="132.84" cy="352.85" r="0.4"/><circle cx="138.89" cy="358.63" r="0.4"/><circle cx="137.43" cy="351.44" r="0.4"/><circle cx="135.29" cy="364.14" r="0.4"/><circle cx="129.89" cy="360.7" r="0.4"/><circle cx="134.66" cy="348.6" r="0.4"/><circle cx="125.1" cy="366.87" r="0.4"/><circle cx="138.01" cy="364.08" r="0.4"/><circle cx="138.32" cy="354.3" r="0.4"/><circle cx="140.33" cy="356.39" r="0.4"/><circle cx="142.27" cy="352.43" r="0.4"/><circle cx="131.21" cy="365.2" r="0.4"/><circle cx="139.72" cy="359.65" r="0.4"/></g>
<polygon points="133.59,369.3 134.85,368.22 136,367.08 137.01,365.87 137.86,364.59 138.55,363.23 139.08,361.8 139.48,360.3 139.75,358.73 139.92,357.12 140.02,355.48 140.09,353.82 140.15,352.15 140.48,350.62 140.81,349.09 138.79,348.11 138.27,349.55 137.73,350.99 136.87,352.26 135.95,353.51 134.99,354.73 133.99,355.94 132.98,357.15 131.99,358.36 131.04,359.6 130.14,360.86 129.33,362.15 128.59,363.49 127.95,364.87 127.41,366.3" fill="#c6daf2" opacity="0.75" filter="url(#bl05)" clip-path="url(#ch1)"/>
<polygon points="132.46,368.75 133.59,367.6 134.64,366.42 135.6,365.19 136.44,363.91 137.17,362.57 137.78,361.17 138.29,359.72 138.69,358.22 139.01,356.68 139.27,355.12 139.5,353.53 139.7,351.94 140.08,350.43 140.44,348.91 139.16,348.29 138.67,349.75 138.18,351.2 137.46,352.55 136.7,353.87 135.89,355.17 135.04,356.46 134.17,357.73 133.29,358.99 132.42,360.26 131.56,361.54 130.73,362.83 129.95,364.15 129.22,365.49 128.54,366.85" fill="#86aade" opacity="0.85" filter="url(#bl03)" clip-path="url(#ch1)"/>
<polygon points="131.36,368.21 132.42,367.04 133.42,365.83 134.35,364.59 135.19,363.3 135.94,361.97 136.59,360.59 137.15,359.17 137.63,357.71 138.03,356.21 138.38,354.68 138.68,353.14 138.97,351.58 139.36,350.08 139.74,348.57 138.85,348.14 138.38,349.61 137.91,351.07 137.27,352.45 136.59,353.82 135.86,355.16 135.1,356.48 134.3,357.79 133.47,359.08 132.64,360.37 131.8,361.66 130.97,362.95 130.16,364.25 129.38,365.57 128.64,366.9" fill="#4a7cc4" opacity="0.85" filter="url(#bl03)" clip-path="url(#ch1)"/>
<polygon points="132.47,368.28 133.3,367.28 134.11,366.26 134.87,365.23 135.59,364.17 136.25,363.09 136.86,361.98 137.42,360.84 137.91,359.67 138.36,358.49 138.76,357.27 139.12,356.04 139.44,354.79 139.74,353.53 140.02,352.26 139.28,351.9 138.8,353.08 138.29,354.23 137.75,355.38 137.18,356.51 136.58,357.62 135.95,358.72 135.3,359.81 134.64,360.9 133.96,361.97 133.27,363.05 132.58,364.12 131.89,365.19 131.21,366.27 130.55,367.35" fill="#3f9aa2" opacity="0.85" filter="url(#bl03)" clip-path="url(#ch1)"/>
<polygon points="132.93,368.03 133.58,367.19 134.22,366.35 134.84,365.5 135.44,364.64 136,363.76 136.54,362.87 137.04,361.96 137.51,361.04 137.94,360.1 138.35,359.14 138.72,358.17 139.07,357.19 139.39,356.19 139.69,355.18 138.89,354.8 138.47,355.75 138.04,356.69 137.58,357.62 137.1,358.54 136.6,359.45 136.09,360.35 135.56,361.24 135.01,362.13 134.46,363.01 133.89,363.89 133.32,364.76 132.75,365.64 132.18,366.51 131.61,367.39" fill="#72b85e" opacity="0.9" filter="url(#bl03)" clip-path="url(#ch1)"/>
<rect x="110.5" y="324.5" width="44" height="44" fill="none" stroke="#707070" stroke-width="1"/>
<polyline points="154.2,367.5 126.5,367.5 147.3,329.5 151.3,329.5" stroke="#555" stroke-width="0.7" fill="none"/>
<line x1="142.7" y1="348" x2="147.3" y2="348" stroke="#111" stroke-width="1"/>
<line x1="143.6" y1="349.7" x2="146.4" y2="349.7" stroke="#222" stroke-width="0.8"/>
<line x1="106.3" y1="325.2" x2="107.9" y2="325.2" stroke="#222" stroke-width="1.1"/>
<line x1="106.3" y1="334.2" x2="107.9" y2="334.2" stroke="#222" stroke-width="1.1"/>
<line x1="106.3" y1="343.2" x2="107.9" y2="343.2" stroke="#222" stroke-width="1.1"/>
<line x1="106.3" y1="352.2" x2="107.9" y2="352.2" stroke="#222" stroke-width="1.1"/>
<line x1="106.3" y1="361.2" x2="107.9" y2="361.2" stroke="#222" stroke-width="1.1"/>
<line x1="115.7" y1="373.1" x2="116.6" y2="372.3" stroke="#444" stroke-width="0.7"/>
<line x1="124.58" y1="373.1" x2="125.47" y2="372.3" stroke="#444" stroke-width="0.7"/>
<line x1="133.45" y1="373.1" x2="134.35" y2="372.3" stroke="#444" stroke-width="0.7"/>
<line x1="142.33" y1="373.1" x2="143.23" y2="372.3" stroke="#444" stroke-width="0.7"/>
<line x1="151.2" y1="373.1" x2="152.1" y2="372.3" stroke="#444" stroke-width="0.7"/>
<rect x="162.7" y="325.8" width="42.7" height="41.5" fill="#fff"/>
<g fill="#8aaee0" opacity="0.5" clip-path="url(#ch2)"><circle cx="183.14" cy="348.61" r="0.4"/><circle cx="176.17" cy="361.19" r="0.4"/><circle cx="181.94" cy="344.03" r="0.4"/><circle cx="183.54" cy="353.67" r="0.4"/><circle cx="181.03" cy="351.48" r="0.4"/><circle cx="174.91" cy="354.94" r="0.4"/><circle cx="177.73" cy="356.28" r="0.4"/><circle cx="180.83" cy="349.89" r="0.4"/><circle cx="177.88" cy="353.34" r="0.4"/><circle cx="177.96" cy="358.3" r="0.4"/><circle cx="180.89" cy="348.31" r="0.4"/><circle cx="181.02" cy="351.57" r="0.4"/><circle cx="173.08" cy="361.05" r="0.4"/><circle cx="176.93" cy="352.06" r="0.4"/><circle cx="174.93" cy="359.6" r="0.4"/><circle cx="178.34" cy="355.84" r="0.4"/><circle cx="177.96" cy="351.28" r="0.4"/><circle cx="176.89" cy="355.97" r="0.4"/><circle cx="184.22" cy="358.26" r="0.4"/><circle cx="181.83" cy="343.75" r="0.4"/><circle cx="181.21" cy="348.96" r="0.4"/><circle cx="177.09" cy="348.43" r="0.4"/><circle cx="177.59" cy="356.7" r="0.4"/><circle cx="181.99" cy="346.75" r="0.4"/><circle cx="177.03" cy="356.06" r="0.4"/><circle cx="181.23" cy="343.4" r="0.4"/><circle cx="179.58" cy="352.09" r="0.4"/><circle cx="176" cy="354.61" r="0.4"/><circle cx="178.39" cy="354.88" r="0.4"/><circle cx="177.34" cy="353.39" r="0.4"/><circle cx="184.3" cy="344.48" r="0.4"/><circle cx="180.33" cy="354.27" r="0.4"/><circle cx="168.6" cy="362.82" r="0.4"/><circle cx="179.94" cy="348.9" r="0.4"/><circle cx="186.92" cy="345.23" r="0.4"/><circle cx="187.08" cy="347.61" r="0.4"/><circle cx="178.15" cy="351.57" r="0.4"/><circle cx="175.12" cy="350.56" r="0.4"/><circle cx="182.31" cy="345.11" r="0.4"/><circle cx="179.32" cy="345.35" r="0.4"/><circle cx="178.52" cy="364.64" r="0.4"/><circle cx="171.17" cy="357.36" r="0.4"/><circle cx="174.92" cy="359.75" r="0.4"/><circle cx="179.02" cy="351.16" r="0.4"/><circle cx="185.22" cy="347.2" r="0.4"/><circle cx="184.79" cy="346.26" r="0.4"/><circle cx="180.81" cy="349.6" r="0.4"/><circle cx="179.1" cy="349.74" r="0.4"/><circle cx="174.85" cy="360.26" r="0.4"/><circle cx="179.5" cy="352.95" r="0.4"/><circle cx="175.95" cy="363.81" r="0.4"/><circle cx="176.29" cy="362.28" r="0.4"/><circle cx="179.08" cy="354.24" r="0.4"/><circle cx="177.48" cy="351.43" r="0.4"/><circle cx="182.6" cy="345.7" r="0.4"/><circle cx="179.09" cy="354.8" r="0.4"/><circle cx="179.29" cy="351.58" r="0.4"/><circle cx="175.21" cy="362.82" r="0.4"/><circle cx="185.47" cy="345.86" r="0.4"/><circle cx="174.81" cy="363.18" r="0.4"/></g>
<polygon points="175.51,365.42 176.76,364.1 177.94,362.75 179.03,361.35 180.02,359.91 180.88,358.42 181.61,356.86 182.22,355.25 182.7,353.58 183.08,351.86 183.37,350.1 183.6,348.32 183.79,346.51 184.25,344.83 184.69,343.15 182.31,342.05 181.81,343.72 181.3,345.38 180.47,346.89 179.62,348.39 178.74,349.88 177.85,351.36 176.97,352.85 176.09,354.34 175.23,355.84 174.41,357.35 173.61,358.88 172.86,360.43 172.16,362 171.49,363.58" fill="#c6daf2" opacity="0.75" filter="url(#bl05)" clip-path="url(#ch2)"/>
<polygon points="174.77,365.08 175.91,363.71 177.01,362.32 178.04,360.9 178.99,359.44 179.84,357.94 180.6,356.4 181.25,354.81 181.81,353.17 182.29,351.5 182.69,349.79 183.03,348.06 183.33,346.3 183.8,344.63 184.26,342.95 182.74,342.25 182.26,343.92 181.76,345.59 181.05,347.15 180.31,348.7 179.54,350.24 178.74,351.77 177.93,353.29 177.1,354.8 176.27,356.31 175.43,357.82 174.61,359.33 173.8,360.85 173,362.38 172.23,363.92" fill="#86aade" opacity="0.85" filter="url(#bl03)" clip-path="url(#ch2)"/>
<polygon points="174.06,364.75 175.14,363.36 176.19,361.95 177.19,360.51 178.12,359.05 178.97,357.55 179.74,356.01 180.42,354.43 181.02,352.81 181.54,351.16 181.99,349.47 182.4,347.77 182.76,346.04 183.24,344.37 183.7,342.69 182.65,342.21 182.17,343.88 181.67,345.55 181.02,347.14 180.34,348.72 179.63,350.28 178.88,351.84 178.11,353.37 177.31,354.9 176.49,356.41 175.65,357.92 174.8,359.42 173.96,360.93 173.12,362.43 172.29,363.95" fill="#4a7cc4" opacity="0.85" filter="url(#bl03)" clip-path="url(#ch2)"/>
<polygon points="174.89,364.6 175.75,363.43 176.59,362.25 177.41,361.05 178.18,359.83 178.92,358.6 179.6,357.34 180.24,356.06 180.82,354.76 181.35,353.43 181.83,352.08 182.26,350.71 182.66,349.33 183.03,347.92 183.37,346.51 182.6,346.16 182.1,347.5 181.58,348.83 181.03,350.15 180.46,351.46 179.86,352.75 179.23,354.04 178.58,355.31 177.91,356.57 177.22,357.83 176.52,359.07 175.8,360.31 175.08,361.55 174.35,362.79 173.63,364.03" fill="#3f9aa2" opacity="0.85" filter="url(#bl03)" clip-path="url(#ch2)"/>
<polygon points="175.29,364.26 175.98,363.29 176.65,362.31 177.31,361.32 177.94,360.33 178.56,359.32 179.14,358.3 179.7,357.27 180.22,356.23 180.71,355.17 181.18,354.09 181.61,353 182.01,351.9 182.38,350.79 182.73,349.66 181.99,349.32 181.56,350.41 181.11,351.49 180.64,352.56 180.15,353.62 179.64,354.68 179.12,355.72 178.57,356.76 178.01,357.79 177.43,358.81 176.85,359.83 176.25,360.84 175.64,361.85 175.03,362.86 174.42,363.86" fill="#72b85e" opacity="0.9" filter="url(#bl03)" clip-path="url(#ch2)"/>
<rect x="163.5" y="326.5" width="41" height="40" fill="none" stroke="#707070" stroke-width="1"/>
<polyline points="204.8,365.5 182.3,365.5 191.5,329.2 204.2,329.2" stroke="#555" stroke-width="0.7" fill="none"/>
<line x1="193.2" y1="347" x2="197.8" y2="347" stroke="#111" stroke-width="1"/>
<line x1="194.1" y1="348.7" x2="196.9" y2="348.7" stroke="#222" stroke-width="0.8"/>
<line x1="158.7" y1="326.7" x2="160.3" y2="326.7" stroke="#222" stroke-width="1.1"/>
<line x1="158.7" y1="334.82" x2="160.3" y2="334.82" stroke="#222" stroke-width="1.1"/>
<line x1="158.7" y1="342.95" x2="160.3" y2="342.95" stroke="#222" stroke-width="1.1"/>
<line x1="158.7" y1="351.07" x2="160.3" y2="351.07" stroke="#222" stroke-width="1.1"/>
<line x1="158.7" y1="359.2" x2="160.3" y2="359.2" stroke="#222" stroke-width="1.1"/>
<line x1="168.1" y1="371.1" x2="169" y2="370.3" stroke="#444" stroke-width="0.7"/>
<line x1="176.53" y1="371.1" x2="177.43" y2="370.3" stroke="#444" stroke-width="0.7"/>
<line x1="184.95" y1="371.1" x2="185.85" y2="370.3" stroke="#444" stroke-width="0.7"/>
<line x1="193.38" y1="371.1" x2="194.28" y2="370.3" stroke="#444" stroke-width="0.7"/>
<line x1="201.8" y1="371.1" x2="202.7" y2="370.3" stroke="#444" stroke-width="0.7"/>
<rect x="211.8" y="324.6" width="42.1" height="41.6" fill="#fff"/>
<g fill="#8aaee0" opacity="0.5" clip-path="url(#ch3)"><circle cx="233.01" cy="348.37" r="0.4"/><circle cx="229.87" cy="355.56" r="0.4"/><circle cx="239.1" cy="343.97" r="0.4"/><circle cx="230.88" cy="354.7" r="0.4"/><circle cx="227.43" cy="362.56" r="0.4"/><circle cx="236.99" cy="345.5" r="0.4"/><circle cx="229.02" cy="357.39" r="0.4"/><circle cx="230.8" cy="351.09" r="0.4"/><circle cx="227.23" cy="358.91" r="0.4"/><circle cx="233.84" cy="346.92" r="0.4"/><circle cx="230.89" cy="363.68" r="0.4"/><circle cx="232.51" cy="363.19" r="0.4"/><circle cx="234.19" cy="356.44" r="0.4"/><circle cx="231.86" cy="360.27" r="0.4"/><circle cx="233.25" cy="348.66" r="0.4"/><circle cx="235.26" cy="344.66" r="0.4"/><circle cx="232.73" cy="349.4" r="0.4"/><circle cx="223.88" cy="366.16" r="0.4"/><circle cx="231.42" cy="355.82" r="0.4"/><circle cx="238.77" cy="345.89" r="0.4"/><circle cx="229.71" cy="356.33" r="0.4"/><circle cx="234.37" cy="362.16" r="0.4"/><circle cx="242.43" cy="352.03" r="0.4"/><circle cx="243.87" cy="343.72" r="0.4"/><circle cx="235.31" cy="368.01" r="0.4"/><circle cx="233.95" cy="343.24" r="0.4"/><circle cx="231.29" cy="355.42" r="0.4"/><circle cx="233.92" cy="353.3" r="0.4"/><circle cx="231.17" cy="343.32" r="0.4"/><circle cx="229.06" cy="357.57" r="0.4"/><circle cx="238.43" cy="348.41" r="0.4"/><circle cx="233.62" cy="352.89" r="0.4"/><circle cx="227.17" cy="353.33" r="0.4"/><circle cx="231.79" cy="361.74" r="0.4"/><circle cx="237.4" cy="349.08" r="0.4"/><circle cx="233.61" cy="365.66" r="0.4"/><circle cx="236.68" cy="354.9" r="0.4"/><circle cx="234.82" cy="344.82" r="0.4"/><circle cx="231.83" cy="355.31" r="0.4"/><circle cx="234.85" cy="343.9" r="0.4"/><circle cx="234.6" cy="362.33" r="0.4"/><circle cx="233.81" cy="347.35" r="0.4"/><circle cx="234.53" cy="352.74" r="0.4"/><circle cx="238.5" cy="350.07" r="0.4"/><circle cx="230.75" cy="364.75" r="0.4"/><circle cx="227.13" cy="346.37" r="0.4"/><circle cx="234.8" cy="349.78" r="0.4"/><circle cx="231.57" cy="343.21" r="0.4"/><circle cx="230.96" cy="362.27" r="0.4"/><circle cx="229.61" cy="360.41" r="0.4"/><circle cx="235.59" cy="354.39" r="0.4"/><circle cx="228.52" cy="358.69" r="0.4"/><circle cx="238.69" cy="348.17" r="0.4"/><circle cx="229.68" cy="351.59" r="0.4"/><circle cx="237.49" cy="343.59" r="0.4"/><circle cx="238.94" cy="356.39" r="0.4"/><circle cx="234.96" cy="346" r="0.4"/><circle cx="238.93" cy="346.65" r="0.4"/><circle cx="228.29" cy="356.51" r="0.4"/><circle cx="228.41" cy="349.04" r="0.4"/></g>
<polygon points="231.63,366.42 233,365.05 234.25,363.64 235.37,362.17 236.33,360.62 237.12,359.01 237.76,357.31 238.24,355.55 238.6,353.74 238.85,351.87 239.02,349.97 239.14,348.05 239.26,346.12 239.68,344.33 240.1,342.54 237.7,341.46 237.12,343.17 236.52,344.88 235.56,346.43 234.55,347.95 233.49,349.45 232.42,350.94 231.34,352.43 230.29,353.94 229.28,355.46 228.33,357.01 227.45,358.59 226.67,360.21 225.97,361.88 225.37,363.58" fill="#c6daf2" opacity="0.75" filter="url(#bl05)" clip-path="url(#ch3)"/>
<polygon points="230.48,365.9 231.71,364.47 232.86,363.01 233.92,361.51 234.86,359.96 235.68,358.35 236.39,356.69 236.98,354.98 237.47,353.22 237.87,351.43 238.2,349.6 238.49,347.75 238.75,345.89 239.21,344.12 239.66,342.34 238.14,341.66 237.59,343.39 237.02,345.11 236.22,346.72 235.37,348.32 234.48,349.89 233.55,351.45 232.61,353.01 231.66,354.56 230.71,356.11 229.79,357.67 228.9,359.25 228.06,360.84 227.26,362.46 226.52,364.1" fill="#86aade" opacity="0.85" filter="url(#bl03)" clip-path="url(#ch3)"/>
<polygon points="229.37,365.39 230.52,363.94 231.62,362.45 232.64,360.94 233.58,359.38 234.42,357.78 235.16,356.14 235.8,354.45 236.36,352.72 236.84,350.96 237.26,349.17 237.63,347.36 237.98,345.54 238.45,343.78 238.92,342.01 237.86,341.53 237.33,343.27 236.78,345 236.05,346.65 235.29,348.28 234.48,349.9 233.64,351.49 232.76,353.08 231.87,354.65 230.96,356.22 230.06,357.79 229.16,359.36 228.28,360.94 227.43,362.54 226.61,364.15" fill="#4a7cc4" opacity="0.85" filter="url(#bl03)" clip-path="url(#ch3)"/>
<polygon points="230.52,365.36 231.42,364.13 232.3,362.88 233.14,361.62 233.93,360.33 234.67,359.02 235.35,357.69 235.97,356.33 236.54,354.94 237.06,353.53 237.52,352.1 237.94,350.65 238.33,349.18 238.69,347.7 239.02,346.21 238.18,345.83 237.63,347.22 237.05,348.6 236.44,349.97 235.81,351.33 235.14,352.67 234.46,354 233.75,355.32 233.02,356.63 232.28,357.94 231.53,359.25 230.78,360.55 230.03,361.85 229.3,363.16 228.57,364.48" fill="#3f9aa2" opacity="0.85" filter="url(#bl03)" clip-path="url(#ch3)"/>
<polygon points="231,365.02 231.71,364 232.41,362.97 233.09,361.93 233.74,360.88 234.37,359.82 234.96,358.74 235.52,357.65 236.05,356.54 236.54,355.42 237,354.28 237.43,353.13 237.83,351.96 238.2,350.78 238.55,349.6 237.67,349.2 237.2,350.33 236.71,351.46 236.2,352.57 235.67,353.68 235.12,354.77 234.55,355.86 233.97,356.95 233.37,358.02 232.77,359.09 232.15,360.16 231.53,361.22 230.9,362.29 230.28,363.35 229.66,364.42" fill="#72b85e" opacity="0.9" filter="url(#bl03)" clip-path="url(#ch3)"/>
<rect x="212.5" y="325.5" width="41" height="40" fill="none" stroke="#707070" stroke-width="1"/>
<polyline points="253.3,364.4 232,364.4 241.2,328 252.7,328" stroke="#555" stroke-width="0.7" fill="none"/>
<line x1="242.2" y1="346.5" x2="246.8" y2="346.5" stroke="#111" stroke-width="1"/>
<line x1="243.1" y1="348.2" x2="245.9" y2="348.2" stroke="#222" stroke-width="0.8"/>
<line x1="207.8" y1="325.5" x2="209.4" y2="325.5" stroke="#222" stroke-width="1.1"/>
<line x1="207.8" y1="333.65" x2="209.4" y2="333.65" stroke="#222" stroke-width="1.1"/>
<line x1="207.8" y1="341.8" x2="209.4" y2="341.8" stroke="#222" stroke-width="1.1"/>
<line x1="207.8" y1="349.95" x2="209.4" y2="349.95" stroke="#222" stroke-width="1.1"/>
<line x1="207.8" y1="358.1" x2="209.4" y2="358.1" stroke="#222" stroke-width="1.1"/>
<line x1="217.2" y1="370" x2="218.1" y2="369.2" stroke="#444" stroke-width="0.7"/>
<line x1="225.48" y1="370" x2="226.38" y2="369.2" stroke="#444" stroke-width="0.7"/>
<line x1="233.75" y1="370" x2="234.65" y2="369.2" stroke="#444" stroke-width="0.7"/>
<line x1="242.03" y1="370" x2="242.93" y2="369.2" stroke="#444" stroke-width="0.7"/>
<line x1="250.3" y1="370" x2="251.2" y2="369.2" stroke="#444" stroke-width="0.7"/>
<rect x="264.3" y="323.3" width="43.4" height="43.8" fill="#fff"/>
<g fill="#8aaee0" opacity="0.5" clip-path="url(#ch4)"><circle cx="280.61" cy="365.35" r="0.4"/><circle cx="279.07" cy="362.84" r="0.4"/><circle cx="286.62" cy="344.19" r="0.4"/><circle cx="283.98" cy="344.89" r="0.4"/><circle cx="277.77" cy="349.18" r="0.4"/><circle cx="279.93" cy="352.41" r="0.4"/><circle cx="281.21" cy="354.56" r="0.4"/><circle cx="288.3" cy="346.82" r="0.4"/><circle cx="282.3" cy="352.64" r="0.4"/><circle cx="273.44" cy="362.71" r="0.4"/><circle cx="287.94" cy="346.39" r="0.4"/><circle cx="280.75" cy="345.62" r="0.4"/><circle cx="277.85" cy="363.04" r="0.4"/><circle cx="282.83" cy="347.73" r="0.4"/><circle cx="284.23" cy="344.81" r="0.4"/><circle cx="275.87" cy="360.53" r="0.4"/><circle cx="279.63" cy="354.88" r="0.4"/><circle cx="279.62" cy="365.35" r="0.4"/><circle cx="284.66" cy="351.61" r="0.4"/><circle cx="278.54" cy="365.35" r="0.4"/><circle cx="285.37" cy="343.98" r="0.4"/><circle cx="278.7" cy="358.91" r="0.4"/><circle cx="282.83" cy="356.99" r="0.4"/><circle cx="278.86" cy="359.48" r="0.4"/><circle cx="282.11" cy="351.96" r="0.4"/><circle cx="281.53" cy="354.62" r="0.4"/><circle cx="286.6" cy="348.79" r="0.4"/><circle cx="280.89" cy="363.86" r="0.4"/><circle cx="288.08" cy="345.81" r="0.4"/><circle cx="275.39" cy="359.45" r="0.4"/><circle cx="283" cy="348.5" r="0.4"/><circle cx="278.52" cy="357.65" r="0.4"/><circle cx="278.65" cy="353.26" r="0.4"/><circle cx="279.98" cy="360.75" r="0.4"/><circle cx="284.9" cy="353.68" r="0.4"/><circle cx="281.86" cy="356.39" r="0.4"/><circle cx="287.35" cy="341.81" r="0.4"/><circle cx="287.4" cy="348.89" r="0.4"/><circle cx="279.25" cy="367.01" r="0.4"/><circle cx="276.09" cy="364.12" r="0.4"/><circle cx="278.48" cy="347.15" r="0.4"/><circle cx="288.67" cy="347.77" r="0.4"/><circle cx="283.73" cy="342.04" r="0.4"/><circle cx="278.46" cy="362.76" r="0.4"/><circle cx="277.81" cy="359.89" r="0.4"/><circle cx="281.06" cy="344.7" r="0.4"/><circle cx="280.09" cy="361.99" r="0.4"/><circle cx="284.16" cy="352.46" r="0.4"/><circle cx="281.01" cy="353.18" r="0.4"/><circle cx="277.61" cy="365.24" r="0.4"/><circle cx="275.54" cy="363.92" r="0.4"/><circle cx="283.36" cy="349.36" r="0.4"/><circle cx="282.31" cy="353" r="0.4"/><circle cx="282.45" cy="355.23" r="0.4"/><circle cx="280.61" cy="360.56" r="0.4"/><circle cx="283.17" cy="345.72" r="0.4"/><circle cx="284.55" cy="349.3" r="0.4"/><circle cx="280.81" cy="364.73" r="0.4"/><circle cx="275.73" cy="362.85" r="0.4"/><circle cx="282.93" cy="352.52" r="0.4"/></g>
<polygon points="279.79,366.89 281.09,365.28 282.32,363.64 283.46,361.96 284.47,360.23 285.35,358.45 286.09,356.61 286.69,354.72 287.16,352.78 287.51,350.79 287.76,348.77 287.95,346.71 288.09,344.64 288.55,342.7 289,340.75 286.2,339.65 285.71,341.58 285.2,343.51 284.32,345.29 283.41,347.06 282.49,348.83 281.56,350.59 280.64,352.35 279.74,354.13 278.88,355.91 278.05,357.71 277.26,359.53 276.53,361.37 275.85,363.23 275.21,365.11" fill="#c6daf2" opacity="0.75" filter="url(#bl05)" clip-path="url(#ch4)"/>
<polygon points="278.95,366.57 280.13,364.9 281.26,363.22 282.32,361.51 283.29,359.77 284.16,357.98 284.93,356.16 285.58,354.29 286.13,352.38 286.59,350.43 286.97,348.45 287.28,346.45 287.56,344.43 288.03,342.49 288.48,340.55 286.72,339.85 286.23,341.79 285.73,343.72 284.98,345.55 284.21,347.37 283.41,349.19 282.59,350.99 281.75,352.79 280.91,354.58 280.06,356.38 279.23,358.17 278.4,359.98 277.59,361.79 276.81,363.6 276.05,365.43" fill="#86aade" opacity="0.85" filter="url(#bl03)" clip-path="url(#ch4)"/>
<polygon points="278.13,366.25 279.25,364.56 280.33,362.86 281.35,361.13 282.3,359.38 283.17,357.59 283.94,355.77 284.63,353.91 285.22,352.02 285.73,350.09 286.17,348.14 286.56,346.17 286.91,344.18 287.38,342.24 287.84,340.29 286.61,339.81 286.13,341.75 285.63,343.68 284.96,345.54 284.26,347.39 283.52,349.23 282.76,351.06 281.96,352.87 281.15,354.68 280.32,356.48 279.47,358.27 278.63,360.07 277.78,361.86 276.94,363.66 276.12,365.46" fill="#4a7cc4" opacity="0.85" filter="url(#bl03)" clip-path="url(#ch4)"/>
<polygon points="279.05,366.01 279.93,364.59 280.79,363.17 281.62,361.73 282.42,360.27 283.16,358.8 283.86,357.31 284.5,355.8 285.08,354.26 285.61,352.7 286.09,351.13 286.52,349.53 286.91,347.92 287.26,346.3 287.6,344.66 286.71,344.31 286.19,345.88 285.65,347.43 285.09,348.97 284.51,350.51 283.89,352.03 283.26,353.55 282.6,355.05 281.92,356.55 281.22,358.04 280.51,359.53 279.79,361.01 279.07,362.49 278.34,363.97 277.62,365.45" fill="#3f9aa2" opacity="0.85" filter="url(#bl03)" clip-path="url(#ch4)"/>
<polygon points="279.47,365.58 280.17,364.41 280.86,363.23 281.53,362.05 282.18,360.86 282.8,359.66 283.39,358.44 283.95,357.22 284.48,355.98 284.98,354.73 285.44,353.47 285.88,352.19 286.28,350.9 286.65,349.6 286.99,348.29 286.13,347.96 285.7,349.23 285.24,350.5 284.76,351.76 284.26,353.01 283.75,354.25 283.21,355.49 282.66,356.71 282.1,357.94 281.51,359.16 280.92,360.37 280.32,361.58 279.71,362.78 279.09,363.99 278.48,365.19" fill="#72b85e" opacity="0.9" filter="url(#bl03)" clip-path="url(#ch4)"/>
<rect x="264.5" y="323.5" width="43" height="43" fill="none" stroke="#707070" stroke-width="1"/>
<polyline points="307.1,365.3 284.4,365.3 292.9,330.3 307.7,330.3" stroke="#555" stroke-width="0.7" fill="none"/>
<line x1="296.9" y1="347.5" x2="301.5" y2="347.5" stroke="#111" stroke-width="1"/>
<line x1="297.8" y1="349.2" x2="300.6" y2="349.2" stroke="#222" stroke-width="0.8"/>
<line x1="260.3" y1="324.2" x2="261.9" y2="324.2" stroke="#222" stroke-width="1.1"/>
<line x1="260.3" y1="332.9" x2="261.9" y2="332.9" stroke="#222" stroke-width="1.1"/>
<line x1="260.3" y1="341.6" x2="261.9" y2="341.6" stroke="#222" stroke-width="1.1"/>
<line x1="260.3" y1="350.3" x2="261.9" y2="350.3" stroke="#222" stroke-width="1.1"/>
<line x1="260.3" y1="359" x2="261.9" y2="359" stroke="#222" stroke-width="1.1"/>
<line x1="269.7" y1="370.9" x2="270.6" y2="370.1" stroke="#444" stroke-width="0.7"/>
<line x1="278.3" y1="370.9" x2="279.2" y2="370.1" stroke="#444" stroke-width="0.7"/>
<line x1="286.9" y1="370.9" x2="287.8" y2="370.1" stroke="#444" stroke-width="0.7"/>
<line x1="295.5" y1="370.9" x2="296.4" y2="370.1" stroke="#444" stroke-width="0.7"/>
<line x1="304.1" y1="370.9" x2="305" y2="370.1" stroke="#444" stroke-width="0.7"/>
<rect x="318.3" y="326.9" width="39.1" height="40.8" fill="#fff"/>
<g fill="#8aaee0" opacity="0.5" clip-path="url(#ch5)"><circle cx="346.57" cy="358.99" r="0.4"/><circle cx="339.29" cy="356.71" r="0.4"/><circle cx="342.7" cy="353.89" r="0.4"/><circle cx="341.29" cy="357.91" r="0.4"/><circle cx="330.26" cy="357.5" r="0.4"/><circle cx="352.23" cy="354.95" r="0.4"/><circle cx="337.98" cy="355.51" r="0.4"/><circle cx="331.56" cy="360.49" r="0.4"/><circle cx="334.51" cy="366.4" r="0.4"/><circle cx="339.06" cy="351.95" r="0.4"/><circle cx="332.02" cy="357.83" r="0.4"/><circle cx="321.91" cy="367.35" r="0.4"/><circle cx="333.25" cy="363.21" r="0.4"/><circle cx="336.02" cy="361.99" r="0.4"/><circle cx="343.52" cy="351.72" r="0.4"/><circle cx="339.46" cy="361.66" r="0.4"/><circle cx="342.79" cy="359.12" r="0.4"/><circle cx="340.01" cy="356.86" r="0.4"/><circle cx="342.2" cy="364.35" r="0.4"/><circle cx="341.99" cy="361.76" r="0.4"/><circle cx="333.92" cy="361.72" r="0.4"/><circle cx="345.73" cy="360.35" r="0.4"/><circle cx="334.69" cy="353.99" r="0.4"/><circle cx="339.1" cy="362.43" r="0.4"/><circle cx="338.02" cy="355.59" r="0.4"/><circle cx="334.6" cy="362.65" r="0.4"/><circle cx="331.15" cy="365.5" r="0.4"/><circle cx="346.88" cy="356.14" r="0.4"/><circle cx="338.54" cy="357.29" r="0.4"/><circle cx="339.42" cy="351.41" r="0.4"/><circle cx="341.88" cy="357.3" r="0.4"/><circle cx="332.59" cy="362.42" r="0.4"/><circle cx="344.47" cy="355.28" r="0.4"/><circle cx="341.98" cy="363.2" r="0.4"/><circle cx="339.22" cy="358.37" r="0.4"/><circle cx="340.6" cy="354.81" r="0.4"/><circle cx="344.34" cy="357.64" r="0.4"/><circle cx="332.11" cy="361.09" r="0.4"/><circle cx="331.64" cy="359.17" r="0.4"/><circle cx="341" cy="355.37" r="0.4"/><circle cx="341.46" cy="365.62" r="0.4"/><circle cx="345" cy="354.78" r="0.4"/><circle cx="350.04" cy="350.01" r="0.4"/><circle cx="342.17" cy="353.23" r="0.4"/><circle cx="334.66" cy="362.47" r="0.4"/><circle cx="328.77" cy="362.89" r="0.4"/><circle cx="337.4" cy="364.87" r="0.4"/><circle cx="335.4" cy="365.17" r="0.4"/><circle cx="341.8" cy="354.8" r="0.4"/><circle cx="344.5" cy="352.93" r="0.4"/><circle cx="336.73" cy="361.14" r="0.4"/><circle cx="336.51" cy="364.82" r="0.4"/><circle cx="342.01" cy="353.07" r="0.4"/><circle cx="332.39" cy="363.74" r="0.4"/><circle cx="338" cy="355.79" r="0.4"/><circle cx="339.83" cy="363" r="0.4"/><circle cx="336.91" cy="355.07" r="0.4"/><circle cx="339.5" cy="362.94" r="0.4"/><circle cx="333.63" cy="357.82" r="0.4"/><circle cx="336.85" cy="355.45" r="0.4"/></g>
<polygon points="336.56,368.42 337.9,367.95 339.13,367.38 340.2,366.71 341.1,365.9 341.83,364.98 342.39,363.92 342.79,362.75 343.05,361.48 343.21,360.13 343.29,358.73 343.34,357.29 343.37,355.85 343.77,354.68 344.16,353.5 341.44,351.5 340.86,352.54 340.27,353.56 339.27,354.29 338.22,354.99 337.13,355.65 336.03,356.31 334.95,356.97 333.9,357.67 332.91,358.41 332.01,359.21 331.21,360.08 330.51,361.04 329.93,362.07 329.44,363.18" fill="#c6daf2" opacity="0.75" filter="url(#bl05)" clip-path="url(#ch5)"/>
<polygon points="335.25,367.46 336.44,366.87 337.55,366.22 338.55,365.49 339.43,364.68 340.19,363.77 340.83,362.77 341.35,361.69 341.77,360.53 342.1,359.31 342.36,358.04 342.59,356.74 342.8,355.43 343.24,354.29 343.66,353.13 341.94,351.87 341.39,352.93 340.84,353.98 340.01,354.84 339.15,355.67 338.24,356.47 337.32,357.26 336.38,358.03 335.45,358.81 334.55,359.61 333.68,360.44 332.86,361.3 332.09,362.2 331.39,363.15 330.75,364.14" fill="#86aade" opacity="0.85" filter="url(#bl03)" clip-path="url(#ch5)"/>
<polygon points="333.99,366.53 335.09,365.87 336.13,365.18 337.1,364.42 337.97,363.6 338.75,362.71 339.43,361.74 340.01,360.71 340.51,359.61 340.93,358.45 341.29,357.25 341.62,356.03 341.92,354.79 342.38,353.65 342.82,352.51 341.62,351.63 341.09,352.71 340.56,353.78 339.83,354.71 339.06,355.61 338.25,356.48 337.42,357.33 336.56,358.16 335.7,358.99 334.83,359.82 333.98,360.66 333.15,361.51 332.34,362.39 331.58,363.29 330.86,364.22" fill="#4a7cc4" opacity="0.85" filter="url(#bl03)" clip-path="url(#ch5)"/>
<polygon points="335.23,367.03 336.09,366.45 336.92,365.85 337.71,365.21 338.45,364.54 339.14,363.83 339.77,363.08 340.34,362.28 340.86,361.45 341.33,360.58 341.75,359.67 342.14,358.74 342.48,357.78 342.81,356.8 343.12,355.81 342.16,355.11 341.61,355.92 341.03,356.71 340.43,357.48 339.81,358.24 339.16,358.98 338.49,359.71 337.81,360.42 337.12,361.13 336.42,361.83 335.73,362.53 335.03,363.24 334.35,363.95 333.68,364.67 333.02,365.4" fill="#3f9aa2" opacity="0.85" filter="url(#bl03)" clip-path="url(#ch5)"/>
<polygon points="335.72,366.99 336.4,366.49 337.05,365.97 337.69,365.44 338.3,364.9 338.88,364.33 339.43,363.74 339.95,363.12 340.44,362.49 340.9,361.83 341.32,361.14 341.72,360.44 342.08,359.71 342.43,358.97 342.75,358.21 341.75,357.47 341.29,358.13 340.81,358.78 340.32,359.41 339.81,360.03 339.28,360.64 338.74,361.24 338.19,361.83 337.63,362.41 337.06,362.99 336.49,363.56 335.91,364.14 335.34,364.71 334.77,365.28 334.2,365.86" fill="#72b85e" opacity="0.9" filter="url(#bl03)" clip-path="url(#ch5)"/>
<rect x="318.5" y="327.5" width="38" height="40" fill="none" stroke="#707070" stroke-width="1"/>
<polyline points="356.8,365.9 339.8,365.9 344.6,331.5 357.4,331.5" stroke="#555" stroke-width="0.7" fill="none"/>
<line x1="346.9" y1="348.3" x2="351.5" y2="348.3" stroke="#111" stroke-width="1"/>
<line x1="347.8" y1="350" x2="350.6" y2="350" stroke="#222" stroke-width="0.8"/>
<line x1="314.3" y1="327.8" x2="315.9" y2="327.8" stroke="#222" stroke-width="1.1"/>
<line x1="314.3" y1="335.75" x2="315.9" y2="335.75" stroke="#222" stroke-width="1.1"/>
<line x1="314.3" y1="343.7" x2="315.9" y2="343.7" stroke="#222" stroke-width="1.1"/>
<line x1="314.3" y1="351.65" x2="315.9" y2="351.65" stroke="#222" stroke-width="1.1"/>
<line x1="314.3" y1="359.6" x2="315.9" y2="359.6" stroke="#222" stroke-width="1.1"/>
<line x1="323.7" y1="371.5" x2="324.6" y2="370.7" stroke="#444" stroke-width="0.7"/>
<line x1="331.22" y1="371.5" x2="332.12" y2="370.7" stroke="#444" stroke-width="0.7"/>
<line x1="338.75" y1="371.5" x2="339.65" y2="370.7" stroke="#444" stroke-width="0.7"/>
<line x1="346.27" y1="371.5" x2="347.18" y2="370.7" stroke="#444" stroke-width="0.7"/>
<line x1="353.8" y1="371.5" x2="354.7" y2="370.7" stroke="#444" stroke-width="0.7"/>
<rect x="58.75" y="378" width="41.25" height="40.75" fill="#fff"/>
<g fill="#8aaee0" opacity="0.5" clip-path="url(#ch6)"><circle cx="76.6" cy="409.93" r="0.4"/><circle cx="79.59" cy="407.6" r="0.4"/><circle cx="69.91" cy="414.24" r="0.4"/><circle cx="73.97" cy="409.34" r="0.4"/><circle cx="80.64" cy="405.7" r="0.4"/><circle cx="78.55" cy="404.92" r="0.4"/><circle cx="73.03" cy="415.16" r="0.4"/><circle cx="73.63" cy="416.19" r="0.4"/><circle cx="75.71" cy="408.51" r="0.4"/><circle cx="82.6" cy="405.77" r="0.4"/><circle cx="76.86" cy="405.72" r="0.4"/><circle cx="78.68" cy="406.35" r="0.4"/><circle cx="77.16" cy="406.25" r="0.4"/><circle cx="75.23" cy="406.76" r="0.4"/><circle cx="80.61" cy="402.64" r="0.4"/><circle cx="76.94" cy="412.01" r="0.4"/><circle cx="76.2" cy="414.23" r="0.4"/><circle cx="71.17" cy="414" r="0.4"/><circle cx="72.95" cy="412.32" r="0.4"/><circle cx="74.16" cy="414.58" r="0.4"/><circle cx="79.48" cy="405.68" r="0.4"/><circle cx="82.64" cy="410.79" r="0.4"/><circle cx="77.02" cy="407.53" r="0.4"/><circle cx="67.42" cy="415.59" r="0.4"/><circle cx="71.98" cy="414.93" r="0.4"/><circle cx="80.88" cy="399.64" r="0.4"/><circle cx="79.68" cy="407.47" r="0.4"/><circle cx="70.81" cy="416.68" r="0.4"/><circle cx="76.17" cy="418.27" r="0.4"/><circle cx="77.57" cy="410.32" r="0.4"/><circle cx="74.77" cy="416.47" r="0.4"/><circle cx="83.3" cy="407.26" r="0.4"/><circle cx="77.55" cy="407.78" r="0.4"/><circle cx="75.49" cy="418.55" r="0.4"/><circle cx="76.6" cy="408.7" r="0.4"/><circle cx="75.51" cy="416.72" r="0.4"/><circle cx="80.84" cy="409.35" r="0.4"/><circle cx="69.8" cy="417.21" r="0.4"/><circle cx="78.14" cy="403.35" r="0.4"/><circle cx="77.21" cy="415.23" r="0.4"/><circle cx="83.51" cy="407.28" r="0.4"/><circle cx="78.11" cy="405.71" r="0.4"/><circle cx="81.4" cy="406.56" r="0.4"/><circle cx="76.9" cy="407.69" r="0.4"/><circle cx="69.1" cy="416.46" r="0.4"/><circle cx="73.24" cy="413.26" r="0.4"/><circle cx="74.44" cy="409.07" r="0.4"/><circle cx="76.76" cy="409.88" r="0.4"/><circle cx="76.36" cy="406.63" r="0.4"/><circle cx="78.73" cy="415.68" r="0.4"/><circle cx="75.99" cy="407" r="0.4"/><circle cx="70.07" cy="415.02" r="0.4"/><circle cx="77.78" cy="401.57" r="0.4"/><circle cx="77.08" cy="407.99" r="0.4"/><circle cx="77.97" cy="401.38" r="0.4"/><circle cx="76.96" cy="416.18" r="0.4"/><circle cx="77.53" cy="405.41" r="0.4"/><circle cx="76.69" cy="407.64" r="0.4"/><circle cx="84.39" cy="405.51" r="0.4"/><circle cx="69.23" cy="415.73" r="0.4"/></g>
<polygon points="73.76,418.97 75,418.25 76.17,417.48 77.23,416.65 78.18,415.75 79.01,414.76 79.7,413.68 80.25,412.52 80.69,411.28 81.03,409.98 81.28,408.61 81.46,407.21 81.62,405.79 82.07,404.56 82.51,403.32 79.99,401.68 79.49,402.88 78.97,404.07 78.11,405.03 77.23,405.98 76.32,406.92 75.41,407.85 74.51,408.79 73.62,409.74 72.77,410.71 71.96,411.7 71.2,412.73 70.49,413.8 69.84,414.9 69.24,416.03" fill="#c6daf2" opacity="0.75" filter="url(#bl05)" clip-path="url(#ch6)"/>
<polygon points="72.93,418.43 74.06,417.64 75.13,416.81 76.13,415.94 77.04,415.01 77.86,414.02 78.58,412.96 79.2,411.84 79.72,410.65 80.16,409.41 80.53,408.13 80.85,406.81 81.13,405.47 81.6,404.25 82.05,403.02 80.45,401.98 79.96,403.19 79.45,404.38 78.73,405.43 77.97,406.46 77.18,407.48 76.38,408.48 75.56,409.47 74.74,410.46 73.91,411.45 73.1,412.44 72.31,413.45 71.53,414.47 70.79,415.51 70.07,416.57" fill="#86aade" opacity="0.85" filter="url(#bl03)" clip-path="url(#ch6)"/>
<polygon points="72.13,417.91 73.19,417.07 74.21,416.21 75.17,415.32 76.07,414.38 76.89,413.38 77.63,412.34 78.28,411.24 78.85,410.08 79.34,408.88 79.77,407.64 80.16,406.36 80.51,405.07 80.98,403.85 81.43,402.62 80.33,401.9 79.84,403.11 79.34,404.31 78.68,405.4 77.99,406.48 77.27,407.53 76.52,408.57 75.75,409.59 74.95,410.6 74.15,411.6 73.33,412.6 72.52,413.59 71.71,414.59 70.92,415.6 70.14,416.61" fill="#4a7cc4" opacity="0.85" filter="url(#bl03)" clip-path="url(#ch6)"/>
<polygon points="73.02,418.06 73.86,417.34 74.68,416.61 75.46,415.85 76.21,415.08 76.92,414.27 77.58,413.43 78.19,412.56 78.75,411.66 79.25,410.73 79.72,409.76 80.14,408.77 80.52,407.76 80.87,406.72 81.21,405.67 80.39,405.14 79.88,406.08 79.35,407 78.8,407.9 78.23,408.8 77.63,409.67 77.01,410.54 76.37,411.39 75.72,412.22 75.04,413.05 74.36,413.87 73.67,414.69 72.98,415.51 72.29,416.32 71.6,417.14" fill="#3f9aa2" opacity="0.85" filter="url(#bl03)" clip-path="url(#ch6)"/>
<polygon points="73.43,417.9 74.09,417.29 74.74,416.68 75.38,416.06 75.99,415.42 76.58,414.77 77.15,414.1 77.68,413.41 78.19,412.7 78.66,411.98 79.11,411.23 79.53,410.46 79.91,409.68 80.28,408.88 80.62,408.06 79.82,407.54 79.39,408.3 78.94,409.05 78.47,409.78 77.99,410.5 77.49,411.21 76.97,411.91 76.44,412.6 75.9,413.29 75.34,413.96 74.77,414.63 74.2,415.29 73.62,415.95 73.03,416.61 72.45,417.26" fill="#72b85e" opacity="0.9" filter="url(#bl03)" clip-path="url(#ch6)"/>
<rect x="59.5" y="378.5" width="40" height="40" fill="none" stroke="#707070" stroke-width="1"/>
<polyline points="99.4,416.95 79.5,416.95 91.25,383 99.5,383" stroke="#555" stroke-width="0.7" fill="none"/>
<line x1="85.2" y1="399" x2="89.8" y2="399" stroke="#111" stroke-width="1"/>
<line x1="86.1" y1="400.7" x2="88.9" y2="400.7" stroke="#222" stroke-width="0.8"/>
<line x1="54.75" y1="378.9" x2="56.35" y2="378.9" stroke="#222" stroke-width="1.1"/>
<line x1="54.75" y1="386.84" x2="56.35" y2="386.84" stroke="#222" stroke-width="1.1"/>
<line x1="54.75" y1="394.77" x2="56.35" y2="394.77" stroke="#222" stroke-width="1.1"/>
<line x1="54.75" y1="402.71" x2="56.35" y2="402.71" stroke="#222" stroke-width="1.1"/>
<line x1="54.75" y1="410.65" x2="56.35" y2="410.65" stroke="#222" stroke-width="1.1"/>
<line x1="64.15" y1="422.55" x2="65.05" y2="421.75" stroke="#444" stroke-width="0.7"/>
<line x1="72.21" y1="422.55" x2="73.11" y2="421.75" stroke="#444" stroke-width="0.7"/>
<line x1="80.28" y1="422.55" x2="81.17" y2="421.75" stroke="#444" stroke-width="0.7"/>
<line x1="88.34" y1="422.55" x2="89.24" y2="421.75" stroke="#444" stroke-width="0.7"/>
<line x1="96.4" y1="422.55" x2="97.3" y2="421.75" stroke="#444" stroke-width="0.7"/>
<rect x="111.25" y="377.5" width="41.25" height="41.25" fill="#fff"/>
<g fill="#8aaee0" opacity="0.5" clip-path="url(#ch7)"><circle cx="125.2" cy="417.69" r="0.4"/><circle cx="138.61" cy="405.49" r="0.4"/><circle cx="139.57" cy="408.12" r="0.4"/><circle cx="134.88" cy="404.45" r="0.4"/><circle cx="130.26" cy="417.16" r="0.4"/><circle cx="137.69" cy="406" r="0.4"/><circle cx="132.19" cy="404.37" r="0.4"/><circle cx="127.94" cy="417.69" r="0.4"/><circle cx="130.09" cy="414.69" r="0.4"/><circle cx="127.28" cy="412.65" r="0.4"/><circle cx="132.21" cy="418.77" r="0.4"/><circle cx="134.6" cy="412.55" r="0.4"/><circle cx="132.42" cy="411.91" r="0.4"/><circle cx="133.33" cy="415.83" r="0.4"/><circle cx="136.44" cy="402.23" r="0.4"/><circle cx="127.64" cy="413.26" r="0.4"/><circle cx="132.32" cy="406.05" r="0.4"/><circle cx="129.11" cy="410.66" r="0.4"/><circle cx="135.66" cy="410.05" r="0.4"/><circle cx="133.52" cy="403.96" r="0.4"/><circle cx="136.4" cy="403.48" r="0.4"/><circle cx="131.07" cy="410.61" r="0.4"/><circle cx="135.39" cy="408.36" r="0.4"/><circle cx="126.96" cy="417.23" r="0.4"/><circle cx="129.6" cy="416.63" r="0.4"/><circle cx="140.03" cy="402.46" r="0.4"/><circle cx="138.27" cy="404.18" r="0.4"/><circle cx="140.45" cy="405.34" r="0.4"/><circle cx="133.97" cy="406.77" r="0.4"/><circle cx="125.11" cy="415.89" r="0.4"/><circle cx="135.67" cy="409.29" r="0.4"/><circle cx="136.14" cy="406.3" r="0.4"/><circle cx="134.68" cy="401.37" r="0.4"/><circle cx="130.33" cy="411.41" r="0.4"/><circle cx="128.75" cy="417.47" r="0.4"/><circle cx="131.73" cy="406.81" r="0.4"/><circle cx="138.13" cy="406.76" r="0.4"/><circle cx="132.06" cy="407.26" r="0.4"/><circle cx="130.88" cy="412.17" r="0.4"/><circle cx="127.06" cy="415.62" r="0.4"/><circle cx="123.63" cy="409.85" r="0.4"/><circle cx="131.75" cy="406.13" r="0.4"/><circle cx="132.33" cy="402.78" r="0.4"/><circle cx="130.92" cy="412.53" r="0.4"/><circle cx="138.29" cy="404.88" r="0.4"/><circle cx="132.54" cy="406.79" r="0.4"/><circle cx="133.92" cy="411.05" r="0.4"/><circle cx="135.16" cy="403.45" r="0.4"/><circle cx="135.79" cy="411.88" r="0.4"/><circle cx="131.19" cy="416.58" r="0.4"/><circle cx="140.64" cy="403.86" r="0.4"/><circle cx="130.03" cy="408.92" r="0.4"/><circle cx="126.41" cy="419.09" r="0.4"/><circle cx="133.92" cy="412.41" r="0.4"/><circle cx="137.25" cy="401.84" r="0.4"/><circle cx="126.66" cy="410.13" r="0.4"/><circle cx="129.52" cy="416.02" r="0.4"/><circle cx="125.26" cy="411.43" r="0.4"/><circle cx="133.03" cy="404.71" r="0.4"/><circle cx="129.41" cy="413.75" r="0.4"/></g>
<polygon points="131.1,418.89 132.24,418.12 133.29,417.3 134.22,416.42 135.03,415.48 135.69,414.45 136.2,413.35 136.58,412.18 136.84,410.94 136.99,409.64 137.07,408.31 137.09,406.94 137.09,405.57 137.38,404.35 137.66,403.12 135.34,401.88 134.95,403.05 134.54,404.21 133.8,405.19 133.01,406.15 132.2,407.09 131.37,408.02 130.54,408.95 129.72,409.89 128.94,410.85 128.2,411.84 127.52,412.85 126.91,413.9 126.37,414.99 125.9,416.11" fill="#c6daf2" opacity="0.75" filter="url(#bl05)" clip-path="url(#ch7)"/>
<polygon points="130.15,418.38 131.16,417.54 132.12,416.68 133,415.77 133.77,414.81 134.45,413.79 135.01,412.72 135.47,411.59 135.84,410.4 136.12,409.18 136.33,407.91 136.49,406.62 136.62,405.32 136.94,404.11 137.23,402.89 135.77,402.11 135.39,403.29 135.01,404.46 134.4,405.51 133.76,406.54 133.08,407.56 132.37,408.55 131.64,409.54 130.91,410.53 130.17,411.51 129.45,412.5 128.75,413.51 128.08,414.53 127.45,415.56 126.85,416.62" fill="#86aade" opacity="0.85" filter="url(#bl03)" clip-path="url(#ch7)"/>
<polygon points="129.22,417.88 130.17,417.02 131.08,416.12 131.92,415.2 132.69,414.23 133.37,413.22 133.96,412.16 134.47,411.05 134.88,409.9 135.23,408.7 135.51,407.48 135.75,406.23 135.95,404.96 136.28,403.76 136.59,402.55 135.57,402 135.21,403.19 134.83,404.36 134.3,405.45 133.73,406.53 133.12,407.58 132.48,408.61 131.8,409.63 131.11,410.64 130.4,411.63 129.69,412.63 128.98,413.63 128.28,414.63 127.59,415.64 126.93,416.66" fill="#4a7cc4" opacity="0.85" filter="url(#bl03)" clip-path="url(#ch7)"/>
<polygon points="130.17,418.01 130.92,417.26 131.64,416.51 132.33,415.73 132.98,414.93 133.58,414.11 134.12,413.26 134.62,412.38 135.06,411.48 135.45,410.54 135.79,409.58 136.09,408.6 136.36,407.6 136.59,406.58 136.81,405.56 136.02,405.14 135.62,406.06 135.2,406.98 134.75,407.88 134.27,408.77 133.76,409.64 133.24,410.5 132.68,411.35 132.12,412.19 131.53,413.02 130.94,413.85 130.34,414.67 129.74,415.49 129.14,416.31 128.55,417.14" fill="#3f9aa2" opacity="0.85" filter="url(#bl03)" clip-path="url(#ch7)"/>
<polygon points="130.57,417.83 131.16,417.21 131.73,416.58 132.29,415.94 132.82,415.29 133.33,414.62 133.8,413.94 134.25,413.25 134.67,412.53 135.05,411.8 135.41,411.05 135.73,410.29 136.02,409.51 136.29,408.72 136.53,407.91 135.74,407.49 135.39,408.24 135.02,408.98 134.64,409.71 134.23,410.43 133.81,411.14 133.37,411.84 132.91,412.53 132.44,413.22 131.96,413.9 131.47,414.57 130.97,415.24 130.46,415.91 129.96,416.57 129.45,417.24" fill="#72b85e" opacity="0.9" filter="url(#bl03)" clip-path="url(#ch7)"/>
<rect x="111.5" y="378.5" width="40" height="40" fill="none" stroke="#707070" stroke-width="1"/>
<polyline points="151.9,416.95 132.5,416.95 142.5,383.75 152.5,383.75" stroke="#555" stroke-width="0.7" fill="none"/>
<line x1="140.7" y1="400" x2="145.3" y2="400" stroke="#111" stroke-width="1"/>
<line x1="141.6" y1="401.7" x2="144.4" y2="401.7" stroke="#222" stroke-width="0.8"/>
<line x1="107.25" y1="378.4" x2="108.85" y2="378.4" stroke="#222" stroke-width="1.1"/>
<line x1="107.25" y1="386.46" x2="108.85" y2="386.46" stroke="#222" stroke-width="1.1"/>
<line x1="107.25" y1="394.52" x2="108.85" y2="394.52" stroke="#222" stroke-width="1.1"/>
<line x1="107.25" y1="402.59" x2="108.85" y2="402.59" stroke="#222" stroke-width="1.1"/>
<line x1="107.25" y1="410.65" x2="108.85" y2="410.65" stroke="#222" stroke-width="1.1"/>
<line x1="116.65" y1="422.55" x2="117.55" y2="421.75" stroke="#444" stroke-width="0.7"/>
<line x1="124.71" y1="422.55" x2="125.61" y2="421.75" stroke="#444" stroke-width="0.7"/>
<line x1="132.78" y1="422.55" x2="133.68" y2="421.75" stroke="#444" stroke-width="0.7"/>
<line x1="140.84" y1="422.55" x2="141.74" y2="421.75" stroke="#444" stroke-width="0.7"/>
<line x1="148.9" y1="422.55" x2="149.8" y2="421.75" stroke="#444" stroke-width="0.7"/>
<rect x="162.7" y="377.4" width="42.7" height="42.2" fill="#fff"/>
<g fill="#8aaee0" opacity="0.5" clip-path="url(#ch8)"><circle cx="180.1" cy="409.81" r="0.4"/><circle cx="173.18" cy="410.27" r="0.4"/><circle cx="179.02" cy="414.27" r="0.4"/><circle cx="181.71" cy="404.69" r="0.4"/><circle cx="178.95" cy="411.21" r="0.4"/><circle cx="177.1" cy="408.92" r="0.4"/><circle cx="187.96" cy="384.07" r="0.4"/><circle cx="183.03" cy="401.09" r="0.4"/><circle cx="180.19" cy="405.45" r="0.4"/><circle cx="179.14" cy="412.01" r="0.4"/><circle cx="187.32" cy="384.11" r="0.4"/><circle cx="188.96" cy="384.86" r="0.4"/><circle cx="181.56" cy="409.8" r="0.4"/><circle cx="180.52" cy="396.28" r="0.4"/><circle cx="182.12" cy="401.17" r="0.4"/><circle cx="189.69" cy="386.05" r="0.4"/><circle cx="179.36" cy="409.16" r="0.4"/><circle cx="183.94" cy="384.92" r="0.4"/><circle cx="179.33" cy="394.37" r="0.4"/><circle cx="185.54" cy="390.76" r="0.4"/><circle cx="191.39" cy="387.88" r="0.4"/><circle cx="184.76" cy="382.18" r="0.4"/><circle cx="184" cy="393.83" r="0.4"/><circle cx="183.13" cy="409.86" r="0.4"/><circle cx="184.33" cy="402.82" r="0.4"/><circle cx="180.33" cy="410.77" r="0.4"/><circle cx="184.14" cy="392.58" r="0.4"/><circle cx="180.34" cy="402.23" r="0.4"/><circle cx="182.32" cy="400.49" r="0.4"/><circle cx="180.64" cy="404.84" r="0.4"/><circle cx="176.71" cy="412.39" r="0.4"/><circle cx="184.48" cy="404.95" r="0.4"/><circle cx="181.46" cy="401.86" r="0.4"/><circle cx="181.22" cy="410.04" r="0.4"/><circle cx="178.98" cy="408.34" r="0.4"/><circle cx="183.08" cy="399.4" r="0.4"/><circle cx="183.69" cy="392.78" r="0.4"/><circle cx="182.2" cy="402.67" r="0.4"/><circle cx="181.82" cy="411.67" r="0.4"/><circle cx="183.57" cy="401.09" r="0.4"/><circle cx="183.03" cy="416.43" r="0.4"/><circle cx="189.5" cy="388.53" r="0.4"/><circle cx="179.36" cy="398.57" r="0.4"/><circle cx="187.23" cy="394.18" r="0.4"/><circle cx="189.92" cy="388.72" r="0.4"/><circle cx="184.31" cy="403.85" r="0.4"/><circle cx="187.73" cy="383.08" r="0.4"/><circle cx="183.38" cy="398.29" r="0.4"/><circle cx="180.5" cy="397.22" r="0.4"/><circle cx="178.86" cy="402.84" r="0.4"/><circle cx="180.02" cy="399.86" r="0.4"/><circle cx="179.42" cy="403.45" r="0.4"/><circle cx="186.18" cy="390.38" r="0.4"/><circle cx="181.26" cy="402.2" r="0.4"/><circle cx="184.55" cy="384.43" r="0.4"/><circle cx="184.07" cy="402.73" r="0.4"/><circle cx="188.43" cy="400.09" r="0.4"/><circle cx="183.4" cy="397" r="0.4"/><circle cx="178.96" cy="409.91" r="0.4"/><circle cx="178.16" cy="410.11" r="0.4"/></g>
<polygon points="179.87,416.09 181.15,414 182.37,411.9 183.51,409.77 184.54,407.61 185.46,405.4 186.24,403.16 186.9,400.88 187.42,398.55 187.82,396.19 188.12,393.8 188.34,391.37 188.5,388.94 188.97,386.6 189.43,384.25 186.57,383.35 186.11,385.69 185.64,388.03 184.81,390.26 183.96,392.48 183.1,394.7 182.24,396.92 181.39,399.14 180.56,401.37 179.75,403.6 178.96,405.84 178.21,408.1 177.48,410.36 176.79,412.63 176.13,414.91" fill="#c6daf2" opacity="0.75" filter="url(#bl05)" clip-path="url(#ch8)"/>
<polygon points="179.19,415.87 180.35,413.75 181.47,411.62 182.53,409.46 183.52,407.28 184.41,405.07 185.2,402.83 185.89,400.56 186.47,398.25 186.95,395.92 187.35,393.55 187.69,391.17 187.97,388.77 188.45,386.43 188.91,384.09 187.09,383.51 186.63,385.86 186.16,388.2 185.45,390.47 184.72,392.72 183.97,394.98 183.19,397.22 182.4,399.46 181.6,401.7 180.79,403.93 179.98,406.17 179.18,408.4 178.38,410.64 177.59,412.88 176.81,415.13" fill="#86aade" opacity="0.85" filter="url(#bl03)" clip-path="url(#ch8)"/>
<polygon points="178.52,415.66 179.62,413.52 180.69,411.37 181.72,409.2 182.67,407.02 183.55,404.8 184.35,402.56 185.05,400.3 185.66,398 186.19,395.68 186.65,393.33 187.04,390.97 187.39,388.59 187.86,386.25 188.32,383.9 187.07,383.51 186.61,385.85 186.13,388.19 185.49,390.48 184.82,392.75 184.12,395.02 183.39,397.28 182.63,399.53 181.85,401.78 181.04,404.01 180.22,406.24 179.39,408.47 178.55,410.69 177.71,412.92 176.87,415.14" fill="#4a7cc4" opacity="0.85" filter="url(#bl03)" clip-path="url(#ch8)"/>
<polygon points="179.32,415.22 180.2,413.43 181.05,411.63 181.89,409.83 182.68,408.01 183.43,406.18 184.13,404.34 184.78,402.48 185.37,400.6 185.91,398.7 186.4,396.79 186.84,394.86 187.23,392.92 187.59,390.96 187.92,389 187.04,388.72 186.54,390.63 186.03,392.54 185.49,394.43 184.92,396.32 184.33,398.2 183.72,400.08 183.08,401.94 182.41,403.8 181.73,405.65 181.03,407.49 180.32,409.34 179.6,411.17 178.87,413.01 178.14,414.85" fill="#3f9aa2" opacity="0.85" filter="url(#bl03)" clip-path="url(#ch8)"/>
<polygon points="179.72,414.65 180.41,413.17 181.1,411.7 181.77,410.21 182.41,408.73 183.04,407.23 183.63,405.73 184.2,404.21 184.73,402.69 185.23,401.15 185.7,399.61 186.14,398.05 186.54,396.48 186.91,394.91 187.26,393.32 186.43,393.07 186.01,394.62 185.57,396.18 185.1,397.72 184.62,399.26 184.12,400.8 183.6,402.33 183.05,403.85 182.5,405.37 181.92,406.88 181.33,408.39 180.74,409.89 180.13,411.39 179.51,412.89 178.9,414.39" fill="#72b85e" opacity="0.9" filter="url(#bl03)" clip-path="url(#ch8)"/>
<rect x="163.5" y="377.5" width="41" height="42" fill="none" stroke="#707070" stroke-width="1"/>
<polyline points="204.8,417.8 182.3,417.8 191.5,380.4 205.4,380.4" stroke="#555" stroke-width="0.7" fill="none"/>
<line x1="194.2" y1="399" x2="198.8" y2="399" stroke="#111" stroke-width="1"/>
<line x1="195.1" y1="400.7" x2="197.9" y2="400.7" stroke="#222" stroke-width="0.8"/>
<line x1="158.7" y1="378.3" x2="160.3" y2="378.3" stroke="#222" stroke-width="1.1"/>
<line x1="158.7" y1="386.6" x2="160.3" y2="386.6" stroke="#222" stroke-width="1.1"/>
<line x1="158.7" y1="394.9" x2="160.3" y2="394.9" stroke="#222" stroke-width="1.1"/>
<line x1="158.7" y1="403.2" x2="160.3" y2="403.2" stroke="#222" stroke-width="1.1"/>
<line x1="158.7" y1="411.5" x2="160.3" y2="411.5" stroke="#222" stroke-width="1.1"/>
<line x1="168.1" y1="423.4" x2="169" y2="422.6" stroke="#444" stroke-width="0.7"/>
<line x1="176.53" y1="423.4" x2="177.43" y2="422.6" stroke="#444" stroke-width="0.7"/>
<line x1="184.95" y1="423.4" x2="185.85" y2="422.6" stroke="#444" stroke-width="0.7"/>
<line x1="193.38" y1="423.4" x2="194.28" y2="422.6" stroke="#444" stroke-width="0.7"/>
<line x1="201.8" y1="423.4" x2="202.7" y2="422.6" stroke="#444" stroke-width="0.7"/>
<rect x="213.5" y="378" width="40.4" height="41.6" fill="#fff"/>
<g fill="#8aaee0" opacity="0.5" clip-path="url(#ch9)"><circle cx="236.27" cy="400.59" r="0.4"/><circle cx="238.28" cy="397.52" r="0.4"/><circle cx="234.02" cy="400.65" r="0.4"/><circle cx="237.75" cy="396.26" r="0.4"/><circle cx="234.35" cy="410.69" r="0.4"/><circle cx="237.08" cy="396.87" r="0.4"/><circle cx="235.57" cy="405.19" r="0.4"/><circle cx="237.94" cy="399.04" r="0.4"/><circle cx="236.71" cy="409.24" r="0.4"/><circle cx="232.92" cy="408.46" r="0.4"/><circle cx="242.05" cy="393.09" r="0.4"/><circle cx="235.75" cy="412.68" r="0.4"/><circle cx="232.59" cy="406.18" r="0.4"/><circle cx="234.32" cy="414.89" r="0.4"/><circle cx="236.97" cy="410.3" r="0.4"/><circle cx="234.74" cy="402.9" r="0.4"/><circle cx="237.85" cy="393.69" r="0.4"/><circle cx="229.67" cy="410.86" r="0.4"/><circle cx="241.16" cy="395.56" r="0.4"/><circle cx="238.97" cy="391.43" r="0.4"/><circle cx="232.69" cy="414.58" r="0.4"/><circle cx="239.52" cy="396.85" r="0.4"/><circle cx="231.57" cy="410.02" r="0.4"/><circle cx="236.41" cy="402.43" r="0.4"/><circle cx="241.9" cy="396.19" r="0.4"/><circle cx="237.06" cy="411.02" r="0.4"/><circle cx="234.85" cy="408.3" r="0.4"/><circle cx="236.23" cy="393.01" r="0.4"/><circle cx="232.01" cy="408.17" r="0.4"/><circle cx="241.07" cy="389.81" r="0.4"/><circle cx="245.11" cy="393.98" r="0.4"/><circle cx="236.9" cy="403.56" r="0.4"/><circle cx="237.04" cy="403.58" r="0.4"/><circle cx="239.09" cy="395.97" r="0.4"/><circle cx="229.85" cy="418.54" r="0.4"/><circle cx="237.01" cy="398.1" r="0.4"/><circle cx="235.36" cy="411.6" r="0.4"/><circle cx="232.48" cy="403.51" r="0.4"/><circle cx="233.96" cy="404.65" r="0.4"/><circle cx="238.7" cy="396.77" r="0.4"/><circle cx="236.6" cy="399.3" r="0.4"/><circle cx="240.57" cy="404.69" r="0.4"/><circle cx="237.56" cy="398.51" r="0.4"/><circle cx="235.75" cy="405.55" r="0.4"/><circle cx="238.06" cy="402.8" r="0.4"/><circle cx="232.44" cy="391.83" r="0.4"/><circle cx="237.98" cy="395.76" r="0.4"/><circle cx="239.79" cy="408.53" r="0.4"/><circle cx="239.82" cy="393.68" r="0.4"/><circle cx="234.48" cy="404.06" r="0.4"/><circle cx="229.99" cy="405.79" r="0.4"/><circle cx="243.36" cy="400.5" r="0.4"/><circle cx="234.37" cy="410.39" r="0.4"/><circle cx="233.91" cy="400.66" r="0.4"/><circle cx="234.07" cy="407.55" r="0.4"/><circle cx="235.72" cy="397.36" r="0.4"/><circle cx="241.12" cy="392.16" r="0.4"/><circle cx="236.73" cy="394.06" r="0.4"/><circle cx="241.63" cy="394.94" r="0.4"/><circle cx="237.98" cy="394.05" r="0.4"/></g>
<polygon points="234.81,417.32 236.03,415.77 237.17,414.2 238.2,412.59 239.12,410.93 239.9,409.23 240.54,407.48 241.04,405.68 241.41,403.83 241.65,401.94 241.8,400.02 241.88,398.07 241.91,396.11 242.27,394.26 242.61,392.4 239.79,391.4 239.39,393.24 238.98,395.07 238.2,396.77 237.4,398.46 236.57,400.15 235.74,401.83 234.92,403.52 234.12,405.21 233.35,406.92 232.62,408.63 231.94,410.37 231.3,412.12 230.72,413.89 230.19,415.68" fill="#c6daf2" opacity="0.75" filter="url(#bl05)" clip-path="url(#ch9)"/>
<polygon points="233.97,417.02 235.05,415.43 236.09,413.82 237.05,412.18 237.93,410.51 238.7,408.81 239.37,407.07 239.92,405.29 240.37,403.47 240.72,401.62 240.99,399.73 241.2,397.83 241.38,395.92 241.74,394.07 242.1,392.22 240.3,391.58 239.92,393.42 239.52,395.26 238.88,397.01 238.2,398.75 237.5,400.48 236.78,402.2 236.04,403.91 235.3,405.63 234.55,407.34 233.81,409.06 233.08,410.78 232.38,412.5 231.69,414.24 231.03,415.98" fill="#86aade" opacity="0.85" filter="url(#bl03)" clip-path="url(#ch9)"/>
<polygon points="233.14,416.73 234.16,415.11 235.15,413.48 236.07,411.83 236.92,410.16 237.69,408.45 238.37,406.71 238.95,404.94 239.44,403.14 239.85,401.31 240.19,399.45 240.47,397.57 240.72,395.68 241.09,393.84 241.45,391.99 240.2,391.55 239.82,393.39 239.43,395.23 238.86,397 238.25,398.77 237.62,400.52 236.95,402.26 236.26,403.99 235.54,405.71 234.81,407.43 234.06,409.14 233.31,410.86 232.57,412.57 231.83,414.29 231.1,416.01" fill="#4a7cc4" opacity="0.85" filter="url(#bl03)" clip-path="url(#ch9)"/>
<polygon points="234.03,416.49 234.84,415.13 235.62,413.77 236.37,412.39 237.09,411 237.75,409.6 238.36,408.17 238.92,406.73 239.42,405.27 239.87,403.78 240.26,402.28 240.61,400.76 240.91,399.23 241.18,397.69 241.42,396.13 240.52,395.81 240.09,397.3 239.64,398.78 239.16,400.25 238.66,401.72 238.13,403.17 237.57,404.61 237,406.05 236.4,407.48 235.78,408.9 235.16,410.32 234.52,411.74 233.87,413.15 233.23,414.56 232.59,415.98" fill="#3f9aa2" opacity="0.85" filter="url(#bl03)" clip-path="url(#ch9)"/>
<polygon points="234.43,416.08 235.07,414.96 235.69,413.83 236.29,412.7 236.88,411.56 237.43,410.42 237.96,409.26 238.45,408.09 238.92,406.91 239.35,405.72 239.74,404.51 240.1,403.29 240.44,402.07 240.74,400.83 241.01,399.58 240.14,399.28 239.77,400.49 239.38,401.7 238.98,402.9 238.55,404.09 238.1,405.27 237.63,406.45 237.15,407.63 236.65,408.79 236.13,409.96 235.61,411.11 235.07,412.27 234.53,413.42 233.98,414.57 233.43,415.72" fill="#72b85e" opacity="0.9" filter="url(#bl03)" clip-path="url(#ch9)"/>
<rect x="214.5" y="378.5" width="39" height="41" fill="none" stroke="#707070" stroke-width="1"/>
<polyline points="253.3,417.8 232,417.8 240,381 253.9,381" stroke="#555" stroke-width="0.7" fill="none"/>
<line x1="244.2" y1="398.5" x2="248.8" y2="398.5" stroke="#111" stroke-width="1"/>
<line x1="245.1" y1="400.2" x2="247.9" y2="400.2" stroke="#222" stroke-width="0.8"/>
<line x1="209.5" y1="378.9" x2="211.1" y2="378.9" stroke="#222" stroke-width="1.1"/>
<line x1="209.5" y1="387.05" x2="211.1" y2="387.05" stroke="#222" stroke-width="1.1"/>
<line x1="209.5" y1="395.2" x2="211.1" y2="395.2" stroke="#222" stroke-width="1.1"/>
<line x1="209.5" y1="403.35" x2="211.1" y2="403.35" stroke="#222" stroke-width="1.1"/>
<line x1="209.5" y1="411.5" x2="211.1" y2="411.5" stroke="#222" stroke-width="1.1"/>
<line x1="218.9" y1="423.4" x2="219.8" y2="422.6" stroke="#444" stroke-width="0.7"/>
<line x1="226.75" y1="423.4" x2="227.65" y2="422.6" stroke="#444" stroke-width="0.7"/>
<line x1="234.6" y1="423.4" x2="235.5" y2="422.6" stroke="#444" stroke-width="0.7"/>
<line x1="242.45" y1="423.4" x2="243.35" y2="422.6" stroke="#444" stroke-width="0.7"/>
<line x1="250.3" y1="423.4" x2="251.2" y2="422.6" stroke="#444" stroke-width="0.7"/>
<rect x="264.3" y="375.1" width="44" height="44" fill="#fff"/>
<g fill="#8aaee0" opacity="0.5" clip-path="url(#ch10)"><circle cx="285.95" cy="393.47" r="0.4"/><circle cx="281.05" cy="408.12" r="0.4"/><circle cx="295.69" cy="393.56" r="0.4"/><circle cx="283.68" cy="392.39" r="0.4"/><circle cx="282.37" cy="405" r="0.4"/><circle cx="280.84" cy="406.09" r="0.4"/><circle cx="283.67" cy="408.11" r="0.4"/><circle cx="282.39" cy="403.16" r="0.4"/><circle cx="276.3" cy="419.72" r="0.4"/><circle cx="278.21" cy="411.82" r="0.4"/><circle cx="281.28" cy="408.11" r="0.4"/><circle cx="286.81" cy="393.09" r="0.4"/><circle cx="280.77" cy="415.11" r="0.4"/><circle cx="283.63" cy="397.82" r="0.4"/><circle cx="295.88" cy="389.96" r="0.4"/><circle cx="280.39" cy="400.93" r="0.4"/><circle cx="288.21" cy="389.92" r="0.4"/><circle cx="282.42" cy="399.78" r="0.4"/><circle cx="291.39" cy="394.65" r="0.4"/><circle cx="281.97" cy="408.81" r="0.4"/><circle cx="279.32" cy="416.87" r="0.4"/><circle cx="290.1" cy="389.99" r="0.4"/><circle cx="281.04" cy="405.07" r="0.4"/><circle cx="286.48" cy="397.54" r="0.4"/><circle cx="284.75" cy="398.96" r="0.4"/><circle cx="278.54" cy="415.92" r="0.4"/><circle cx="288.27" cy="388.13" r="0.4"/><circle cx="284.19" cy="405.49" r="0.4"/><circle cx="286.77" cy="404.28" r="0.4"/><circle cx="284.57" cy="392.69" r="0.4"/><circle cx="282.43" cy="400.31" r="0.4"/><circle cx="284.16" cy="404.29" r="0.4"/><circle cx="280" cy="401.15" r="0.4"/><circle cx="279.81" cy="407.99" r="0.4"/><circle cx="277.88" cy="413.96" r="0.4"/><circle cx="278.38" cy="412.35" r="0.4"/><circle cx="285.17" cy="399.08" r="0.4"/><circle cx="285.46" cy="405.22" r="0.4"/><circle cx="286.45" cy="398.14" r="0.4"/><circle cx="279.15" cy="411.9" r="0.4"/><circle cx="289" cy="388.99" r="0.4"/><circle cx="284.54" cy="405.64" r="0.4"/><circle cx="291.46" cy="389.31" r="0.4"/><circle cx="282" cy="410.64" r="0.4"/><circle cx="287.95" cy="403.68" r="0.4"/><circle cx="285.64" cy="399.23" r="0.4"/><circle cx="286.67" cy="396.15" r="0.4"/><circle cx="291.35" cy="400.64" r="0.4"/><circle cx="283.97" cy="395.59" r="0.4"/><circle cx="274.91" cy="414.55" r="0.4"/><circle cx="283.22" cy="415.93" r="0.4"/><circle cx="284.49" cy="401.55" r="0.4"/><circle cx="291.19" cy="386.22" r="0.4"/><circle cx="281.94" cy="400.24" r="0.4"/><circle cx="286.25" cy="389.29" r="0.4"/><circle cx="277.89" cy="410.04" r="0.4"/><circle cx="290.04" cy="400.13" r="0.4"/><circle cx="286.44" cy="406.99" r="0.4"/><circle cx="284.46" cy="397.69" r="0.4"/><circle cx="286.27" cy="398.26" r="0.4"/></g>
<polygon points="281.04,418.91 282.47,416.91 283.82,414.88 285.06,412.81 286.17,410.69 287.14,408.52 287.96,406.3 288.62,404.02 289.15,401.7 289.55,399.32 289.84,396.91 290.06,394.48 290.23,392.02 290.76,389.7 291.29,387.37 288.11,386.23 287.54,388.54 286.95,390.84 285.95,393 284.93,395.15 283.89,397.29 282.85,399.44 281.83,401.59 280.84,403.75 279.89,405.92 278.99,408.11 278.15,410.33 277.36,412.56 276.63,414.81 275.96,417.09" fill="#c6daf2" opacity="0.75" filter="url(#bl05)" clip-path="url(#ch10)"/>
<polygon points="280.11,418.58 281.4,416.52 282.63,414.45 283.79,412.35 284.86,410.22 285.81,408.05 286.65,405.83 287.38,403.58 287.99,401.28 288.51,398.95 288.94,396.59 289.3,394.21 289.63,391.81 290.17,389.49 290.71,387.16 288.69,386.44 288.13,388.75 287.55,391.06 286.7,393.27 285.83,395.47 284.93,397.67 284.01,399.85 283.08,402.03 282.15,404.21 281.22,406.4 280.31,408.59 279.42,410.78 278.55,412.98 277.7,415.2 276.89,417.42" fill="#86aade" opacity="0.85" filter="url(#bl03)" clip-path="url(#ch10)"/>
<polygon points="279.2,418.25 280.42,416.17 281.6,414.08 282.71,411.96 283.75,409.82 284.7,407.65 285.55,405.44 286.31,403.19 286.97,400.92 287.55,398.61 288.05,396.27 288.49,393.91 288.9,391.54 289.45,389.22 289.98,386.9 288.59,386.4 288.03,388.72 287.45,391.03 286.69,393.27 285.89,395.49 285.06,397.71 284.2,399.92 283.32,402.12 282.42,404.31 281.51,406.5 280.59,408.69 279.67,410.87 278.76,413.06 277.85,415.25 276.97,417.45" fill="#4a7cc4" opacity="0.85" filter="url(#bl03)" clip-path="url(#ch10)"/>
<polygon points="280.21,417.91 281.17,416.17 282.11,414.42 283.02,412.65 283.88,410.88 284.7,409.08 285.46,407.27 286.16,405.43 286.81,403.57 287.4,401.7 287.94,399.8 288.42,397.89 288.87,395.96 289.27,394.02 289.66,392.07 288.65,391.71 288.06,393.58 287.45,395.45 286.81,397.31 286.15,399.16 285.47,401 284.76,402.84 284.04,404.67 283.29,406.49 282.53,408.3 281.75,410.11 280.97,411.92 280.19,413.72 279.4,415.53 278.62,417.34" fill="#3f9aa2" opacity="0.85" filter="url(#bl03)" clip-path="url(#ch10)"/>
<polygon points="280.68,417.37 281.44,415.93 282.18,414.49 282.91,413.04 283.62,411.59 284.3,410.12 284.95,408.64 285.56,407.15 286.15,405.65 286.7,404.14 287.21,402.61 287.69,401.07 288.14,399.52 288.56,397.96 288.95,396.39 287.98,396.05 287.49,397.58 286.97,399.1 286.44,400.62 285.89,402.14 285.31,403.64 284.72,405.14 284.12,406.63 283.5,408.12 282.86,409.6 282.22,411.08 281.56,412.56 280.9,414.03 280.24,415.5 279.57,416.98" fill="#72b85e" opacity="0.9" filter="url(#bl03)" clip-path="url(#ch10)"/>
<rect x="264.5" y="375.5" width="43" height="43" fill="none" stroke="#707070" stroke-width="1"/>
<polyline points="307.7,417.3 285,417.3 294,382.5 308.3,382.5" stroke="#555" stroke-width="0.7" fill="none"/>
<line x1="297.2" y1="399.5" x2="301.8" y2="399.5" stroke="#111" stroke-width="1"/>
<line x1="298.1" y1="401.2" x2="300.9" y2="401.2" stroke="#222" stroke-width="0.8"/>
<line x1="260.3" y1="376" x2="261.9" y2="376" stroke="#222" stroke-width="1.1"/>
<line x1="260.3" y1="384.75" x2="261.9" y2="384.75" stroke="#222" stroke-width="1.1"/>
<line x1="260.3" y1="393.5" x2="261.9" y2="393.5" stroke="#222" stroke-width="1.1"/>
<line x1="260.3" y1="402.25" x2="261.9" y2="402.25" stroke="#222" stroke-width="1.1"/>
<line x1="260.3" y1="411" x2="261.9" y2="411" stroke="#222" stroke-width="1.1"/>
<line x1="269.7" y1="422.9" x2="270.6" y2="422.1" stroke="#444" stroke-width="0.7"/>
<line x1="278.45" y1="422.9" x2="279.35" y2="422.1" stroke="#444" stroke-width="0.7"/>
<line x1="287.2" y1="422.9" x2="288.1" y2="422.1" stroke="#444" stroke-width="0.7"/>
<line x1="295.95" y1="422.9" x2="296.85" y2="422.1" stroke="#444" stroke-width="0.7"/>
<line x1="304.7" y1="422.9" x2="305.6" y2="422.1" stroke="#444" stroke-width="0.7"/>
<rect x="318.3" y="379.3" width="39.1" height="40.7" fill="#fff"/>
<g fill="#8aaee0" opacity="0.5" clip-path="url(#ch11)"><circle cx="341.45" cy="411.86" r="0.4"/><circle cx="339.46" cy="412.68" r="0.4"/><circle cx="332.21" cy="413.14" r="0.4"/><circle cx="344.84" cy="406.56" r="0.4"/><circle cx="338.75" cy="412" r="0.4"/><circle cx="334.42" cy="414.86" r="0.4"/><circle cx="343.21" cy="408.92" r="0.4"/><circle cx="343.03" cy="396.72" r="0.4"/><circle cx="349.97" cy="395.19" r="0.4"/><circle cx="333.67" cy="399.49" r="0.4"/><circle cx="334.76" cy="410.46" r="0.4"/><circle cx="346.62" cy="394.01" r="0.4"/><circle cx="342.53" cy="403.77" r="0.4"/><circle cx="340.37" cy="411.86" r="0.4"/><circle cx="339.71" cy="413.82" r="0.4"/><circle cx="344.95" cy="408.75" r="0.4"/><circle cx="342.53" cy="408.21" r="0.4"/><circle cx="342.12" cy="410.13" r="0.4"/><circle cx="344.56" cy="394.24" r="0.4"/><circle cx="350.66" cy="396.96" r="0.4"/><circle cx="339.25" cy="406.45" r="0.4"/><circle cx="344.69" cy="407.03" r="0.4"/><circle cx="348.18" cy="393.67" r="0.4"/><circle cx="341.06" cy="398.11" r="0.4"/><circle cx="332.5" cy="414.6" r="0.4"/><circle cx="338.25" cy="413.54" r="0.4"/><circle cx="346.92" cy="406.56" r="0.4"/><circle cx="346.07" cy="407.54" r="0.4"/><circle cx="341.12" cy="409.02" r="0.4"/><circle cx="346.85" cy="399.92" r="0.4"/><circle cx="344.46" cy="410.28" r="0.4"/><circle cx="337.27" cy="398.22" r="0.4"/><circle cx="337.56" cy="395.33" r="0.4"/><circle cx="342.19" cy="413.99" r="0.4"/><circle cx="338.93" cy="417.89" r="0.4"/><circle cx="341.23" cy="409.79" r="0.4"/><circle cx="329.78" cy="405.76" r="0.4"/><circle cx="343.35" cy="408.59" r="0.4"/><circle cx="349.01" cy="402.53" r="0.4"/><circle cx="341.27" cy="399.11" r="0.4"/><circle cx="335.97" cy="411.76" r="0.4"/><circle cx="339.02" cy="403.38" r="0.4"/><circle cx="347.03" cy="394.92" r="0.4"/><circle cx="327.41" cy="405.66" r="0.4"/><circle cx="342.92" cy="394.39" r="0.4"/><circle cx="346.05" cy="395.71" r="0.4"/><circle cx="343.94" cy="404.37" r="0.4"/><circle cx="346.58" cy="404.23" r="0.4"/><circle cx="338.32" cy="388.79" r="0.4"/><circle cx="335.2" cy="398.53" r="0.4"/><circle cx="343.79" cy="393.83" r="0.4"/><circle cx="337.57" cy="407.04" r="0.4"/><circle cx="334.41" cy="414.11" r="0.4"/><circle cx="345.31" cy="407.83" r="0.4"/><circle cx="338.99" cy="412.34" r="0.4"/><circle cx="339.56" cy="401.28" r="0.4"/><circle cx="335.67" cy="401.56" r="0.4"/><circle cx="328.86" cy="413.87" r="0.4"/><circle cx="341.33" cy="404.17" r="0.4"/><circle cx="348.37" cy="396.69" r="0.4"/></g>
<polygon points="338.87,419.55 340.32,418.06 341.62,416.51 342.77,414.89 343.73,413.2 344.49,411.44 345.07,409.6 345.47,407.69 345.71,405.71 345.84,403.69 345.87,401.63 345.85,399.56 345.82,397.47 346.2,395.55 346.57,393.63 343.43,392.37 342.87,394.22 342.29,396.06 341.25,397.71 340.16,399.35 339.03,400.97 337.89,402.58 336.76,404.2 335.68,405.84 334.66,407.51 333.73,409.21 332.91,410.95 332.2,412.74 331.61,414.57 331.13,416.45" fill="#c6daf2" opacity="0.75" filter="url(#bl05)" clip-path="url(#ch11)"/>
<polygon points="337.45,418.98 338.72,417.42 339.9,415.82 340.96,414.17 341.89,412.47 342.69,410.72 343.35,408.91 343.87,407.05 344.28,405.14 344.59,403.19 344.82,401.21 345.01,399.22 345.17,397.21 345.59,395.31 345.99,393.4 344.01,392.6 343.48,394.46 342.94,396.32 342.09,398.05 341.2,399.77 340.28,401.47 339.32,403.16 338.36,404.84 337.4,406.53 336.46,408.23 335.56,409.94 334.72,411.67 333.93,413.43 333.2,415.21 332.55,417.02" fill="#86aade" opacity="0.85" filter="url(#bl03)" clip-path="url(#ch11)"/>
<polygon points="336.07,418.43 337.25,416.83 338.35,415.2 339.38,413.54 340.3,411.83 341.11,410.09 341.81,408.29 342.4,406.46 342.89,404.59 343.3,402.68 343.64,400.74 343.93,398.79 344.2,396.82 344.64,394.93 345.06,393.02 343.68,392.47 343.17,394.34 342.65,396.2 341.91,397.98 341.13,399.74 340.3,401.48 339.45,403.21 338.57,404.93 337.67,406.64 336.78,408.36 335.9,410.07 335.04,411.8 334.21,413.54 333.41,415.29 332.66,417.07" fill="#4a7cc4" opacity="0.85" filter="url(#bl03)" clip-path="url(#ch11)"/>
<polygon points="337.42,418.39 338.33,417.03 339.21,415.67 340.04,414.28 340.82,412.87 341.54,411.44 342.2,409.98 342.79,408.5 343.32,406.99 343.79,405.46 344.21,403.91 344.58,402.34 344.91,400.75 345.21,399.15 345.5,397.55 344.41,397.11 343.86,398.61 343.28,400.1 342.67,401.58 342.03,403.04 341.37,404.5 340.69,405.94 339.99,407.38 339.27,408.81 338.55,410.24 337.83,411.67 337.11,413.1 336.39,414.54 335.69,415.98 335.01,417.42" fill="#3f9aa2" opacity="0.85" filter="url(#bl03)" clip-path="url(#ch11)"/>
<polygon points="337.95,418.02 338.66,416.9 339.35,415.76 340.02,414.62 340.66,413.47 341.27,412.31 341.85,411.13 342.39,409.93 342.89,408.73 343.36,407.51 343.79,406.27 344.18,405.02 344.55,403.76 344.89,402.48 345.2,401.2 344.07,400.75 343.61,401.97 343.13,403.19 342.63,404.4 342.1,405.6 341.57,406.79 341.01,407.98 340.44,409.16 339.86,410.33 339.27,411.51 338.68,412.68 338.08,413.85 337.48,415.01 336.88,416.18 336.29,417.35" fill="#72b85e" opacity="0.9" filter="url(#bl03)" clip-path="url(#ch11)"/>
<rect x="318.5" y="379.5" width="38" height="40" fill="none" stroke="#707070" stroke-width="1"/>
<polyline points="356.8,418.2 336.5,418.2 345,386.8 357.4,386.8" stroke="#555" stroke-width="0.7" fill="none"/>
<line x1="346.7" y1="401" x2="351.3" y2="401" stroke="#111" stroke-width="1"/>
<line x1="347.6" y1="402.7" x2="350.4" y2="402.7" stroke="#222" stroke-width="0.8"/>
<line x1="314.3" y1="380.2" x2="315.9" y2="380.2" stroke="#222" stroke-width="1.1"/>
<line x1="314.3" y1="388.12" x2="315.9" y2="388.12" stroke="#222" stroke-width="1.1"/>
<line x1="314.3" y1="396.05" x2="315.9" y2="396.05" stroke="#222" stroke-width="1.1"/>
<line x1="314.3" y1="403.97" x2="315.9" y2="403.97" stroke="#222" stroke-width="1.1"/>
<line x1="314.3" y1="411.9" x2="315.9" y2="411.9" stroke="#222" stroke-width="1.1"/>
<line x1="323.7" y1="423.8" x2="324.6" y2="423" stroke="#444" stroke-width="0.7"/>
<line x1="331.22" y1="423.8" x2="332.12" y2="423" stroke="#444" stroke-width="0.7"/>
<line x1="338.75" y1="423.8" x2="339.65" y2="423" stroke="#444" stroke-width="0.7"/>
<line x1="346.27" y1="423.8" x2="347.18" y2="423" stroke="#444" stroke-width="0.7"/>
<line x1="353.8" y1="423.8" x2="354.7" y2="423" stroke="#444" stroke-width="0.7"/>
<text transform="translate(111.08 339.58) scale(0.95 1)" font-size="9.8" fill="#333" stroke="#333" stroke-width="0.19">25.6±0.62%</text>
<text transform="translate(210.38 340.69) scale(0.95 1)" font-size="9.81" fill="#333" stroke="#333" stroke-width="0.19">27.35±1.84%</text>
<text transform="translate(318.28 338.84) scale(0.95 1)" font-size="9.67" fill="#333" stroke="#333" stroke-width="0.19">36.61±2.76%</text>
<text transform="translate(111.88 388.89) scale(0.95 1)" font-size="9.83" fill="#333" stroke="#333" stroke-width="0.19">67.85±6.13%</text>
<text transform="translate(212.97 390.59) scale(0.95 1)" font-size="9.55" fill="#333" stroke="#333" stroke-width="0.19">43.84±1.84%</text>
<text transform="translate(311.38 390.98) scale(0.95 1)" font-size="9.79" fill="#333" stroke="#333" stroke-width="0.19">61.00±2.78%</text>
<line x1="400.9" y1="333.1" x2="400.9" y2="393.6" stroke="#333" stroke-width="1.3"/>
<line x1="398.7" y1="333.1" x2="400.9" y2="333.1" stroke="#333" stroke-width="1.17"/>
<text transform="translate(392.5 334.78) scale(0.95 1)" font-size="6.62" fill="#333" stroke="#333" stroke-width="0.19">80</text>
<line x1="398.7" y1="348.3" x2="400.9" y2="348.3" stroke="#333" stroke-width="1.17"/>
<text transform="translate(392.5 349.98) scale(0.95 1)" font-size="6.62" fill="#333" stroke="#333" stroke-width="0.19">60</text>
<line x1="398.7" y1="363.5" x2="400.9" y2="363.5" stroke="#333" stroke-width="1.17"/>
<text transform="translate(392.5 365.18) scale(0.95 1)" font-size="6.62" fill="#333" stroke="#333" stroke-width="0.19">40</text>
<line x1="398.7" y1="378.5" x2="400.9" y2="378.5" stroke="#333" stroke-width="1.17"/>
<text transform="translate(392.5 380.18) scale(0.95 1)" font-size="6.62" fill="#333" stroke="#333" stroke-width="0.19">20</text>
<line x1="398.7" y1="393.6" x2="400.9" y2="393.6" stroke="#333" stroke-width="1.17"/>
<text transform="translate(396.02 395.28) scale(0.95 1)" font-size="6.62" fill="#333" stroke="#333" stroke-width="0.19">0</text>
<line x1="400.9" y1="393.6" x2="491" y2="393.6" stroke="#333" stroke-width="1.3"/>
<line x1="410.4" y1="393.6" x2="410.4" y2="395.6" stroke="#333" stroke-width="0.9"/>
<line x1="421.5" y1="393.6" x2="421.5" y2="395.6" stroke="#333" stroke-width="0.9"/>
<line x1="440.8" y1="393.6" x2="440.8" y2="395.6" stroke="#333" stroke-width="0.9"/>
<line x1="452.1" y1="393.6" x2="452.1" y2="395.6" stroke="#333" stroke-width="0.9"/>
<line x1="471" y1="393.6" x2="471" y2="395.6" stroke="#333" stroke-width="0.9"/>
<line x1="482.5" y1="393.6" x2="482.5" y2="395.6" stroke="#333" stroke-width="0.9"/>
<text transform="translate(388.3 396.3) rotate(-90) scale(0.95 1)" font-size="8.29" fill="#333" stroke="#333" stroke-width="0.19">% of FZD7 (<tspan font-size="5.04" dy="-2.42">+</tspan><tspan dy="2.42">) cells</tspan></text>
<circle cx="491.2" cy="313.8" r="1.4" fill="#111"/>
<text transform="translate(496.57 315.83) scale(0.95 1)" font-size="5.9" fill="#333" stroke="#333" stroke-width="0.19">SKOV3</text>
<rect x="489.9" y="322.2" width="2.6" height="2.6" fill="#a01d3d"/>
<text transform="translate(496.56 325.64) scale(0.95 1)" font-size="6.2" fill="#333" stroke="#333" stroke-width="0.19">OVCAR5</text>
<polygon points="489.7,334.5 492.7,334.5 491.2,331.8" fill="#3d9bd6"/>
<text transform="translate(496.56 335.6) scale(0.95 1)" font-size="6.09" fill="#333" stroke="#333" stroke-width="0.19">COV362</text>
<polyline points="410.4,369.2 410.4,330 421.5,330 421.5,332.5" stroke="#222" stroke-width="1" fill="none"/>
<text transform="translate(412.44 330.63) scale(0.95 1)" font-size="4.73" fill="#222" stroke="#222" stroke-width="0.19">****</text>
<line x1="406.4" y1="374.6" x2="414.4" y2="374.6" stroke="#333" stroke-width="1"/>
<circle cx="408.6" cy="374.8" r="1.3" fill="#111"/>
<circle cx="410.6" cy="374.2" r="1.3" fill="#111"/>
<circle cx="412.2" cy="374.9" r="1.3" fill="#111"/>
<line x1="421.5" y1="336.9" x2="421.5" y2="347.3" stroke="#333" stroke-width="0.9"/>
<line x1="417" y1="342.7" x2="426" y2="342.7" stroke="#333" stroke-width="1"/>
<line x1="419" y1="336.9" x2="424" y2="336.9" stroke="#333" stroke-width="0.8"/>
<line x1="419" y1="347.3" x2="424" y2="347.3" stroke="#333" stroke-width="0.8"/>
<circle cx="421.8" cy="337.7" r="1.3" fill="#111"/>
<circle cx="419.9" cy="343.7" r="1.3" fill="#111"/>
<circle cx="423" cy="346.5" r="1.3" fill="#111"/>
<polyline points="440.8,370.2 440.8,345 452.1,345 452.1,347.5" stroke="#222" stroke-width="1" fill="none"/>
<text transform="translate(445.57 345.63) scale(0.95 1)" font-size="4.73" fill="#222" stroke="#222" stroke-width="0.19">*</text>
<line x1="436.8" y1="373.5" x2="444.8" y2="373.5" stroke="#333" stroke-width="1"/>
<rect x="437.75" y="372.45" width="2.5" height="2.5" fill="#a01d3d"/>
<rect x="439.75" y="371.85" width="2.5" height="2.5" fill="#a01d3d"/>
<rect x="441.35" y="372.55" width="2.5" height="2.5" fill="#a01d3d"/>
<line x1="452.1" y1="352.3" x2="452.1" y2="366.9" stroke="#a01d3d" stroke-width="0.9"/>
<line x1="447.6" y1="360.6" x2="456.6" y2="360.6" stroke="#333" stroke-width="1"/>
<line x1="449.6" y1="352.3" x2="454.6" y2="352.3" stroke="#333" stroke-width="0.8"/>
<line x1="449.6" y1="366.9" x2="454.6" y2="366.9" stroke="#333" stroke-width="0.8"/>
<rect x="451.15" y="351.85" width="2.5" height="2.5" fill="#a01d3d"/>
<rect x="449.25" y="360.35" width="2.5" height="2.5" fill="#a01d3d"/>
<rect x="452.35" y="364.85" width="2.5" height="2.5" fill="#a01d3d"/>
<polyline points="471,360.6 471,342 481.8,342 481.8,344.5" stroke="#222" stroke-width="1" fill="none"/>
<text transform="translate(472.89 342.63) scale(0.95 1)" font-size="4.73" fill="#222" stroke="#222" stroke-width="0.19">****</text>
<line x1="467" y1="366.3" x2="475" y2="366.3" stroke="#333" stroke-width="1"/>
<polygon points="467.7,367.7 470.7,367.7 469.2,365" fill="#3d9bd6"/>
<polygon points="469.7,367.1 472.7,367.1 471.2,364.4" fill="#3d9bd6"/>
<polygon points="471.3,367.8 474.3,367.8 472.8,365.1" fill="#3d9bd6"/>
<line x1="481.8" y1="345.2" x2="481.8" y2="349.5" stroke="#3d9bd6" stroke-width="0.9"/>
<line x1="477.3" y1="347.5" x2="486.3" y2="347.5" stroke="#333" stroke-width="1"/>
<line x1="479.3" y1="345.2" x2="484.3" y2="345.2" stroke="#333" stroke-width="0.8"/>
<line x1="479.3" y1="349.5" x2="484.3" y2="349.5" stroke="#333" stroke-width="0.8"/>
<polygon points="480.6,347.2 483.6,347.2 482.1,344.5" fill="#3d9bd6"/>
<polygon points="478.7,349.7 481.7,349.7 480.2,347" fill="#3d9bd6"/>
<polygon points="481.8,349.9 484.8,349.9 483.3,347.2" fill="#3d9bd6"/>
<text transform="translate(407.51 412.94) rotate(-44) scale(0.95 1)" font-size="8.4" fill="#222" stroke="#222" stroke-width="0.19">WT</text>
<text transform="translate(415.54 416.98) rotate(-44) scale(0.95 1)" font-size="8.4" fill="#222" stroke="#222" stroke-width="0.19">CDDP</text>
<text transform="translate(437.91 412.94) rotate(-44) scale(0.95 1)" font-size="8.4" fill="#222" stroke="#222" stroke-width="0.19">WT</text>
<text transform="translate(446.14 416.98) rotate(-44) scale(0.95 1)" font-size="8.4" fill="#222" stroke="#222" stroke-width="0.19">CDDP</text>
<text transform="translate(468.11 412.94) rotate(-44) scale(0.95 1)" font-size="8.4" fill="#222" stroke="#222" stroke-width="0.19">WT</text>
<text transform="translate(476.54 416.98) rotate(-44) scale(0.95 1)" font-size="8.4" fill="#222" stroke="#222" stroke-width="0.19">CDDP</text>
<text transform="translate(18.85 446.45) scale(1.34 1)" font-size="16.52" font-weight="bold" fill="#0a0a0a">I</text>
<line x1="47.1" y1="462" x2="47.1" y2="535.6" stroke="#7a8aae" stroke-width="1.1"/>
<line x1="44.7" y1="463.7" x2="47.1" y2="463.7" stroke="#333" stroke-width="1"/>
<text transform="translate(35.71 465.36) scale(0.95 1)" font-size="5.99" font-weight="bold" fill="#222" stroke="#222" stroke-width="0.19">800</text>
<line x1="44.7" y1="481.5" x2="47.1" y2="481.5" stroke="#333" stroke-width="1"/>
<text transform="translate(35.71 483.16) scale(0.95 1)" font-size="5.99" font-weight="bold" fill="#222" stroke="#222" stroke-width="0.19">600</text>
<line x1="44.7" y1="499.4" x2="47.1" y2="499.4" stroke="#333" stroke-width="1"/>
<text transform="translate(35.71 501.06) scale(0.95 1)" font-size="5.99" font-weight="bold" fill="#222" stroke="#222" stroke-width="0.19">400</text>
<line x1="44.7" y1="517.4" x2="47.1" y2="517.4" stroke="#333" stroke-width="1"/>
<text transform="translate(35.71 519.06) scale(0.95 1)" font-size="5.99" font-weight="bold" fill="#222" stroke="#222" stroke-width="0.19">200</text>
<line x1="17.5" y1="535.6" x2="107" y2="535.6" stroke="#444" stroke-width="1.1"/>
<line x1="17.5" y1="535.6" x2="17.5" y2="537.8" stroke="#444" stroke-width="1"/>
<line x1="47.1" y1="535.6" x2="47.1" y2="537.8" stroke="#444" stroke-width="1"/>
<line x1="76.8" y1="535.6" x2="76.8" y2="537.8" stroke="#444" stroke-width="1"/>
<line x1="106.6" y1="535.6" x2="106.6" y2="537.8" stroke="#444" stroke-width="1"/>
<text transform="translate(13.92 543.94) scale(0.95 1)" font-size="6.2" font-weight="bold" fill="#222" stroke="#222" stroke-width="0.19">-50</text>
<text transform="translate(45.35 543.04) scale(0.95 1)" font-size="6.2" font-weight="bold" fill="#222" stroke="#222" stroke-width="0.19">0</text>
<text transform="translate(101.31 543.94) scale(0.95 1)" font-size="6.2" font-weight="bold" fill="#222" stroke="#222" stroke-width="0.19">100</text>
<text transform="translate(28.7 533.4) rotate(-90) scale(0.95 1)" font-size="7.46" font-weight="bold" fill="#1a1a1a" stroke="#1a1a1a" stroke-width="0.19">Tumor volume (mm<tspan font-size="4.51" dy="-2.73">3</tspan><tspan dy="2.73">)</tspan></text>
<text transform="translate(33.96 551.4) scale(0.95 1)" font-size="5.84" font-weight="bold" fill="#1a1a1a" stroke="#1a1a1a" stroke-width="0.19">Days post treatment</text>
<line x1="50.5" y1="546" x2="50.5" y2="542" stroke="#111" stroke-width="1.4"/>
<polygon points="49.15,543.4 51.85,543.4 50.5,538.4" fill="#111"/>
<line x1="53.52" y1="546" x2="53.52" y2="542" stroke="#111" stroke-width="1.4"/>
<polygon points="52.17,543.4 54.87,543.4 53.52,538.4" fill="#111"/>
<line x1="56.54" y1="546" x2="56.54" y2="542" stroke="#111" stroke-width="1.4"/>
<polygon points="55.19,543.4 57.89,543.4 56.54,538.4" fill="#111"/>
<line x1="59.56" y1="546" x2="59.56" y2="542" stroke="#111" stroke-width="1.4"/>
<polygon points="58.21,543.4 60.91,543.4 59.56,538.4" fill="#111"/>
<line x1="62.58" y1="546" x2="62.58" y2="542" stroke="#111" stroke-width="1.4"/>
<polygon points="61.23,543.4 63.93,543.4 62.58,538.4" fill="#111"/>
<line x1="65.6" y1="546" x2="65.6" y2="542" stroke="#111" stroke-width="1.4"/>
<polygon points="64.25,543.4 66.95,543.4 65.6,538.4" fill="#111"/>
<line x1="68.62" y1="546" x2="68.62" y2="542" stroke="#111" stroke-width="1.4"/>
<polygon points="67.27,543.4 69.97,543.4 68.62,538.4" fill="#111"/>
<polyline points="43.8,532.6 47.6,525.9 51.7,517.9 55.7,511.4 60.1,511.4 63.9,507.2 65.8,505.8 67.8,507.4 69.8,508.8 71.6,510.2 74.5,508.8 77.7,507.3 83,513.2 85.2,523.6 86.6,525 89.3,520.4 91.4,514.2 93.6,511.9 95.3,505.8 97.4,500.5 99,497 101.2,492 103.3,482" stroke="#e0197d" stroke-width="1.2" fill="none"/>
<circle cx="43.8" cy="532.6" r="1.35" fill="#e0197d"/>
<line x1="47.6" y1="524.4" x2="47.6" y2="527.4" stroke="#e0197d" stroke-width="1.1"/>
<line x1="46" y1="524.4" x2="49.2" y2="524.4" stroke="#e0197d" stroke-width="1.1"/>
<line x1="46" y1="527.4" x2="49.2" y2="527.4" stroke="#e0197d" stroke-width="1.1"/>
<circle cx="47.6" cy="525.9" r="1.35" fill="#e0197d"/>
<line x1="51.7" y1="514.7" x2="51.7" y2="521.1" stroke="#e0197d" stroke-width="1.1"/>
<line x1="50.1" y1="514.7" x2="53.3" y2="514.7" stroke="#e0197d" stroke-width="1.1"/>
<line x1="50.1" y1="521.1" x2="53.3" y2="521.1" stroke="#e0197d" stroke-width="1.1"/>
<circle cx="51.7" cy="517.9" r="1.35" fill="#e0197d"/>
<line x1="55.7" y1="508.8" x2="55.7" y2="514" stroke="#e0197d" stroke-width="1.1"/>
<line x1="54.1" y1="508.8" x2="57.3" y2="508.8" stroke="#e0197d" stroke-width="1.1"/>
<line x1="54.1" y1="514" x2="57.3" y2="514" stroke="#e0197d" stroke-width="1.1"/>
<circle cx="55.7" cy="511.4" r="1.35" fill="#e0197d"/>
<line x1="60.1" y1="508.8" x2="60.1" y2="514" stroke="#e0197d" stroke-width="1.1"/>
<line x1="58.5" y1="508.8" x2="61.7" y2="508.8" stroke="#e0197d" stroke-width="1.1"/>
<line x1="58.5" y1="514" x2="61.7" y2="514" stroke="#e0197d" stroke-width="1.1"/>
<circle cx="60.1" cy="511.4" r="1.35" fill="#e0197d"/>
<line x1="63.9" y1="504" x2="63.9" y2="510.4" stroke="#e0197d" stroke-width="1.1"/>
<line x1="62.3" y1="504" x2="65.5" y2="504" stroke="#e0197d" stroke-width="1.1"/>
<line x1="62.3" y1="510.4" x2="65.5" y2="510.4" stroke="#e0197d" stroke-width="1.1"/>
<circle cx="63.9" cy="507.2" r="1.35" fill="#e0197d"/>
<line x1="65.8" y1="502" x2="65.8" y2="509.6" stroke="#e0197d" stroke-width="1.1"/>
<line x1="64.2" y1="502" x2="67.4" y2="502" stroke="#e0197d" stroke-width="1.1"/>
<line x1="64.2" y1="509.6" x2="67.4" y2="509.6" stroke="#e0197d" stroke-width="1.1"/>
<circle cx="65.8" cy="505.8" r="1.35" fill="#e0197d"/>
<line x1="67.8" y1="504" x2="67.8" y2="510.8" stroke="#e0197d" stroke-width="1.1"/>
<line x1="66.2" y1="504" x2="69.4" y2="504" stroke="#e0197d" stroke-width="1.1"/>
<line x1="66.2" y1="510.8" x2="69.4" y2="510.8" stroke="#e0197d" stroke-width="1.1"/>
<circle cx="67.8" cy="507.4" r="1.35" fill="#e0197d"/>
<line x1="69.8" y1="505.4" x2="69.8" y2="512.2" stroke="#e0197d" stroke-width="1.1"/>
<line x1="68.2" y1="505.4" x2="71.4" y2="505.4" stroke="#e0197d" stroke-width="1.1"/>
<line x1="68.2" y1="512.2" x2="71.4" y2="512.2" stroke="#e0197d" stroke-width="1.1"/>
<circle cx="69.8" cy="508.8" r="1.35" fill="#e0197d"/>
<line x1="71.6" y1="506.6" x2="71.6" y2="513.8" stroke="#e0197d" stroke-width="1.1"/>
<line x1="70" y1="506.6" x2="73.2" y2="506.6" stroke="#e0197d" stroke-width="1.1"/>
<line x1="70" y1="513.8" x2="73.2" y2="513.8" stroke="#e0197d" stroke-width="1.1"/>
<circle cx="71.6" cy="510.2" r="1.35" fill="#e0197d"/>
<line x1="74.5" y1="505.2" x2="74.5" y2="512.4" stroke="#e0197d" stroke-width="1.1"/>
<line x1="72.9" y1="505.2" x2="76.1" y2="505.2" stroke="#e0197d" stroke-width="1.1"/>
<line x1="72.9" y1="512.4" x2="76.1" y2="512.4" stroke="#e0197d" stroke-width="1.1"/>
<circle cx="74.5" cy="508.8" r="1.35" fill="#e0197d"/>
<line x1="77.7" y1="502.8" x2="77.7" y2="511.8" stroke="#e0197d" stroke-width="1.1"/>
<line x1="76.1" y1="502.8" x2="79.3" y2="502.8" stroke="#e0197d" stroke-width="1.1"/>
<line x1="76.1" y1="511.8" x2="79.3" y2="511.8" stroke="#e0197d" stroke-width="1.1"/>
<circle cx="77.7" cy="507.3" r="1.35" fill="#e0197d"/>
<line x1="83" y1="511" x2="83" y2="515.4" stroke="#e0197d" stroke-width="1.1"/>
<line x1="81.4" y1="511" x2="84.6" y2="511" stroke="#e0197d" stroke-width="1.1"/>
<line x1="81.4" y1="515.4" x2="84.6" y2="515.4" stroke="#e0197d" stroke-width="1.1"/>
<circle cx="83" cy="513.2" r="1.35" fill="#e0197d"/>
<line x1="85.2" y1="520.4" x2="85.2" y2="526.8" stroke="#e0197d" stroke-width="1.1"/>
<line x1="83.6" y1="520.4" x2="86.8" y2="520.4" stroke="#e0197d" stroke-width="1.1"/>
<line x1="83.6" y1="526.8" x2="86.8" y2="526.8" stroke="#e0197d" stroke-width="1.1"/>
<circle cx="85.2" cy="523.6" r="1.35" fill="#e0197d"/>
<line x1="86.6" y1="522" x2="86.6" y2="528" stroke="#e0197d" stroke-width="1.1"/>
<line x1="85" y1="522" x2="88.2" y2="522" stroke="#e0197d" stroke-width="1.1"/>
<line x1="85" y1="528" x2="88.2" y2="528" stroke="#e0197d" stroke-width="1.1"/>
<circle cx="86.6" cy="525" r="1.35" fill="#e0197d"/>
<line x1="89.3" y1="517.8" x2="89.3" y2="523" stroke="#e0197d" stroke-width="1.1"/>
<line x1="87.7" y1="517.8" x2="90.9" y2="517.8" stroke="#e0197d" stroke-width="1.1"/>
<line x1="87.7" y1="523" x2="90.9" y2="523" stroke="#e0197d" stroke-width="1.1"/>
<circle cx="89.3" cy="520.4" r="1.35" fill="#e0197d"/>
<line x1="91.4" y1="511.6" x2="91.4" y2="516.8" stroke="#e0197d" stroke-width="1.1"/>
<line x1="89.8" y1="511.6" x2="93" y2="511.6" stroke="#e0197d" stroke-width="1.1"/>
<line x1="89.8" y1="516.8" x2="93" y2="516.8" stroke="#e0197d" stroke-width="1.1"/>
<circle cx="91.4" cy="514.2" r="1.35" fill="#e0197d"/>
<line x1="93.6" y1="508.9" x2="93.6" y2="514.9" stroke="#e0197d" stroke-width="1.1"/>
<line x1="92" y1="508.9" x2="95.2" y2="508.9" stroke="#e0197d" stroke-width="1.1"/>
<line x1="92" y1="514.9" x2="95.2" y2="514.9" stroke="#e0197d" stroke-width="1.1"/>
<circle cx="93.6" cy="511.9" r="1.35" fill="#e0197d"/>
<line x1="95.3" y1="501.8" x2="95.3" y2="509.8" stroke="#e0197d" stroke-width="1.1"/>
<line x1="93.7" y1="501.8" x2="96.9" y2="501.8" stroke="#e0197d" stroke-width="1.1"/>
<line x1="93.7" y1="509.8" x2="96.9" y2="509.8" stroke="#e0197d" stroke-width="1.1"/>
<circle cx="95.3" cy="505.8" r="1.35" fill="#e0197d"/>
<line x1="97.4" y1="493.5" x2="97.4" y2="507.5" stroke="#e0197d" stroke-width="1.1"/>
<line x1="95.8" y1="493.5" x2="99" y2="493.5" stroke="#e0197d" stroke-width="1.1"/>
<line x1="95.8" y1="507.5" x2="99" y2="507.5" stroke="#e0197d" stroke-width="1.1"/>
<circle cx="97.4" cy="500.5" r="1.35" fill="#e0197d"/>
<line x1="99" y1="487" x2="99" y2="507" stroke="#e0197d" stroke-width="1.1"/>
<line x1="97.4" y1="487" x2="100.6" y2="487" stroke="#e0197d" stroke-width="1.1"/>
<line x1="97.4" y1="507" x2="100.6" y2="507" stroke="#e0197d" stroke-width="1.1"/>
<circle cx="99" cy="497" r="1.35" fill="#e0197d"/>
<line x1="101.2" y1="481" x2="101.2" y2="503" stroke="#e0197d" stroke-width="1.1"/>
<line x1="99.6" y1="481" x2="102.8" y2="481" stroke="#e0197d" stroke-width="1.1"/>
<line x1="99.6" y1="503" x2="102.8" y2="503" stroke="#e0197d" stroke-width="1.1"/>
<circle cx="101.2" cy="492" r="1.35" fill="#e0197d"/>
<line x1="103.3" y1="467.5" x2="103.3" y2="496.5" stroke="#e0197d" stroke-width="1.1"/>
<line x1="101.7" y1="467.5" x2="104.9" y2="467.5" stroke="#e0197d" stroke-width="1.1"/>
<line x1="101.7" y1="496.5" x2="104.9" y2="496.5" stroke="#e0197d" stroke-width="1.1"/>
<circle cx="103.3" cy="482" r="1.35" fill="#e0197d"/>
<circle cx="85.2" cy="523.8" r="1.9" fill="#e0197d"/>
<text transform="translate(125.29 446.82) scale(1.16 1)" font-size="13.43" font-weight="bold" fill="#0a0a0a">J</text>
<text transform="translate(171.6 440.25) scale(0.95 1)" font-size="9.43" fill="#333" stroke="#333" stroke-width="0.19">APC</text>
<line x1="146.4" y1="461.2" x2="146.4" y2="524.3" stroke="#333" stroke-width="1.3"/>
<line x1="143.9" y1="461.2" x2="146.4" y2="461.2" stroke="#333" stroke-width="1.17"/>
<text transform="translate(131.8 463.5) scale(0.95 1)" font-size="8.4" fill="#333" stroke="#333" stroke-width="0.19">2.5</text>
<line x1="143.9" y1="473.8" x2="146.4" y2="473.8" stroke="#333" stroke-width="1.17"/>
<text transform="translate(131.8 476.1) scale(0.95 1)" font-size="8.4" fill="#333" stroke="#333" stroke-width="0.19">2.0</text>
<line x1="143.9" y1="486.4" x2="146.4" y2="486.4" stroke="#333" stroke-width="1.17"/>
<text transform="translate(131.8 488.66) scale(0.95 1)" font-size="8.4" fill="#333" stroke="#333" stroke-width="0.19">1.5</text>
<line x1="143.9" y1="499" x2="146.4" y2="499" stroke="#333" stroke-width="1.17"/>
<text transform="translate(131.8 501.3) scale(0.95 1)" font-size="8.4" fill="#333" stroke="#333" stroke-width="0.19">1.0</text>
<line x1="143.9" y1="511.7" x2="146.4" y2="511.7" stroke="#333" stroke-width="1.17"/>
<text transform="translate(131.8 514) scale(0.95 1)" font-size="8.4" fill="#333" stroke="#333" stroke-width="0.19">0.5</text>
<line x1="143.9" y1="524.3" x2="146.4" y2="524.3" stroke="#333" stroke-width="1.17"/>
<text transform="translate(131.8 526.6) scale(0.95 1)" font-size="8.4" fill="#333" stroke="#333" stroke-width="0.19">0.0</text>
<line x1="146.4" y1="524.3" x2="245" y2="524.3" stroke="#333" stroke-width="1.3"/>
<text transform="translate(127.03 523.66) rotate(-90) scale(0.95 1)" font-size="7.94" fill="#333" stroke="#333" stroke-width="0.19">Log<tspan font-size="4.92" dy="1.68">10</tspan><tspan dy="-1.68"> (fold change)</tspan></text>
<line x1="156.25" y1="491.25" x2="156.25" y2="515.5" stroke="#222" stroke-width="1.1"/>
<line x1="149.95" y1="503" x2="162.55" y2="503" stroke="#222" stroke-width="1.6"/>
<line x1="152.45" y1="491.25" x2="160.05" y2="491.25" stroke="#222" stroke-width="1.1"/>
<line x1="152.45" y1="515.5" x2="160.05" y2="515.5" stroke="#222" stroke-width="1.1"/>
<circle cx="156.5" cy="481.75" r="1.5" fill="#111"/>
<circle cx="160" cy="507.5" r="1.5" fill="#111"/>
<circle cx="155" cy="511.75" r="1.5" fill="#111"/>
<circle cx="161.5" cy="511" r="1.5" fill="#111"/>
<circle cx="153" cy="507" r="1.5" fill="#111"/>
<text transform="translate(154.1 480.77) scale(0.95 1)" font-size="5.78" fill="#222" stroke="#222" stroke-width="0.19">**</text>
<line x1="156.25" y1="524.3" x2="156.25" y2="526.3" stroke="#333" stroke-width="0.9"/>
<text transform="translate(160.35 535.8) rotate(-42) scale(0.95 1)" font-size="7.88" text-anchor="end" fill="#333" stroke="#333" stroke-width="0.19">Sox2</text>
<line x1="175.5" y1="491.25" x2="175.5" y2="512.5" stroke="#222" stroke-width="1.1"/>
<line x1="169.2" y1="502" x2="181.8" y2="502" stroke="#222" stroke-width="1.6"/>
<line x1="171.7" y1="491.25" x2="179.3" y2="491.25" stroke="#222" stroke-width="1.1"/>
<line x1="171.7" y1="512.5" x2="179.3" y2="512.5" stroke="#222" stroke-width="1.1"/>
<circle cx="175.5" cy="484.5" r="1.5" fill="#111"/>
<circle cx="171" cy="507" r="1.5" fill="#111"/>
<circle cx="180" cy="509" r="1.5" fill="#111"/>
<circle cx="176" cy="502" r="1.5" fill="#111"/>
<circle cx="174" cy="510" r="1.5" fill="#111"/>
<text transform="translate(173.35 484.02) scale(0.95 1)" font-size="5.78" fill="#222" stroke="#222" stroke-width="0.19">**</text>
<line x1="175.5" y1="524.3" x2="175.5" y2="526.3" stroke="#333" stroke-width="0.9"/>
<text transform="translate(179.6 535.8) rotate(-42) scale(0.95 1)" font-size="7.88" text-anchor="end" fill="#333" stroke="#333" stroke-width="0.19">Nanog</text>
<line x1="194.5" y1="502.5" x2="194.5" y2="511.25" stroke="#222" stroke-width="1.1"/>
<line x1="188.2" y1="507.5" x2="200.8" y2="507.5" stroke="#222" stroke-width="1.6"/>
<line x1="190.7" y1="502.5" x2="198.3" y2="502.5" stroke="#222" stroke-width="1.1"/>
<line x1="190.7" y1="511.25" x2="198.3" y2="511.25" stroke="#222" stroke-width="1.1"/>
<circle cx="194.5" cy="499.5" r="1.5" fill="#111"/>
<circle cx="191" cy="507" r="1.5" fill="#111"/>
<circle cx="197" cy="506" r="1.5" fill="#111"/>
<circle cx="193" cy="511" r="1.5" fill="#111"/>
<circle cx="197.5" cy="511" r="1.5" fill="#111"/>
<text transform="translate(191.28 498.27) scale(0.95 1)" font-size="5.78" fill="#222" stroke="#222" stroke-width="0.19">***</text>
<line x1="194.5" y1="524.3" x2="194.5" y2="526.3" stroke="#333" stroke-width="0.9"/>
<text transform="translate(198.6 535.8) rotate(-42) scale(0.95 1)" font-size="7.88" text-anchor="end" fill="#333" stroke="#333" stroke-width="0.19">Oct4</text>
<line x1="213.75" y1="498.75" x2="213.75" y2="510" stroke="#222" stroke-width="1.1"/>
<line x1="207.45" y1="504.5" x2="220.05" y2="504.5" stroke="#222" stroke-width="1.6"/>
<line x1="209.95" y1="498.75" x2="217.55" y2="498.75" stroke="#222" stroke-width="1.1"/>
<line x1="209.95" y1="510" x2="217.55" y2="510" stroke="#222" stroke-width="1.1"/>
<circle cx="211" cy="499" r="1.5" fill="#111"/>
<circle cx="216" cy="499.5" r="1.5" fill="#111"/>
<circle cx="213.5" cy="505" r="1.5" fill="#111"/>
<circle cx="211.5" cy="512" r="1.5" fill="#111"/>
<circle cx="216.5" cy="507" r="1.5" fill="#111"/>
<text transform="translate(210.53 498.27) scale(0.95 1)" font-size="5.78" fill="#222" stroke="#222" stroke-width="0.19">***</text>
<line x1="213.75" y1="524.3" x2="213.75" y2="526.3" stroke="#333" stroke-width="0.9"/>
<text transform="translate(217.85 535.8) rotate(-42) scale(0.95 1)" font-size="7.88" text-anchor="end" fill="#333" stroke="#333" stroke-width="0.19">ALDH1A1</text>
<line x1="233" y1="485.75" x2="233" y2="515.75" stroke="#222" stroke-width="1.1"/>
<line x1="226.7" y1="500.75" x2="239.3" y2="500.75" stroke="#222" stroke-width="1.6"/>
<line x1="229.2" y1="485.75" x2="236.8" y2="485.75" stroke="#222" stroke-width="1.1"/>
<line x1="229.2" y1="515.75" x2="236.8" y2="515.75" stroke="#222" stroke-width="1.1"/>
<circle cx="232.5" cy="475" r="1.5" fill="#111"/>
<circle cx="230.5" cy="502.5" r="1.5" fill="#111"/>
<circle cx="234.5" cy="501" r="1.5" fill="#111"/>
<circle cx="234" cy="508" r="1.5" fill="#111"/>
<circle cx="232" cy="515.5" r="1.5" fill="#111"/>
<text transform="translate(230.85 474.52) scale(0.95 1)" font-size="5.78" fill="#222" stroke="#222" stroke-width="0.19">**</text>
<line x1="233" y1="524.3" x2="233" y2="526.3" stroke="#333" stroke-width="0.9"/>
<text transform="translate(237.1 535.8) rotate(-42) scale(0.95 1)" font-size="7.88" text-anchor="end" fill="#333" stroke="#333" stroke-width="0.19">ALDH1A2</text>
<text transform="translate(250.52 447.25) scale(1.04 1)" font-size="14.93" font-weight="bold" fill="#0a0a0a">K</text>
<line x1="280.1" y1="455.4" x2="280.1" y2="524.6" stroke="#333" stroke-width="1.3"/>
<line x1="277.6" y1="455.4" x2="280.1" y2="455.4" stroke="#333" stroke-width="1.17"/>
<text transform="translate(265.8 457.7) scale(0.95 1)" font-size="8.4" fill="#333" stroke="#333" stroke-width="0.19">2.0</text>
<line x1="277.6" y1="472.7" x2="280.1" y2="472.7" stroke="#333" stroke-width="1.17"/>
<text transform="translate(265.8 474.96) scale(0.95 1)" font-size="8.4" fill="#333" stroke="#333" stroke-width="0.19">1.5</text>
<line x1="277.6" y1="490" x2="280.1" y2="490" stroke="#333" stroke-width="1.17"/>
<text transform="translate(265.8 492.3) scale(0.95 1)" font-size="8.4" fill="#333" stroke="#333" stroke-width="0.19">1.0</text>
<line x1="277.6" y1="507.3" x2="280.1" y2="507.3" stroke="#333" stroke-width="1.17"/>
<text transform="translate(265.8 509.6) scale(0.95 1)" font-size="8.4" fill="#333" stroke="#333" stroke-width="0.19">0.5</text>
<line x1="277.6" y1="524.6" x2="280.1" y2="524.6" stroke="#333" stroke-width="1.17"/>
<text transform="translate(265.8 526.9) scale(0.95 1)" font-size="8.4" fill="#333" stroke="#333" stroke-width="0.19">0.0</text>
<line x1="280.1" y1="524.6" x2="340.1" y2="524.6" stroke="#333" stroke-width="1.3"/>
<line x1="310.8" y1="524.6" x2="310.8" y2="526.6" stroke="#333" stroke-width="0.9"/>
<text transform="translate(259.07 522.77) rotate(-90) scale(0.95 1)" font-size="8.11" fill="#333" stroke="#333" stroke-width="0.19">Log<tspan font-size="5.03" dy="1.68">10</tspan><tspan dy="-1.68"> (fold change)</tspan></text>
<line x1="310.8" y1="473.8" x2="310.8" y2="505" stroke="#222" stroke-width="1.1"/>
<line x1="290.7" y1="489.5" x2="330.8" y2="489.5" stroke="#222" stroke-width="1.4"/>
<line x1="300.4" y1="473.8" x2="320.7" y2="473.8" stroke="#222" stroke-width="1.2"/>
<line x1="300.4" y1="505" x2="320.7" y2="505" stroke="#222" stroke-width="1.2"/>
<circle cx="310.8" cy="466.5" r="1.5" fill="#111"/>
<circle cx="310.8" cy="481.9" r="1.5" fill="#111"/>
<circle cx="308.5" cy="494.6" r="1.5" fill="#111"/>
<circle cx="312.4" cy="497.4" r="1.5" fill="#111"/>
<circle cx="310.8" cy="506.6" r="1.5" fill="#111"/>
<text transform="translate(308.66 463.77) scale(0.95 1)" font-size="5.78" fill="#222" stroke="#222" stroke-width="0.19">**</text>
<text transform="translate(302.54 544.68) scale(0.95 1)" font-size="7.77" fill="#333" stroke="#333" stroke-width="0.19">FZD7</text>
<text transform="translate(366.41 446.15) scale(1.01 1)" font-size="13.91" font-weight="bold" fill="#0a0a0a">L</text>
<text transform="translate(397.97 449.28)" font-size="9.3" fill="#333" stroke="#333" stroke-width="0.18">IgG</text>
<text transform="translate(448.49 450.14)" font-size="9.1" fill="#333" stroke="#333" stroke-width="0.18">FZD7</text>
<text transform="translate(488.87 480)" font-size="9.58" fill="#333" stroke="#333" stroke-width="0.18">Ctrl</text>
<text transform="translate(488.87 527.58)" font-size="9.51" fill="#333" stroke="#333" stroke-width="0.18">Carbo</text>
<text transform="translate(477.89 554.81)" font-size="7.26" fill="#333" stroke="#333" stroke-width="0.18">20×</text>
<rect x="377.4" y="451.8" width="54.4" height="47" fill="#98b0d8"/>
<rect x="377.4" y="451.8" width="54.4" height="47" fill="#000" filter="url(#lMot)"/>
<rect x="377.4" y="451.8" width="54.4" height="47" fill="#000" filter="url(#lDot2)"/>
<rect x="377.4" y="451.8" width="54.4" height="47" fill="#000" filter="url(#lDot)"/>
<rect x="377.4" y="451.8" width="54.4" height="47" fill="#000" filter="url(#lWsp)"/>
<rect x="377.4" y="451.8" width="54.4" height="47" fill="#000" filter="url(#lNav)"/>
<rect x="432.8" y="452.2" width="55.2" height="46.8" fill="#bac8e2"/>
<rect x="432.8" y="452.2" width="55.2" height="46.8" fill="#000" filter="url(#lMot2)"/>
<rect x="432.8" y="452.2" width="55.2" height="46.8" fill="#000" filter="url(#lDot3)"/>
<rect x="377.4" y="500.9" width="54.4" height="46.5" fill="#94add6"/>
<rect x="377.4" y="500.9" width="54.4" height="46.5" fill="#000" filter="url(#lMotB)"/>
<rect x="377.4" y="500.9" width="54.4" height="46.5" fill="#000" filter="url(#lDot2B)"/>
<rect x="377.4" y="500.9" width="54.4" height="46.5" fill="#000" filter="url(#lDotB)"/>
<rect x="377.4" y="500.9" width="54.4" height="46.5" fill="#000" filter="url(#lWspB)"/>
<rect x="377.4" y="500.9" width="54.4" height="46.5" fill="#000" filter="url(#lNavB)"/>
<rect x="432.8" y="500.9" width="55.2" height="47.1" fill="#9ea0ac"/>
<rect x="432.8" y="500.9" width="55.2" height="47.1" fill="#000" filter="url(#lBrM)"/>
<polygon points="432.8,514 460,548 432.8,548" fill="#6e5a4c" opacity="0.35" filter="url(#bl1)"/>
<polygon points="440,500.9 488,500.9 488,520 470,512" fill="#9a9aa0" opacity="0.35" filter="url(#bl1)"/>
<rect x="432.8" y="500.9" width="55.2" height="47.1" fill="#000" filter="url(#lBrD)"/>
<rect x="432.8" y="500.9" width="55.2" height="47.1" fill="#000" filter="url(#lBrW)"/>
<polygon points="432.8,536 445,548 432.8,548" fill="#d8d8d6"/>
<text transform="translate(10.98 579.55) scale(1.05 1)" font-size="16.67" font-weight="bold" fill="#0a0a0a">M</text>
<text transform="translate(55.93 576.37)" font-size="7.71" fill="#333" stroke="#333" stroke-width="0.18">Fallopian tube</text>
<text transform="translate(148.07 576.51)" font-size="7.63" fill="#333" stroke="#333" stroke-width="0.18">Chemo-naïve human OC tumors</text>
<text transform="translate(278.44 577.1)" font-size="7.61" fill="#333" stroke="#333" stroke-width="0.18">Platinum-resistant human OC tumors</text>
<text transform="translate(62.8 657.69)" font-size="7.8" fill="#333" stroke="#333" stroke-width="0.18">2.5×</text>
<text transform="translate(131.59 657.89)" font-size="7.8" fill="#333" stroke="#333" stroke-width="0.18">20×</text>
<text transform="translate(190.8 656.69)" font-size="7.8" fill="#333" stroke="#333" stroke-width="0.18">2.5×</text>
<text transform="translate(252.74 657.89)" font-size="7.8" fill="#333" stroke="#333" stroke-width="0.18">20×</text>
<text transform="translate(320.89 657.89)" font-size="7.8" fill="#333" stroke="#333" stroke-width="0.18">2.5×</text>
<text transform="translate(386.14 657.89)" font-size="7.8" fill="#333" stroke="#333" stroke-width="0.18">20×</text>
<rect x="13" y="582.5" width="66.3" height="66.9" fill="#ecebed"/>
<clipPath id="mc1"><path d="M47.6 584.6 C64 584 78.5 597 79 615 C79.5 634 66 648.5 47 648.3 C29 648 15 635 15 616 C15 598 30 585 47.6 584.6 Z"/></clipPath>
<rect x="13" y="582.5" width="66.3" height="66.9" fill="#c8c8d2" clip-path="url(#mc1)"/>
<rect x="13" y="582.5" width="66.3" height="66.9" fill="#000" filter="url(#tx1)" clip-path="url(#mc1)"/>
<rect x="13" y="582.5" width="66.3" height="66.9" fill="#000" filter="url(#tx2)" clip-path="url(#mc1)"/>
<rect x="13" y="582.5" width="66.3" height="66.9" fill="#000" filter="url(#tx3)" clip-path="url(#mc1)"/>
<path d="M20 625 C30 645 60 650 75 630 L75 648 L18 648 Z" fill="#8a7a70" opacity="0.18" clip-path="url(#mc1)" filter="url(#bl1)"/>
<polyline points="22,600 26,610 32,616 38,619" stroke="#5565a0" stroke-width="1.3" fill="none" opacity="0.7"/>
<polyline points="49,606.8 47.5,614 46,621 44.5,627.8" stroke="#f0f0f6" stroke-width="1.2" fill="none" opacity="0.9"/>
<polyline points="71.7,606.2 68,615 65,623 62.9,630.3" stroke="#f0f0f6" stroke-width="1.5" fill="none" opacity="0.9"/>
<rect x="81.3" y="582.5" width="64.4" height="67.5" fill="#c6c8d6"/>
<rect x="81.3" y="582.5" width="64.4" height="67.5" fill="#000" filter="url(#tx4)"/>
<rect x="81.3" y="582.5" width="64.4" height="67.5" fill="#000" filter="url(#tx5)"/>
<rect x="81.3" y="582.5" width="64.4" height="67.5" fill="#000" filter="url(#tx6)"/>
<polyline points="119.5,582.5 117.5,592 115,602 113,612 111.5,622 110,632 108.5,641 107.5,650" stroke="#eef0f6" stroke-width="3" fill="none"/>
<polyline points="117.5,597 115.5,606 114.5,614" stroke="#4a5aa0" stroke-width="2" fill="none" opacity="0.55"/>
<polyline points="144,600 140,615 136,632 133,650" stroke="#4a5aa0" stroke-width="1.4" fill="none" opacity="0.7"/>
<ellipse cx="93" cy="622" rx="4" ry="1.5" fill="#eef0f6" opacity="0.8"/>
<rect x="147.2" y="582.5" width="62" height="65.5" fill="#b3b5b7"/>
<clipPath id="mc3"><circle cx="178" cy="615" r="30"/></clipPath>
<rect x="147.2" y="582.5" width="62" height="65.5" fill="#9c9fa9" clip-path="url(#mc3)"/>
<rect x="147.2" y="582.5" width="62" height="65.5" fill="#000" filter="url(#tx7)" clip-path="url(#mc3)"/>
<rect x="147.2" y="582.5" width="62" height="65.5" fill="#000" filter="url(#tx8)" clip-path="url(#mc3)"/>
<circle cx="178" cy="615" r="30.2" fill="none" stroke="#8e9094" stroke-width="0.8"/>
<polyline points="178,625 196,618 206,610" stroke="#b8bac0" stroke-width="0.7" fill="none"/>
<polyline points="178,625 190,640" stroke="#b8bac0" stroke-width="0.7" fill="none"/>
<rect x="209.5" y="582.5" width="60.7" height="65.3" fill="#8e929c"/>
<rect x="209.5" y="582.5" width="60.7" height="65.3" fill="#000" filter="url(#tx9)"/>
<rect x="209.5" y="582.5" width="60.7" height="65.3" fill="#000" filter="url(#tx10)"/>
<rect x="271" y="581.6" width="64.6" height="65.5" fill="#ececec"/>
<clipPath id="mc5"><circle cx="302.8" cy="613.5" r="31.5"/></clipPath>
<rect x="271" y="581.6" width="64.6" height="65.5" fill="#b2b1bd" clip-path="url(#mc5)"/>
<rect x="271" y="581.6" width="64.6" height="65.5" fill="#000" filter="url(#tx11)" clip-path="url(#mc5)"/>
<rect x="271" y="581.6" width="64.6" height="65.5" fill="#000" filter="url(#tx12)" clip-path="url(#mc5)"/>
<rect x="271" y="581.6" width="64.6" height="65.5" fill="#000" filter="url(#tx13)" clip-path="url(#mc5)"/>
<path d="M283 589 A31.5 31.5 0 0 0 283 638" fill="none" stroke="#5e5252" stroke-width="3" opacity="0.55" filter="url(#bl05)"/>
<path d="M290 643 A31.5 31.5 0 0 0 318 641" fill="none" stroke="#6e6262" stroke-width="2" opacity="0.45" filter="url(#bl05)"/>
<path d="M273 605 C278 598 286 600 289 608 C287 616 282 622 275 627 Z" fill="#6a5c5c" opacity="0.4" filter="url(#bl1)" clip-path="url(#mc5)"/>
<path d="M309 584 A31.5 31.5 0 0 1 331 600" fill="none" stroke="#6e6262" stroke-width="2" opacity="0.35" filter="url(#bl05)"/>
<rect x="337.3" y="582.3" width="64.9" height="63.9" fill="#aca6ae"/>
<rect x="337.3" y="582.3" width="64.9" height="63.9" fill="#000" filter="url(#tx14)"/>
<rect x="337.3" y="582.3" width="64.9" height="63.9" fill="#000" filter="url(#tx15)"/>
<rect x="337.3" y="582.3" width="64.9" height="63.9" fill="#000" filter="url(#tx16)"/>
<rect x="375" y="582.3" width="27.2" height="63.9" fill="#5a4a4a" opacity="0.2" filter="url(#bl1)"/>
<line x1="425.4" y1="561.2" x2="425.4" y2="643.1" stroke="#333" stroke-width="1.2"/>
<line x1="422.9" y1="561.2" x2="425.4" y2="561.2" stroke="#333" stroke-width="1.08"/>
<text transform="translate(418.73 563.08)" font-size="7.2" fill="#333" stroke="#333" stroke-width="0.18">3</text>
<line x1="422.9" y1="581.9" x2="425.4" y2="581.9" stroke="#333" stroke-width="1.08"/>
<text transform="translate(418.73 583.82)" font-size="7.2" fill="#333" stroke="#333" stroke-width="0.18">2</text>
<line x1="422.9" y1="602.2" x2="425.4" y2="602.2" stroke="#333" stroke-width="1.08"/>
<text transform="translate(418.73 604.08)" font-size="7.2" fill="#333" stroke="#333" stroke-width="0.18">1</text>
<line x1="422.9" y1="622.3" x2="425.4" y2="622.3" stroke="#333" stroke-width="1.08"/>
<text transform="translate(418.66 624.18)" font-size="7.2" fill="#333" stroke="#333" stroke-width="0.18">0</text>
<line x1="422.9" y1="643.1" x2="425.4" y2="643.1" stroke="#333" stroke-width="1.08"/>
<text transform="translate(416.35 644.98)" font-size="7.2" fill="#333" stroke="#333" stroke-width="0.18">-1</text>
<line x1="425.4" y1="643.1" x2="487.7" y2="643.1" stroke="#333" stroke-width="1.2"/>
<text transform="translate(413.4 629.45) rotate(-90)" font-size="7.47" fill="#333" stroke="#333" stroke-width="0.18">FZD7 expression</text>
<polyline points="436.7,593.3 436.7,563 480.8,563 480.8,568" stroke="#444" stroke-width="0.9" fill="none"/>
<text transform="translate(459.33 563.59)" font-size="6" fill="#222" stroke="#222" stroke-width="0.18">*</text>
<polyline points="458.8,570.8 458.8,568 480.8,568 480.8,571" stroke="#444" stroke-width="0.9" fill="none"/>
<text transform="translate(468.25 568.83)" font-size="5.5" fill="#222" stroke="#222" stroke-width="0.18">**</text>
<line x1="436.7" y1="607.4" x2="436.7" y2="626.2" stroke="#222" stroke-width="0.8"/>
<line x1="432.5" y1="616.5" x2="441" y2="616.5" stroke="#333" stroke-width="0.9"/>
<line x1="434.5" y1="607.4" x2="439" y2="607.4" stroke="#222" stroke-width="0.9"/>
<line x1="434.5" y1="626.2" x2="439" y2="626.2" stroke="#222" stroke-width="0.9"/>
<circle cx="436.7" cy="598.3" r="1.15" fill="#111"/>
<circle cx="436.7" cy="614.6" r="1.15" fill="#111"/>
<circle cx="436.7" cy="619" r="1.15" fill="#111"/>
<circle cx="433.5" cy="622.9" r="1.15" fill="#111"/>
<circle cx="436.7" cy="622.9" r="1.15" fill="#111"/>
<circle cx="439.8" cy="622.9" r="1.15" fill="#111"/>
<rect x="454.2" y="572.8" width="8.8" height="1.6" fill="#1e2a80"/>
<rect x="454.9" y="589.5" width="7.4" height="5" fill="none" stroke="#1e2a80" stroke-width="1.6"/>
<line x1="458.6" y1="595" x2="458.6" y2="599.5" stroke="#1e2a80" stroke-width="0.9"/>
<line x1="456.8" y1="599.5" x2="460.4" y2="599.5" stroke="#1e2a80" stroke-width="1"/>
<rect x="454.5" y="601.1" width="8.2" height="1.6" fill="#1e2a80"/>
<rect x="454.5" y="603.8" width="8.2" height="1.6" fill="#1e2a80"/>
<rect x="454.5" y="606.4" width="8.2" height="1.6" fill="#1e2a80"/>
<path d="M454.2 609.8 L463 609.8 L463.2 618 Q462.5 623 460.5 624.4 L456.7 624.4 Q454.7 623 454 618 Z" fill="#1e2a80"/>
<circle cx="456.5" cy="613" r="0.55" fill="#c8cce8"/>
<circle cx="460.6" cy="614.5" r="0.55" fill="#c8cce8"/>
<circle cx="458.6" cy="617.5" r="0.55" fill="#c8cce8"/>
<circle cx="456.8" cy="620.5" r="0.55" fill="#c8cce8"/>
<circle cx="460.4" cy="621" r="0.55" fill="#c8cce8"/>
<circle cx="480.4" cy="573.5" r="1.05" fill="#d0283a"/>
<line x1="480.4" y1="590.3" x2="480.4" y2="612.5" stroke="#d0283a" stroke-width="0.8"/>
<line x1="477.4" y1="590.3" x2="483.4" y2="590.3" stroke="#d0283a" stroke-width="0.8"/>
<line x1="477.4" y1="612.5" x2="483.4" y2="612.5" stroke="#d0283a" stroke-width="0.8"/>
<line x1="476.5" y1="601.8" x2="484.5" y2="601.8" stroke="#d0283a" stroke-width="0.9"/>
<circle cx="477.4" cy="590.2" r="1" fill="#d0283a"/>
<circle cx="480.4" cy="590.2" r="1" fill="#d0283a"/>
<circle cx="483.4" cy="590.2" r="1" fill="#d0283a"/>
<circle cx="477.6" cy="598.4" r="1" fill="#d0283a"/>
<circle cx="480.4" cy="598.4" r="1" fill="#d0283a"/>
<circle cx="483.2" cy="598.4" r="1" fill="#d0283a"/>
<circle cx="477.4" cy="602.4" r="1" fill="#d0283a"/>
<circle cx="480.4" cy="602.4" r="1" fill="#d0283a"/>
<circle cx="483.6" cy="602.4" r="1" fill="#d0283a"/>
<circle cx="478.3" cy="604.6" r="1" fill="#d0283a"/>
<circle cx="482.6" cy="604.6" r="1" fill="#d0283a"/>
<circle cx="477.6" cy="606.8" r="1" fill="#d0283a"/>
<circle cx="480.2" cy="606.8" r="1" fill="#d0283a"/>
<circle cx="483.8" cy="606.8" r="1" fill="#d0283a"/>
<circle cx="477.4" cy="610.1" r="1" fill="#d0283a"/>
<circle cx="480.4" cy="610.1" r="1" fill="#d0283a"/>
<circle cx="483.4" cy="610.1" r="1" fill="#d0283a"/>
<circle cx="478.6" cy="612.7" r="1" fill="#d0283a"/>
<circle cx="482.2" cy="612.7" r="1" fill="#d0283a"/>
<circle cx="479.2" cy="615.2" r="1" fill="#d0283a"/>
<circle cx="482.9" cy="615.2" r="1" fill="#d0283a"/>
<circle cx="478" cy="618.4" r="1" fill="#d0283a"/>
<circle cx="481.2" cy="618.4" r="1" fill="#d0283a"/>
<text transform="translate(432.85 658.2) rotate(-30)" font-size="7.6" fill="#333" stroke="#333" stroke-width="0.18">FT</text>
<text transform="translate(444.94 661.34) rotate(-30)" font-size="7.6" fill="#333" stroke="#333" stroke-width="0.18">Chemo</text>
<text transform="translate(450.65 668.5) rotate(-30)" font-size="7.6" fill="#333" stroke="#333" stroke-width="0.18">-naive</text>
<text transform="translate(471.53 662.55) rotate(-30)" font-size="7.6" fill="#333" stroke="#333" stroke-width="0.18">Chemo-</text>
<text transform="translate(477.56 671.18) rotate(-30)" font-size="7.6" fill="#333" stroke="#333" stroke-width="0.18">resistant</text>
</svg></body></html>
